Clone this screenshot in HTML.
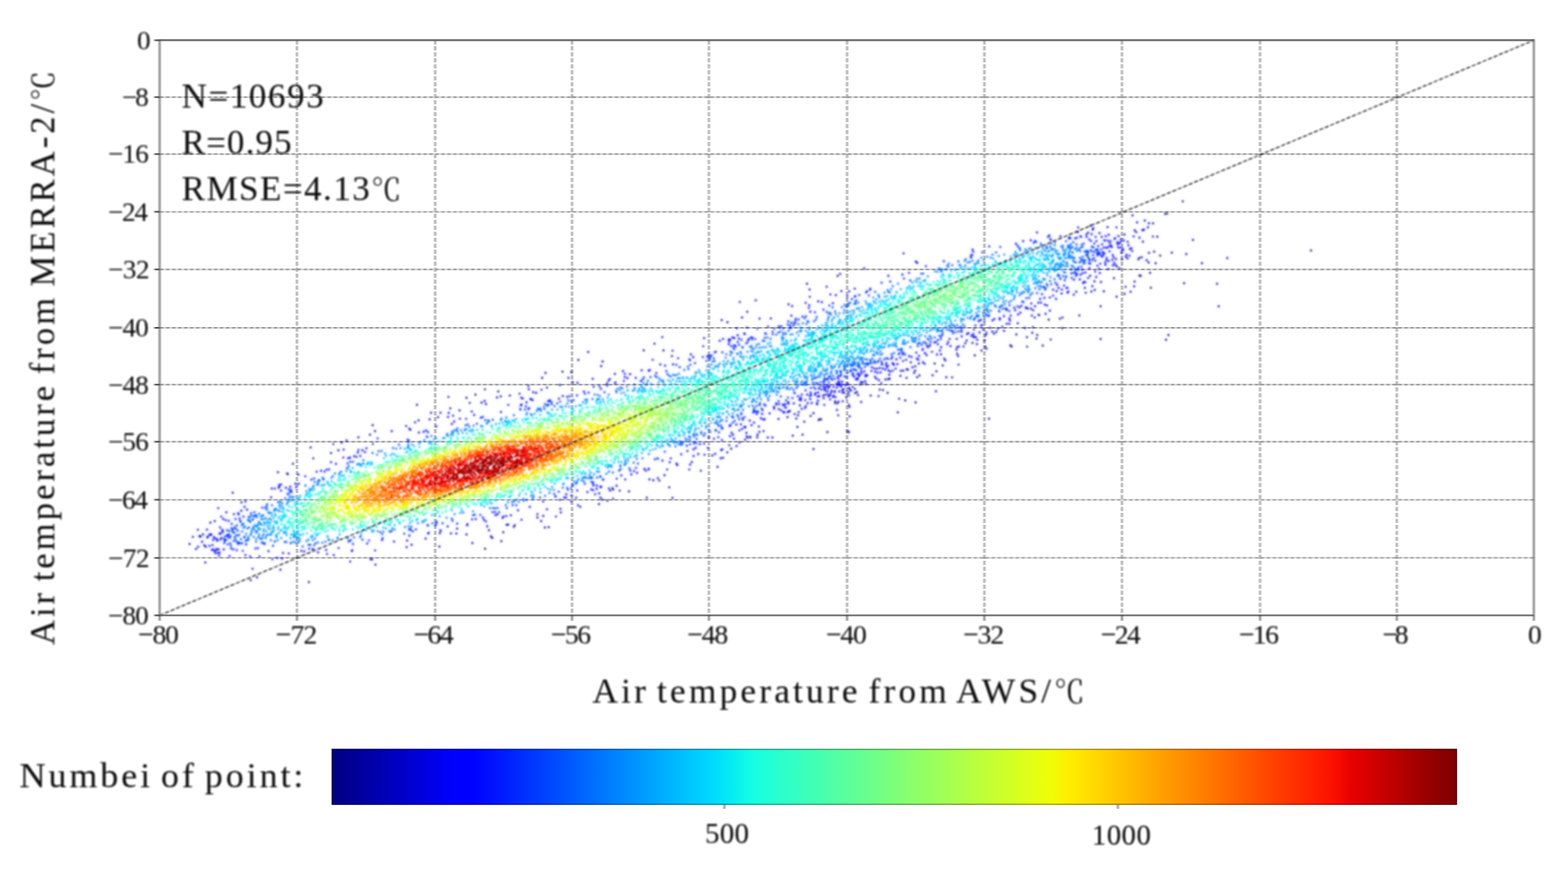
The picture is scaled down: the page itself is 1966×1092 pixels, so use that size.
<!DOCTYPE html>
<html lang="en"><head><meta charset="utf-8"><title>Air temperature from MERRA-2 vs AWS</title>
<style>
html,body{margin:0;padding:0;background:#fff;}
body{width:1966px;height:1092px;overflow:hidden;}
svg{display:block;}
text{font-family:"Liberation Serif","Noto Serif CJK SC",serif;fill:#111;stroke:#111;stroke-width:0.1px;}
</style></head><body>
<svg width="1966" height="1092" viewBox="0 0 1966 1092">
<defs><filter id="soft" x="0" y="0" width="100%" height="100%" filterUnits="userSpaceOnUse"><feGaussianBlur stdDeviation="0.8"/></filter><filter id="bleed" x="0" y="0" width="100%" height="100%" filterUnits="userSpaceOnUse"><feGaussianBlur stdDeviation="2.6"/></filter><filter id="lsoft" x="0" y="0" width="100%" height="100%" filterUnits="userSpaceOnUse"><feGaussianBlur stdDeviation="0.8 0"/></filter><filter id="tsoft" x="0" y="0" width="100%" height="100%" filterUnits="userSpaceOnUse"><feGaussianBlur stdDeviation="0.8"/></filter><linearGradient id="jet" x1="0" y1="0" x2="1" y2="0"><stop offset="0.0000" stop-color="#000080"/><stop offset="0.0156" stop-color="#000092"/><stop offset="0.0312" stop-color="#0000a4"/><stop offset="0.0469" stop-color="#0000b6"/><stop offset="0.0625" stop-color="#0000c8"/><stop offset="0.0781" stop-color="#0000da"/><stop offset="0.0938" stop-color="#0000ed"/><stop offset="0.1094" stop-color="#0000ff"/><stop offset="0.1250" stop-color="#0000ff"/><stop offset="0.1406" stop-color="#0010ff"/><stop offset="0.1562" stop-color="#0020ff"/><stop offset="0.1719" stop-color="#0030ff"/><stop offset="0.1875" stop-color="#0040ff"/><stop offset="0.2031" stop-color="#0050ff"/><stop offset="0.2188" stop-color="#0060ff"/><stop offset="0.2344" stop-color="#0070ff"/><stop offset="0.2500" stop-color="#0080ff"/><stop offset="0.2656" stop-color="#0090ff"/><stop offset="0.2812" stop-color="#00a0ff"/><stop offset="0.2969" stop-color="#00b0ff"/><stop offset="0.3125" stop-color="#00c0ff"/><stop offset="0.3281" stop-color="#00d0ff"/><stop offset="0.3438" stop-color="#00e0fb"/><stop offset="0.3594" stop-color="#09f0ee"/><stop offset="0.3750" stop-color="#16ffe1"/><stop offset="0.3906" stop-color="#23ffd4"/><stop offset="0.4062" stop-color="#30ffc7"/><stop offset="0.4219" stop-color="#3cffba"/><stop offset="0.4375" stop-color="#49ffad"/><stop offset="0.4531" stop-color="#56ffa0"/><stop offset="0.4688" stop-color="#63ff94"/><stop offset="0.4844" stop-color="#70ff87"/><stop offset="0.5000" stop-color="#7dff7a"/><stop offset="0.5156" stop-color="#8aff6d"/><stop offset="0.5312" stop-color="#97ff60"/><stop offset="0.5469" stop-color="#a4ff53"/><stop offset="0.5625" stop-color="#b1ff46"/><stop offset="0.5781" stop-color="#beff39"/><stop offset="0.5938" stop-color="#caff2c"/><stop offset="0.6094" stop-color="#d7ff1f"/><stop offset="0.6250" stop-color="#e4ff13"/><stop offset="0.6406" stop-color="#f1fc06"/><stop offset="0.6562" stop-color="#feed00"/><stop offset="0.6719" stop-color="#ffde00"/><stop offset="0.6875" stop-color="#ffd000"/><stop offset="0.7031" stop-color="#ffc100"/><stop offset="0.7188" stop-color="#ffb200"/><stop offset="0.7344" stop-color="#ffa300"/><stop offset="0.7500" stop-color="#ff9400"/><stop offset="0.7656" stop-color="#ff8600"/><stop offset="0.7812" stop-color="#ff7700"/><stop offset="0.7969" stop-color="#ff6800"/><stop offset="0.8125" stop-color="#ff5900"/><stop offset="0.8281" stop-color="#ff4a00"/><stop offset="0.8438" stop-color="#ff3b00"/><stop offset="0.8594" stop-color="#ff2d00"/><stop offset="0.8750" stop-color="#ff1e00"/><stop offset="0.8906" stop-color="#fa0f00"/><stop offset="0.9062" stop-color="#e80000"/><stop offset="0.9219" stop-color="#d60000"/><stop offset="0.9375" stop-color="#c40000"/><stop offset="0.9531" stop-color="#b20000"/><stop offset="0.9688" stop-color="#9f0000"/><stop offset="0.9844" stop-color="#8d0000"/><stop offset="1.0000" stop-color="#800000"/></linearGradient></defs>
<rect x="0" y="0" width="1966" height="1092" fill="#fff"/>
<g fill="none" filter="url(#lsoft)" stroke-dasharray="5.4 2.1"><path d="M372.4 50.4V771.5M545.6 50.4V771.5M717.3 50.4V771.5M888.8 50.4V771.5M1062.1 50.4V771.5M1234.3 50.4V771.5M1406.7 50.4V771.5M1579.9 50.4V771.5M1751.4 50.4V771.5" stroke="#3c3c3c" stroke-width="1.15"/><path d="M200.2 121.8H1923.2M200.2 193.2H1923.2M200.2 265.6H1923.2M200.2 337.7H1923.2M200.2 411.0H1923.2M200.2 482.3H1923.2M200.2 553.8H1923.2M200.2 626.6H1923.2M200.2 699.4H1923.2" stroke="#949494" stroke-width="1.9"/></g>
<g opacity="0.32" filter="url(#bleed)"><use href="#pts"/></g>
<g id="pts" fill="none" stroke-width="2.4" stroke-linecap="round" filter="url(#soft)">
<path stroke="#000089" d="M314.2 727.3h0m8.1-3.6h0m45-142.3h0m20 148.4h0m2.2-168.9h0m28.4-4.3h0m49.4-23.6h0m3.4 174.9h0m52.1-200.4h0m39.5-9.9h0m22.6 1.2h0m7.4 181.9h0m3.8-186h0m11.9-6.6h0m0.2 199.9h0m7.5-15.5h0m1.5 1.7h0m7.5-183.4h0m3.9 187.7h0m51.2-204.8h0m3.4 187.6h0m0.8-193.8h0m4 193.4h0m17.3-195h0m11 0.5h0m8.8-15.1h0m12.3-10h0m18.1 12h0m55.5 170.6h0m9.6-193h0m9.8-8.3h0m8.7 188.3h0m4.1 13.3h0m35.5-34.1h0m21-4.9h0m27.9-206.6h0m20-2.2h0m20.8 172.1h0m25.6-2.2h0m5.8-11h0m6.5 9.6h0m5.5-189.2h0m8.2 207.3h0m6.5-36.4h0m0.9-0.8h0m2.2-0.2h0m7.7 16.1h0m13.7-21.1h0m11.6 20h0m1.8 1.1h0m0.6-31.4h0m0.4 11.7h0m36.2-25.4h0m11.4-4.1h0m12.7 24.4h0m1.6-17h0m7.7 2.1h0m13 2.5h0m21.3-34.1h0m4.2 20.1h0m0.6-25.1h0m12.4 7.6h0m7.3 0.1h0m8-16h0m20.4-11.6h0m8.4-6.1h0m6.3-2.3h0m3.1 87.9h0m26.9-92h0m1.5 1.4h0m5.9-15.2h0m13.3 3.6h0m0.2 11.8h0m6.5-17.3h0m0.9-7h0m4.4 14.1h0m0.9-4.4h0m6.9 13.2h0m7.5-32.4h0m2.5 24.8h0m11.6-26.1h0m3 12h0m0.2-13.4h0m21.1-2.7h0m26.7 29.6h0m0-41.1h0m4-18.6h0m16 6.7h0m10-3.5h0m1.3-8.9h0m6.3 6.2h0m4.4-6.8h0m0.6-6.1h0m6.1-7.4h0m1.5 0.3h0m9.9-16.8h0m1.9 13h0m1 18.8h0m4.1-45.3h0m1.9 14.5h0m5.7-9.6h0m6-52.3h0m1.3 157.9h0m1.2-158.3h0m1.8 152.3h0m4.2-103.2h0m13.8-64.4h0m1.6 102.6h0m2.8-36.5h0m8.4-17.7h0m11.2 29.2h0m19 25.7h0m2 28.3h0m10.8-60.5h0m105-9.5h0"/>
<path stroke="#0000a4" d="M237.7 682h0m4.2-8.9h0m3.9 15.1h0m2.3-24.1h0m43.7-46.3h0m56.7-25.8h0m3.1 122.2h0m8.3-120.6h0m32.9-19h0m22.3-6.7h0m13.2-12.9h0m6.3-2.7h0m4.5 151.8h0m10.3-155.9h0m14.5-3.2h0m0.7 156h0m1.9 0.3h0m3.7-160.9h0m70.3-22.9h0m10.4 167.7h0m1.4-167.8h0m12.3-5.5h0m24.4-6.8h0m18.6-2.3h0m5.5 162h0m10.1-166.6h0m4.7-1.3h0m3.1 170.4h0m4.3-9.4h0m1.7-0.1h0m7.3 2.8h0m1-2.2h0m17.3-174.5h0m0.4 4h0m10.9 160.8h0m4.7 4.6h0m2.5-6.5h0m16 0.8h0m6.1-5.2h0m9.5-168.7h0m12 159.7h0m2.8 2h0m23.5-3.4h0m2.8-173h0m1.1 167.2h0m6.7 1.5h0m7.1-2.6h0m19.9-9.1h0m18.5-176.7h0m12.1 162.7h0m7.5 0.4h0m5.2-163.1h0m32.4 149.3h0m39.4-14.1h0m1.2-173.3h0m1.6 172.7h0m5.4-6.8h0m0.2-163.1h0m4.7 158.5h0m6.7-3.3h0m6.9-161.2h0m6.5-7.1h0m3.9 157.3h0m8.6 0h0m0.4-3.2h0m12.9 3.5h0m45.7-19.8h0m6.7-165.8h0m1.3 158.5h0m3.6-3.4h0m29.4-4.1h0m0.5-8.3h0m0.3-159.7h0m3.1-2.5h0m3.3 159.7h0m7.8 4.6h0m11.5-12.5h0m3.8 8.8h0m3.8-167.5h0m8.2 159.4h0m11.4-7.4h0m4 0.5h0m25.8-171.4h0m3.8 156.1h0m9.4-6.3h0m3.8 5.5h0m2.9-2.1h0m19.1-15h0m10.2 2.5h0m1.8-8.7h0m1.4 2.2h0m14.8-8.3h0m1.2 2.8h0m23.6-14.9h0m9.5-4.7h0m1 8h0m49.7-23.4h0m12.1-13.2h0m13.8-4.7h0m50.3-26.3h0m7.1-1.6h0m4.2-2h0m24.1-14.8h0m23.3-78.7h0m5.7 8.8h0m1.5 46.3h0m1.4-2h0m2.9-0.5h0m0.9-34.1h0m1.9-0.5h0m1.1-11.5h0m2.3 49.7h0m1.6-41.2h0m1.3 32h0m0-37h0m5 16.6h0m0.1-16.6h0m5.4 16.8h0"/>
<path stroke="#0000bb" d="M248.4 685.5h0m1.6-13.2h0m1.7 0.2h0m5.7 32.8h0m16.2-68.2h0m43.1 76h0m44.2-118.7h0m63.4-29.9h0m6.6-0.9h0m60.3-23.1h0m18.1-6.4h0m0.6 151.8h0m6.1-2.9h0m4.5-153.6h0m4.4-2.5h0m13.8-1.2h0m10.4-2.7h0m13.6-5.3h0m9.5 151.2h0m4-154.4h0m8.7 155.5h0m18.9-165.3h0m5.5 1.8h0m1.6 153.3h0m28.4-163.9h0m12.1-2.3h0m2.5 158h0m14.7-159.9h0m3.6 0.8h0m1.6 152.1h0m5.1-156h0m6.9-2.7h0m16.2-3.2h0m0.7 155.3h0m15.5-158.6h0m6 0.6h0m28.6 143.9h0m12.2-9h0m3.7-1.1h0m8.3 1.3h0m37.3-14.1h0m10.5-1.6h0m8.4-3.7h0m3.3-7.1h0m6.8-149h0m22 142.8h0m2.1-3.1h0m15.4-155.4h0m0.6 146.2h0m9.7 0.9h0m3.5-2h0m7.7-4.7h0m1.3-0.9h0m8.7-5.3h0m12.9-3.3h0m7.1-3.5h0m2-4.2h0m1.1 1.5h0m3.1-0.9h0m11.6-6.2h0m0.2-142.1h0m5 141h0m30.1-17.4h0m1.4-141.5h0m7.5 137.6h0m2.1 5.6h0m2.1-4.2h0m1-3.9h0m13.9-144.5h0m9.1 134.6h0m9 0.9h0m3-148.2h0m4.3 141.2h0m6.3 4.6h0m0.2-2.1h0m0.2-5.4h0m3.9 6.1h0m9.8-5.5h0m2.1-6.2h0m0.6-0.1h0m0.6 3.6h0m7.8-2.9h0m2.1-1.2h0m27.7-15h0m2.9 3.9h0m5.3-4.6h0m3.3-0.6h0m1.9-0.4h0m13.5-3.5h0m3.6-6.5h0m4.3-1.8h0m1.4 0.4h0m5.7-3h0m3.4 4.4h0m0.1-5.6h0m4.6-3.4h0m5.2-1.6h0m2.1 1.9h0m39.8-17.8h0m0.9-3h0m8-0.9h0m11.2-4.5h0m5.9-4h0m10.7-5.8h0m0.3-0.1h0m8.1-4.2h0m2.1 2.5h0m2.8-2.3h0m9.8-1.3h0m6.6-8.8h0m10.5-0.7h0m17.7-9.6h0m8.5-0.8h0m0.7 0.3h0m13.4-5.6h0m29.9-20.1h0m3.1-3.6h0m10.8-4.9h0m9.4-2.2h0m10.8-5.2h0m23-17.3h0m10.3-12.3h0m2.5-3.3h0m3.4-6h0m3.1-25.9h0m1.9 2.2h0m4.1 7.1h0m4.3 5h0"/>
<path stroke="#0000d1" d="M253.4 679.2h0m1.1-9.2h0m1.7 13.8h0m1.8 1.6h0m1.5-21.5h0m4.2-8.7h0m39-25.5h0m5.1-1h0m33-16.3h0m0.6 88.7h0m12.2-0.8h0m20.6-105.3h0m44.3 100.9h0m51.8-5.8h0m3.2-140.5h0m39.9-12.1h0m1.1 1.3h0m19.2 136.5h0m28.1-152.6h0m3.6 146.1h0m2.7-147.7h0m23.4-5.2h0m62-17.3h0m2.1 1h0m30.2 138.8h0m30.4-10h0m26.9-153.5h0m3.2 144.7h0m5-1.1h0m12.1-6.1h0m4.5-0.5h0m3.1-143.2h0m2.1 140.3h0m8-143.8h0m37.3-14.1h0m24.1-4.7h0m5.8 134.8h0m0.9 1.8h0m20.4-11.3h0m5.9-2.4h0m44.8-19.4h0m3.5-138.3h0m12.1 131.1h0m0.6-132.1h0m15 124.1h0m15-135.5h0m9.6 126.1h0m11.6-8.6h0m1-0.8h0m1.6-0.6h0m2.9-131.5h0m12.2 128.6h0m4.1-0.9h0m0.7-131.9h0m0.2 129.5h0m7.3-3.9h0m6.7 0.2h0m1.2-3.1h0m7.2-3.1h0m6.1-2.5h0m1.9-1.5h0m0.1 0.3h0m3.5 2.1h0m0.6-1.5h0m7.4-5.4h0m3.8-1.7h0m0.2 3h0m1.5-4.1h0m0.5 4.3h0m6.3-6.1h0m0.3 1.4h0m1.5 2h0m0.5 0.1h0m2.1-4.5h0m2.6 2.4h0m6.6-5.4h0m3.4-2.4h0m3-1.7h0m1.1 3.2h0m11.3-8.7h0m1.9 2.3h0m15.9-5.1h0m1.4-3.9h0m6.7-3.7h0m6.6 2.6h0m21.9-13.7h0m23.3-6.5h0m5-0.3h0m22.6-9.8h0m7.9-4.1h0m1.7-3.4h0m8.5-5.4h0m0.6 1.2h0m2.4 0h0m13.3-5.5h0m14.4-5.2h0m5.5-2.2h0m5.5-3.9h0m4.1-4.1h0m29.2-12.9h0m14.5-7h0m2.8 1h0m11.3-8.2h0m14.5-7.8h0m13.3-81.8h0m15.5-2.2h0m4.9 69.9h0m2.2-5.6h0m14.1-62.5h0m1 52.6h0m5.8-4.6h0m3.1-0.6h0m1.4-47h0m0.4 48.9h0m6.4-8.8h0m1.6-11.7h0m1.6-19.5h0m1.8 27.9h0m0.8-2.4h0m1.4-16.4h0m0.9 4.3h0m1.9 4.7h0m1.8-0.9h0m2.9-14.8h0"/>
<path stroke="#0000ed" d="M259.9 673.8h0m1.3-1.7h0m1.3 12.3h0m0.6-14.5h0m1.8 0.3h0m0.8 19.2h0m1.8-0.5h0m1.8-35.7h0m1 40.2h0m4.5 3.1h0m2.6-48.9h0m6.4-5.4h0m60.7-29.6h0m3.2 86.9h0m1.7-88.1h0m0.6-3.2h0m0.1 2.5h0m2.2-3.3h0m57.8 87.2h0m4.9-115.2h0m15.4-5.8h0m10.8 117.1h0m0.4-0.8h0m7.9-125.8h0m17.9-7.7h0m26.6 122.5h0m16.4-1.2h0m26.5-8.9h0m14.6-0.3h0m0.7-3.6h0m0.3 0.6h0m20.6-2.8h0m3.5-137.8h0m9.1 133.6h0m0.3-1.3h0m20.9-5.3h0m2.5 1.7h0m20.8-4.4h0m0.9-1.6h0m3.5-0.6h0m2.7-139.4h0m3.3 138.4h0m24.6-146.1h0m0.6 0.9h0m56.6 123.2h0m14.1-7.1h0m4.8-3.3h0m2.3 0.8h0m4.5-1.7h0m4.5-2.2h0m1.3-0.2h0m9.2-133h0m1.6-2.2h0m18.7-6.5h0m0.6 132.5h0m6-132.1h0m14.6-4.7h0m5.1 125.8h0m18.2-133.2h0m11.8 122.5h0m26.6-135.2h0m15.4-10.1h0m5.8 127.5h0m15-134.3h0m2.7 124.5h0m1.4-126.9h0m8.7 121.8h0m3.6-1.5h0m8.3-5.6h0m3.3-1.9h0m3-2.5h0m0.7 0.7h0m0.2-0.7h0m7.9-2.2h0m14.3-7.4h0m2.1 0.2h0m23.5-9.3h0m1.3 0.5h0m19.4-8.7h0m9.8-2.8h0m1.9-122.7h0m1.3 117.5h0m9.1-3.2h0m0.9-119.3h0m1.3 118.9h0m4.8-0.6h0m2.2-1.2h0m3.2-0.4h0m3.8-125.4h0m0.5 123.4h0m1.2-2.5h0m3.4 1.6h0m0.5-1.1h0m8.2-125.6h0m5.1 118.2h0m19.3-3.9h0m1.1 0.1h0m19.9-12h0m3.7-0.4h0m5.8-3.7h0m4.1 1.1h0m5.4 0.3h0m5.8-8.1h0m16.8-2.2h0m6.3-126.3h0m1.3 121.5h0m0.4-120h0m2.3 116.8h0m9.6-1.1h0m6.7-4.1h0m10-1.7h0m1.4-4.1h0m7.7-3.7h0m4.1 2.3h0m26.2-12.9h0m2.2-2.3h0m7.9-2h0m4.4-3.8h0m8.7-1.9h0m24.4-11.7h0m10.9-5.1h0m2.8-2.2h0m7.1-5.7h0m2.4 0.5h0m3.9 0.2h0m5.1-3.1h0m2.4-92.5h0m4.9 88.1h0m15.3-8.9h0m10.7-2.7h0m8.3-2.5h0m18.7-10.7h0m0.9-1.1h0m1.6 0h0m3.8-5.2h0m2.5-2.6h0m3.2-57.9h0m0.6-1.9h0m8.3 56.2h0m7-10.3h0m8.6-6h0m1.6-3.1h0m0.8 6.9h0m2.2-5h0m3.1-28.8h0m0.9 9.2h0m1.3 5.3h0m0.4-6.9h0m0.5-3.4h0m0.6 16.6h0m1.3-4.8h0m1.7-10.4h0"/>
<path stroke="#0000ff" d="M264.3 670.6h0m2 12.8h0m1-6.5h0m0.9-3.4h0m0.8 17.8h0m2.1-1.6h0m0.4-1.3h0m1.7 4.7h0m0.9-4.4h0m1.2 4.3h0m4.6-42.3h0m7.9 46.6h0m14.7-57.1h0m4.2-4.7h0m0.9 60.4h0m6 1.8h0m11.8 0h0m29.4-4.5h0m3.6-81.8h0m3.7 82.5h0m8.2-87.5h0m12.4-9.3h0m14.3-5.7h0m1.8 101.1h0m10.1-3h0m39.7-122.3h0m5.8-2.7h0m5.1-2.6h0m53.8 109.6h0m20.9-131.7h0m3.3 128.1h0m9.7-133.3h0m14.1 125.4h0m8.2-131.5h0m25-8.3h0m11.1 128.8h0m15.8-3.2h0m2.4-1h0m25.7-5.1h0m3.5-131.5h0m0.8-1h0m6.4-2.7h0m4.1 131h0m3.6-133.9h0m34.3 125h0m5.2-2.8h0m2.4 0.1h0m6.7-2.8h0m27.8-136.3h0m16.8-4.1h0m22.4-8h0m3.2 1.3h0m4.8 120.7h0m7.3-1.9h0m9.2-4.8h0m5.1 0.5h0m0.3-0.9h0m0-122.8h0m1.2-0.8h0m19.3-5.6h0m7.2 116.2h0m9.1-125.5h0m3.9 120.4h0m7.8-4.1h0m7.6-2.1h0m2.7-1.8h0m10.6-5.5h0m12.4-5.9h0m5.4-2h0m13.1-122.1h0m0.7 2.3h0m1.1-2.8h0m1.9 117h0m1.2-119.5h0m2.1 0.9h0m4.2-3.6h0m8.3-2h0m0.6 0.5h0m11.6 110.9h0m4.1-117.6h0m4.5 112.3h0m9-114.9h0m1.9 108.7h0m11.7-5.2h0m2.8 1.4h0m5.4-3.6h0m0.4 0.2h0m7-115.3h0m3.1 110h0m7.2-4.7h0m1.6 0.7h0m5.6-0.1h0m4.4-115.5h0m1.4 110.4h0m6.4-1.7h0m0.7-1.9h0m3.1-0.6h0m4.7-113.5h0m4.4 110.7h0m2.6 1.2h0m7.7-6h0m2.9-114.7h0m1.1 115.7h0m2.1-2.8h0m1.6-0.4h0m1.9 2.3h0m0.7-2.8h0m6.5-0.5h0m1.4-0.1h0m1.4-116.2h0m7-3.3h0m1.5 113.6h0m1.7-1.2h0m0.6 1.2h0m1.4-3.7h0m8.3-1.6h0m0.2 1.9h0m2-1.6h0m5.3-5.4h0m4.7 0.9h0m5.6-4.5h0m3.8 0.5h0m4.1-4.1h0m1.2 2.7h0m1.4-2h0m0.3-112.8h0m6.4 110.5h0m0.5 1.1h0m11.7-4.8h0m3.7-1.5h0m6.8-3.7h0m16.8-4.6h0m0.1-0.1h0m28.9-13.8h0m10.9-4h0m6.2-3.2h0m6.7-2.9h0m1.7-1h0m5.2-104.9h0m1.8 100.2h0m19.1-104.2h0m13.4 91.7h0m5.1-4.4h0m8.5-0.6h0m19.1-10.1h0m6.7-5.1h0m8.8-1h0m7.5-5.9h0m6.3-78.3h0m0.6 77.7h0m15.1-10h0m6-1.9h0m0.9-0.1h0m13-69.9h0m2.6 59.2h0m10.3-58.5h0m8.9 48.5h0m4.9-3.2h0m0.6-44.8h0m2.8 4.8h0m4.4 32.2h0m0.7-33.2h0m0.7 30.3h0m2.8 1h0m0.2-33.1h0m3.9 15.5h0m1.1 10.1h0m2.3-20.4h0m0.6-0.6h0m2.8 4.9h0m0.5 2.7h0m0.5 3.7h0"/>
<path stroke="#0008ff" d="M269.9 675.1h0m2.4 0.8h0m0.2 2h0m2.7-8.9h0m0.7-7.9h0m1.2 7.5h0m3.5 20.1h0m2.4-36.6h0m3.7 0.8h0m3.2 34.6h0m3.3-42.9h0m5.5-1.2h0m11.1-4.4h0m26.8 52h0m3.3-67.5h0m12.5-8.4h0m9.6-1.5h0m1.9-3.3h0m10.7-3.8h0m3.2 84.3h0m3.6 0.4h0m10.4-2.5h0m1.3-0.1h0m9.5-98.3h0m7-1.4h0m11.6-7.4h0m3.3 105.6h0m12.1-112.7h0m2.2-0.7h0m5.3-1.7h0m13.5-5.2h0m2.8 114.6h0m18.6-4.3h0m46.2-134.8h0m6-1h0m35.4-9.8h0m6.6 124.9h0m11.3-131.3h0m7.5 126h0m4.5-0.4h0m31.6-134.2h0m52.9 112.3h0m15.8-6.4h0m8.8-125.9h0m4.4 123.2h0m13.8-4.8h0m8.3-123.9h0m12.1 117.5h0m4.1 0.2h0m3.3-124.5h0m9.7-0.9h0m9.7-3.1h0m0.8-0.4h0m1.4 120.3h0m5.8-4.1h0m3.2-118.4h0m12.8 113h0m2.1-116.9h0m33.5 103.8h0m13.3-120.8h0m20.5-6.1h0m4.8-2.8h0m8.3 109h0m11.2-8.4h0m25.2-116.9h0m9.3 100.8h0m3.3-107.9h0m2.4 107.7h0m11.1-4.9h0m8.8-8.3h0m6.7 0h0m14.9-8.7h0m0.2 2h0m6-5.7h0m4.8 0.6h0m1.5 1.3h0m1.7-1.6h0m3.4-1.7h0m0.2-0.8h0m0.5 1.8h0m14.9-7.7h0m0.7 0.8h0m7.9-4.4h0m3.7-104.1h0m0.4 101.5h0m0.7 2.7h0m9.8-8.2h0m0.3 0.5h0m3.1 1.2h0m2.1-3.8h0m1.3 3.4h0m0.6-1.2h0m0.9-1.7h0m2.1-1.7h0m1.2 0.4h0m0 3h0m2-2.4h0m3.9-104.2h0m4.5 101h0m2.5-2.4h0m0.2 1.9h0m0.7-1.5h0m0.2-0.5h0m3.5-0.2h0m6.3-106.7h0m8.5 100.2h0m0.4-0.3h0m3.9-2.6h0m3 1.1h0m1.9-5.1h0m0.5 2.7h0m3.2-2.1h0m9.7-5.2h0m2.9 1.6h0m3.2 0.3h0m0.1-0.2h0m6.4-5.2h0m5.3-1.7h0m7.9 0.1h0m4.8-4.9h0m7.5-106.2h0m8.5 102.2h0m9-4.4h0m7.8-3.6h0m0.5-0.9h0m6.3-2.4h0m2.1-1.8h0m10.3-1.8h0m14.7-6.6h0m29.7-109.4h0m9.8 92.6h0m1.3-0.6h0m13.1-5.9h0m2.2-1.8h0m6.7-1h0m19.5-10.2h0m0.9-83.2h0m4.4 79.8h0m2.4-1.9h0m2.3-81.1h0m9.5-1.1h0m11.7 73.5h0m10-77.8h0m6.3 66.3h0m4.4 1.7h0m2.4-3.9h0m2.4-64.8h0m4.6 61.9h0m12.4-7.6h0m8.3-6.2h0m0.5-47.6h0m2.3 45.7h0m3.2-0.9h0m1.3-47.6h0m0.3 3h0m3.5 39.4h0m2.6-42.8h0m7.4 39.6h0m3.4-2.5h0m2.6-9.1h0m0.7-4.7h0m1.2-6.4h0m0.7 7.3h0m0.1-16.2h0m0.6-0.3h0m1.7 9.3h0m0.6 13h0m0.8-13.1h0m0.5-8.6h0m2.1 7.1h0m0.1 6.2h0m0.4-10.3h0m0.7-2.7h0m0.7 5.7h0"/>
<path stroke="#0020ff" d="M276.3 676.2h0m1.5-1.7h0m0.7-10.2h0m0.2 0.2h0m0.6 2.5h0m0.2-1h0m1.4 9.5h0m1.8 1.7h0m9.9 11.5h0m4.2 1.1h0m2.4-44.9h0m5.2 45.7h0m15.8-3h0m3-0.4h0m41.5-72.9h0m6.7-3.3h0m16.2 76.9h0m2.9-86.7h0m16.3-9.9h0m5.7-2.8h0m30.1 93.5h0m4.3-109.3h0m4.8-0.9h0m10.9 105.8h0m17.1-2.9h0m27.1-5.6h0m4.2-118h0m6.7 115h0m18.9-124.4h0m65.7 103.9h0m0.6-121.8h0m2.4-1.1h0m12.2 119.4h0m3.1-0.1h0m5.2 0.1h0m33.6-132.6h0m27.9-6.5h0m2.1-1.3h0m0.2 1.2h0m1.9 1.5h0m4.6 117.7h0m4.7-122.4h0m10.4-2.2h0m3-0.9h0m9.2-0.9h0m10.1-2.1h0m4.6-1.4h0m5.2 112.5h0m0.4 1.7h0m9.7-118.9h0m2.5 113.7h0m0.6 0h0m33.9-11.2h0m7-3.4h0m25.5-118.8h0m25.1-10.4h0m13.2 101.4h0m3.9-107.3h0m5 104.3h0m3.1-0.4h0m8-107.8h0m5.5-0.4h0m1.3-1.1h0m1.4-0.1h0m6.8-4.4h0m1.4-0.5h0m3.9 100.8h0m13.2-7.9h0m0.4 0h0m0.9-1.3h0m0.9-98.8h0m8.2-5.2h0m1.5 3.6h0m3-6.3h0m2 100.3h0m1.9-3.2h0m4.4-97h0m1.4-0.8h0m2-2.2h0m1.9 2.1h0m0.3-2.1h0m1.6 92.8h0m2.4-0.1h0m1.5 0.7h0m1.7-0.4h0m5.4-1.9h0m14.7-102.1h0m2.5 95.1h0m0-1.4h0m0.1 0.7h0m3.1-97.2h0m3.1-0.2h0m6.1 92.8h0m2.7-98.9h0m3.7 1.7h0m1.4 94.4h0m4.1-97.1h0m0.2-2.2h0m2.7 96.9h0m0.9-96.3h0m3.8 94.3h0m1-97.7h0m3.8 92.3h0m0.5-92.7h0m11.2-5.2h0m0.6 96h0m6.4-3.3h0m3.7-95.8h0m0.5 93.4h0m6.4-2.1h0m0.6-96.5h0m3.5 93h0m7.8-1.3h0m7.7-2.8h0m2.6 1h0m7.5-3h0m0.4-2.3h0m3.1-96.5h0m4.2 97h0m10.5-103h0m3.7-1.9h0m0.3-1.4h0m14.2-7.5h0m0.4 101.1h0m7.6-5.6h0m2.8-96.9h0m1.2 96.8h0m11.3-1.4h0m3-4.2h0m0.7-1.9h0m2.1 2h0m5.2-102.3h0m21.3-8.2h0m1.5 100.1h0m3.6-1.5h0m0.6-3.6h0m4.8 0.5h0m2.2-0.6h0m5.8-3.6h0m3.9-97.6h0m18.4 87.9h0m3.6 0.7h0m0.1-1.8h0m12.3-94.5h0m1.3-0.2h0m3.8 88.6h0m11.3-6.3h0m19.9-92.3h0m8 79.1h0m0.4-0.9h0m3 2.3h0m6.1-4.3h0m3.9-1.7h0m7.7-5.5h0m14.5-76.4h0m8.8 66.6h0m10.4-69.2h0m8.7 57.6h0m9.3-6h0m5.7-53.8h0m1.6 1.2h0m1.6 49.8h0m4.3-49.5h0m0.7 44h0m0.3 2.8h0m1.3-47.6h0m0.4 45.8h0m3.9-47.4h0m2.1 41.8h0m8.9-38h0m0.6 26.4h0m0.7 3.8h0m1-28.4h0m1.7 23.7h0m1.8-2.1h0m1.8 3.2h0m0.4-30h0m1 5.3h0m1.1 17.8h0m1-2.3h0m0.2-9.2h0m0.3 6.8h0m0.7 3.4h0m1.5-1.1h0m1.2 2.8h0m0.2-7.8h0m1-6.4h0m0.9 10h0m0.6 3.7h0"/>
<path stroke="#0034ff" d="M281.3 680.7h0m0.4-2.5h0m0.5-5.6h0m1.3 4h0m0.9-5.4h0m0.4-6.5h0m0.4 7.3h0m0.4 10.4h0m0.6-9.1h0m0-3.2h0m1-0.1h0m0.4-4.3h0m0.7 8.5h0m0.3 7.1h0m0.9 2.8h0m1-27.4h0m0.9 7.2h0m3.9-13.1h0m3.2 31.1h0m0.9-1.6h0m0.7 0.3h0m0.3-30.7h0m0.5 2.9h0m0.3 0.1h0m4-5.1h0m9.6-4.3h0m13.9-7.1h0m3.1 45.4h0m2.4-47h0m8 49.4h0m18.5-64.9h0m3-2.2h0m1.9-0.6h0m13.9 68.6h0m14.2-85.1h0m42.1-19.1h0m1.2 97.8h0m2.2-99.7h0m15.3 97.5h0m58-124.3h0m2.8 112.5h0m6.2-0.9h0m15.1-4.8h0m9.5-0.7h0m0.4-1.3h0m8.5-1h0m12.4-3.3h0m68-15.8h0m7.5-3.6h0m4.5 0h0m4.9-120.5h0m0.3 0.8h0m9.7-0.8h0m1.3-1.1h0m13.5 112.1h0m6.2-117h0m2.7 0.9h0m8.8 111.4h0m3.9-113.4h0m1.9 110.8h0m11.5-2.6h0m3.8-1.6h0m17.4-5.8h0m8.2-2.4h0m34.8-14.1h0m12.9-2.7h0m16.7-111.5h0m1.4-2.5h0m13.8 102.5h0m0.4-104.6h0m2.7 103.7h0m0.7 0.1h0m10.6-109.8h0m16.7-5h0m13 96.8h0m5.4-2.3h0m0.8-99.5h0m11.1 91h0m7.7-97.5h0m0.1-2h0m2-1.1h0m4.7 93.6h0m0.9 0.6h0m6.9-3.3h0m0.5 0.8h0m0.4-95.6h0m0.3 95.2h0m12.7-7h0m1.2-93.7h0m0.1-2.9h0m1.1 94.4h0m0.8-94.6h0m0.6 1.5h0m4.3 90.9h0m3.9-1.3h0m6.8-95.3h0m6.9 88.3h0m1.4-1.7h0m1.1-90.4h0m8.1 87.2h0m3.1-5.3h0m1.1-88.9h0m0.6 90.4h0m0.7-90h0m8.2-2.7h0m0.2 3.1h0m7.3 84.1h0m1.7-92.3h0m9.9-3.8h0m0.1 91.5h0m2.6-90.5h0m4.8-3.3h0m1.1 88.2h0m1-87.7h0m11.5-6.4h0m7.6 87.5h0m3.8-0.7h0m5-4.3h0m3.4-1.8h0m3.3-1h0m0.7 0.1h0m0.9-0.1h0m3.4-2.4h0m1.3-0.9h0m4-0.6h0m4 0.4h0m3.7-1.8h0m1.8-1.9h0m2 0h0m8.3-3.7h0m3.4-1.9h0m2.7-90.6h0m3.5-3.1h0m1.9 92.6h0m3.7-3.6h0m0.1-91h0m2.8 92.1h0m4.4-2h0m1.3-93.5h0m2 91h0m3.9-2.1h0m6.3-0.9h0m2.7-1.1h0m4.3-0.3h0m3.8-2.7h0m2.6-1.5h0m7.3-1.5h0m0 0.5h0m8-3.9h0m0.9-0.9h0m5.7-93.8h0m17.4 84.6h0m4.7-1.7h0m4.4-3.1h0m1.6 2.2h0m14.4-5.1h0m4-4h0m15-4.4h0m3.2-1.4h0m7.4-4.8h0m11.6-89.3h0m9.9 80.2h0m0.7-0.5h0m0.2 0h0m2-1h0m1.8-84.7h0m5.5 79.1h0m3 0h0m12.9-4.8h0m7.2-3.8h0m2 0.9h0m13.5-79.8h0m6 70.3h0m8.4-4.7h0m5.9-69.3h0m3-0.9h0m11.4 59.7h0m7.1-61.9h0m5.8 53.4h0m1.7 2.1h0m4.2-7.6h0m10.9-50h0m3 43.7h0m2.8-0.6h0m2.3-1.3h0m2.9-3.6h0m0.5 0.6h0m0.4 0.5h0m0.3-3.2h0m3.6-0.7h0m2.7-29h0m5 15.4h0m1.6 9.2h0m0.3-5.3h0m2.1-11.1h0m1.4-4.3h0m1.3 10.5h0m0.6-9.7h0m0.8 5.7h0m0.3-10.5h0m1.8 7.7h0m1 3.6h0m0.3-3.5h0m1.1-0.5h0"/>
<path stroke="#0048ff" d="M289 672.1h0m1.4-10.1h0m0.7 3.1h0m0.9 2h0m0.8 11h0m0.8-15.3h0m0.3 5.1h0m0.4 5.6h0m0.3-12.9h0m0.5 15h0m0.6 2.5h0m0.6-14.8h0m0.7-4.6h0m0.6 21.1h0m0.7-14.4h0m3 15.8h0m0.7-26.6h0m0.1 21.3h0m1.6 5.1h0m4.3-2.7h0m0.4 4.2h0m0.5-0.3h0m3-34.1h0m0.9 1h0m1.9-2.4h0m3.1 0.3h0m1.1-4.8h0m2.2 36.9h0m0.7-33.5h0m6.5 34.6h0m0.8-0.2h0m1.7 1.9h0m1.2-0.8h0m0.2-44.5h0m2.7-4.3h0m26.6-13.1h0m2.5-3h0m19-7.4h0m3.9 74.1h0m2.1 0.4h0m4.7 0.3h0m1.9-2.4h0m42.7-2.9h0m1.7-1h0m2.5-98.3h0m24.6-11.1h0m7.7-2.1h0m4.4 103.6h0m10.8-2.8h0m10.2-109.1h0m11.8-3.2h0m0.9 109.4h0m1.2-0.9h0m20.9-115.3h0m1.2 110.8h0m6-2.2h0m5.3-2.5h0m0.2 2h0m18.8-5.4h0m7.1-113.1h0m10.3-3.9h0m2.8-0.9h0m6.4 113.6h0m2.2-0.7h0m2.7-113.9h0m10.4-4.6h0m9.5-0.5h0m6 110.7h0m32.6-9.2h0m1.8-114.2h0m9.5 111.7h0m15.7-3.6h0m2.7-112.9h0m1.6-1.3h0m4-0.6h0m10.6-3.2h0m8.7 108.1h0m1.4-110.1h0m3.2 1.5h0m2.5 106.2h0m1.1-107.4h0m29.3 96.8h0m3.6-0.9h0m1-0.3h0m4.7-105.8h0m10.5 100.8h0m9.7-4.3h0m0.1-102.6h0m21.7 95.7h0m3.5-103.9h0m0.6 0.7h0m11.6-5.3h0m8 0h0m9.9 93.4h0m3.3-97.3h0m10.2 90.7h0m7.5-1.9h0m1.7-2.2h0m3.7-2.7h0m2.6-93.2h0m2.8 92.5h0m0.2-94.7h0m8 92.9h0m10.2-6.8h0m2.1-91.1h0m3.9-2h0m0.7 91h0m4.5-92.2h0m6.4 84.4h0m2.8 0.1h0m11.9-92.7h0m3.2 82.6h0m1.3-85.8h0m5.1 84.5h0m3.7-2.8h0m0.3-1.9h0m1-82.5h0m0.7 0.6h0m4.4-5.2h0m9.2 83.1h0m1.1-2.2h0m6.9-4h0m6-83.9h0m14.3-4h0m2.9-2.5h0m2.5-1.4h0m0.4 81.4h0m3.1-85h0m8.1-0.8h0m1.1 0.1h0m0.3-1.1h0m3-2.2h0m0.9-0.3h0m0.3 84.5h0m5.3-85.6h0m9.8 75.9h0m1.6-79.8h0m8.9 77.6h0m2.6-82.8h0m0.6 83.9h0m0-1.2h0m8.8-5.6h0m0.5 1.5h0m1.1-1.4h0m1.5-83.7h0m2 83.4h0m0.9-2.5h0m1.5 0.1h0m3.1-86.7h0m0.6 86.1h0m4.5-3.2h0m5.2-1.2h0m0.3 2.8h0m0-3.4h0m1.1-81.3h0m3.3-2.7h0m0.5 81.2h0m4-83.5h0m2.4-0.5h0m0.9 85.7h0m0.4-1.7h0m2.8-0.3h0m0.4-0.4h0m1.5 0.4h0m1.6-86.6h0m3.7 82.3h0m5.1-3.5h0m2.7 0.7h0m1.3-0.2h0m1.7-0.3h0m1.4-85.2h0m0.3 85.1h0m2.2-2.7h0m3.4 1.9h0m1-2.3h0m1-86.6h0m4.2 86.5h0m1.9-2.8h0m14.5-5.3h0m3-1.6h0m9.4-1.7h0m0.4-2.6h0m10.8-3.1h0m9.1-4.5h0m2.1-0.5h0m2.4-87.2h0m2.3 86.4h0m0.1-86.4h0m6.8 82.6h0m7.5-2.8h0m5.5-86.4h0m0.6 84.4h0m3.4-0.9h0m0.6-0.9h0m7.8-88.5h0m0.5 82.8h0m2.2 1.3h0m0.9-0.3h0m1.5 0.6h0m3.3-3.4h0m3.5-83.8h0m1 82.8h0m2.3-0.7h0m4.7-0.6h0m1.2-84.2h0m7.1-2.1h0m3.2 77.9h0m12.1-5.5h0m6.2 0.8h0m9.5-79.8h0m3.6 73.4h0m4.6-2.7h0m8.7-4.3h0m11.5-72.5h0m9.6 63.4h0m5.1-4h0m2.2-2.2h0m6.1 0h0m3-5h0m1.8-57.1h0m2.7 54.7h0m1.2-0.6h0m1.5 1.7h0m0.5 0h0m2.3-2.9h0m4.7-2.1h0m4.8-52.6h0m6.6 45.9h0m3.7-3.2h0m3.2 1.4h0m0.4-45.3h0m0.1 44.1h0m8.8-42.8h0m3 34.4h0m1.1-31.6h0m3.9 22.5h0m1.9-1.7h0m0.7-2.3h0m0.2-18.4h0m0.9 2.6h0m1 20.3h0m0.2-3.5h0m0.8 1.3h0m0.4 2.9h0m0.9-3.5h0m1.2-7h0m0.9-3.7h0m0.3-1.6h0m0.7 3.9h0m0.9 4.9h0m0.4-7.4h0m3.9-0.7h0"/>
<path stroke="#0060ff" d="M296 671.1h0m1.8 0.3h0m2-0.9h0m3.3-11.9h0m0.4 7.8h0m0.7-9.2h0m0.6-0.1h0m0.5-0.1h0m0.7 16.1h0m0.3 0.7h0m0.5-13.6h0m0.3 12.9h0m1.6-3.7h0m0.8 7.2h0m1 0.7h0m0.3-25.3h0m0.4 21.2h0m0.1 3.1h0m0.3-0.3h0m0.9-23.1h0m0.8-0.2h0m3.1-1h0m1.1-1.1h0m2.1-4.4h0m0.4 1h0m1.1 28.4h0m4-31.4h0m1.5 31.3h0m7.8-36.4h0m0.3-1.3h0m4.9 39.4h0m1.5-43.8h0m3.2 45.4h0m0.6 0.3h0m3.7-49.6h0m2.2 0.1h0m6.1 49.9h0m0.8-54.8h0m1.5 54.8h0m4.2-57h0m0.9 58.4h0m1.1-0.5h0m5.3 0h0m3.1-1.1h0m0.7 0.4h0m20.1-75.5h0m3.9 76h0m0.9-77.9h0m1.3-0.2h0m3.6 78.3h0m0.2-81.5h0m3.6 80.2h0m4.6-1.9h0m4.4 0.5h0m19-3h0m1-90.4h0m6.7 89.5h0m7.8-0.5h0m4-96.4h0m21.3 90.3h0m1.5-101.7h0m9.9 100.5h0m3.3-0.9h0m1.2-103.4h0m22.9 98.6h0m20.2-112.6h0m5-1.1h0m28.7-7h0m2.5-0.3h0m21.8-5.7h0m17.9-6.6h0m1.6 1h0m1.1 109h0m3.9 0h0m2.4 0.3h0m13.5-4.1h0m0.6-109.8h0m9.4-2.9h0m6.3 108.6h0m9.5-2.3h0m8.8-3.7h0m6.6-109.6h0m0.7-0.8h0m1.4-0.3h0m4.5-2h0m6.8 107.5h0m6.3-108.7h0m10.4 102.2h0m12.4-3.9h0m3.9-1.1h0m1.3-1.1h0m8.8-1.8h0m8.5-4.1h0m1.5 0.1h0m0.4-1h0m3.1-103.9h0m3.6 0.5h0m11.3 98.8h0m3.1-2.7h0m9.1-101.5h0m2.1-2.5h0m5.5-0.3h0m5.9-2.4h0m8.5 95.5h0m0.7-98.1h0m10.3 92.7h0m1.1-94.5h0m5.6-2.7h0m14.4-2.6h0m12.1-3.9h0m12.8 86.1h0m2-0.9h0m0.7-1.8h0m3.7-90.5h0m4.9 87.3h0m0.3-88.3h0m2.2 85.4h0m3.9-2.9h0m1.4 1.9h0m3.3-1.8h0m5.1-3.9h0m0.4 2.2h0m9.5-5.1h0m4.5-85.5h0m2.4-0.3h0m3.6 78.1h0m1 2.3h0m4.9-6.6h0m5.2-82.5h0m0.3 83.6h0m4.8-82.5h0m1.9 77.1h0m0.2-80.1h0m1.4 80.5h0m5.3-2.5h0m7.2-6.4h0m8.6-79h0m3.3 73.9h0m4.7 0.2h0m3.1-1.3h0m1.5-2.5h0m3.4-77.8h0m2.1 0.1h0m3.8-4.2h0m1.2 78.7h0m2.8-77.1h0m15.7-7.3h0m3.2 0.3h0m1.7 69.8h0m2-73.1h0m1.1 73.2h0m5.1 1h0m3.5-2.4h0m1-1.4h0m6.9-79.5h0m0.4 77h0m4.2-76.2h0m2.6-2.4h0m4.6 72h0m0.6 4.2h0m1.9-77.3h0m0.3 71.1h0m1.5 0.3h0m0.5-73.4h0m15.9-7.4h0m1.5-1.4h0m1.6 2.3h0m0.1 74.3h0m0.3-2.6h0m4.7-75.4h0m1.5 74.5h0m1 0.8h0m4 0h0m0.3-0.9h0m4.4-1h0m0.3-2.8h0m0.4 0.7h0m0.3-0.6h0m2-76.4h0m0.7-1.8h0m1.8-0.2h0m2.3 74.1h0m1.9 2.1h0m2.1-1.3h0m1.1-76.8h0m0.1 75.4h0m1.1-0.5h0m0.3-77.5h0m2.1 80.4h0m1.7-1.9h0m0.1-1.9h0m0.9 2.7h0m3.8-3.1h0m0.2-2.6h0m0.5 3.8h0m8.8-4.4h0m2.9-1.5h0m10.5-5.2h0m15.2-85.8h0m6.5 79.7h0m0.1-82.9h0m2.4 82.6h0m1.9-0.9h0m10.9-85.8h0m12.1 78.4h0m9.8-5.3h0m3.5-2.5h0m1.2 2.6h0m14-8.3h0m5.6-3.2h0m0.4-80.2h0m6.2-0.6h0m6 75.3h0m7.3-0.7h0m2.4-79.9h0m6.4 1.4h0m4.9 71.2h0m1.4-0.8h0m4.2-2.2h0m9.4-3.1h0m0.8 0.8h0m2.9-2.8h0m2.7-2.2h0m2.1-70.2h0m9 65.4h0m0.1 1.3h0m1.9-2.6h0m1.1-0.1h0m8.6-4.3h0m13.7-67.2h0m25.6 47.1h0m1.1-50.9h0m6.5 0.6h0m0.3 47.4h0m4.1-3.7h0m0.2-43h0m1.4-3.8h0m4 44.8h0m0.2-42.9h0m3.9 38.6h0m0.4-1.6h0m1.7 1.5h0m4.4-37.5h0m1.4 32.7h0m1.4 0.6h0m3.8-33.7h0m1.7 0.5h0m1.6-2.2h0m0.2 30.9h0m0.1 1h0m2.2-4.2h0m1.7-5.7h0m0.4 7.9h0m1.8-7.2h0m0.9-18.2h0m3.1 1.6h0m1.1 10.9h0m1.1-12.9h0m2.3 11.6h0m2.4-6.7h0m1.6 0h0"/>
<path stroke="#0074ff" d="M305.5 661.8h0m4.7 0.7h0m2-1.3h0m1.5-6.7h0m0.4 16.3h0m1.7-6.2h0m0.4-0.5h0m1.1-3.1h0m0.8 11.9h0m2.4-6.9h0m0.3-6.3h0m0.8 8.1h0m0.6-19.6h0m1.9 25.2h0m0.4-0.6h0m2.3 2.5h0m0.5-28h0m0.4 3.4h0m1.1 24.3h0m0.6-3.1h0m0.1-25.2h0m0.4-0.7h0m2.9 28.6h0m0.3-0.4h0m0.8-2.7h0m14.2 5.7h0m2.3-43.4h0m1.5-4.9h0m2 2.2h0m8.8-5.4h0m3.3-2.8h0m2.3 56.3h0m16.2-0.9h0m7.9-1.4h0m6-71.7h0m1.1-1.1h0m5.8-2.8h0m0.8-0.5h0m5.9 75.3h0m5.3-79.2h0m2.7-3.4h0m3.6 82h0m4.2-84h0m7-4.5h0m17.7 84.4h0m20.2-101.3h0m0.9 95.8h0m7.1 0.5h0m14.1-2.7h0m1.9-101.2h0m11.2 98.3h0m4-102.9h0m0.3 101.7h0m14.9-105.5h0m2.6 100.6h0m2.3-102.8h0m27.9 97.2h0m0.6-105.1h0m6.6-3.1h0m6.5-0.2h0m4.6-1.1h0m4.5-1h0m1.7-0.4h0m3.8-3.2h0m4.9 106.1h0m35.6-116.3h0m8.2 104.7h0m5.1 0h0m2-0.9h0m1.4-0.5h0m10.8-2.6h0m4.6-107.8h0m5.2 103.8h0m7-106.1h0m1.1-3h0m4.2 2.6h0m4.3-2.3h0m11.8 101.4h0m8.1-104h0m9-4.4h0m8.4 98.1h0m3.7-0.7h0m5.7-0.7h0m1.3-2.7h0m3-98.4h0m0.1 97.4h0m1.1 0.1h0m1.2-97.8h0m1.5 98.6h0m2.3-1.6h0m3.1-97.7h0m9.1-3.8h0m11.3-1.9h0m9.6-2.9h0m4.3-2.6h0m0.8 95.6h0m4.8-2.5h0m0.5 0.2h0m0.4 0.1h0m12-96h0m2.8 88.8h0m12.6-94.5h0m2.4 88.5h0m26.5-10.2h0m0.9-87h0m2.8-2.1h0m4.7 0.1h0m0.2 85.3h0m2.6-86.8h0m0.9 84.6h0m7.5-3.5h0m4.4-2.5h0m6.2-3.3h0m3 0.3h0m12.8-10.3h0m10.3-3.8h0m1 0h0m1.4-2.4h0m3.8 1.1h0m1.9-2.1h0m5.4-78.3h0m1.4 75h0m12.9-80h0m4.3-2.3h0m10.5 68.2h0m3.6-75.4h0m0.4 2.9h0m4.9-1.6h0m0.3 68.5h0m0.8-71.6h0m2.8-0.9h0m2.4 69.3h0m6.3-4.3h0m2.5 3h0m2-2.8h0m9-1.7h0m2-3.2h0m6.2-72.1h0m3-0.7h0m1.2 67.6h0m6.3 0h0m1.1-67.2h0m7.2 63.7h0m2.9-72.1h0m0.6 69.6h0m1.4-2.2h0m2.1 3.1h0m1.3-2.3h0m0.3 2.3h0m1-1.2h0m1.2-1h0m0.1-3.2h0m6.3-3.7h0m1 3.3h0m3.3-2h0m2.3-0.8h0m0.5 0.1h0m2.9-0.5h0m5.3-1.1h0m1.1-6.3h0m0.2 4.3h0m2.5-0.9h0m1.8-70.7h0m0.1-0.4h0m8.8-3.6h0m4.1 66.8h0m0.6-67.7h0m5.2-0.1h0m0.4 66.3h0m0.6-69.9h0m1.7 69.8h0m2.4-0.7h0m3.9 0.4h0m1.8-1.7h0m0.4 0.5h0m2.6-2.8h0m1.3-73.6h0m0.4-0.2h0m2.2 74h0m0.9-75.2h0m8.4 70.7h0m0.7-72.1h0m1.5 72.7h0m7.6-5.4h0m1.8-0.3h0m4.7-1.5h0m5.1 0.1h0m6.8-79.8h0m4.2-1.2h0m6.9 71.9h0m17.3-82.5h0m3.2 76h0m2.3 0.4h0m0.3-1.8h0m2.6-77.2h0m2.6 76h0m0.5-76.1h0m7.2 72.2h0m5.6-0.3h0m6.5-81.1h0m3 0.3h0m2 74.1h0m2.2-76.5h0m0.3 77.1h0m1.5-1.4h0m0.2-75.7h0m7.7-3.6h0m2.2 75.4h0m4.5-1.1h0m1.3 0.2h0m5.6-76.8h0m2.4 71h0m8.3-74.1h0m3.1 70.6h0m2.8-72.7h0m5.1 70h0m0-0.9h0m0.2-0.2h0m0.7-0.6h0m1.6 0.6h0m3.5-72.7h0m2.2 68.9h0m0.7-65.8h0m3.7 63h0m0.9-67.2h0m0.9 67.1h0m8.8-6.5h0m1 1.6h0m9.5-5.7h0m1.4 2.9h0m8.2-4.3h0m3.3-1.9h0m1.1-2.7h0m1-56.5h0m5.4 54h0m0.6-56.3h0m2.4 54.4h0m3-2h0m1.2-53.3h0m3.4 53.2h0m0.2 0.4h0m1.1-54.5h0m0.4 51.7h0m1.8-52.2h0m5.5 49.8h0m0.7-50.2h0m6.5 48.4h0m2.2-48.1h0m4.2 0h0m19-2.4h0m1.7 2.4h0m4.2 1.7h0m0.9 17.7h0m1.3 2.7h0m0.2-23.5h0m1.7 1.3h0m1.4 1.1h0m1.2-2.5h0m0.4 23.3h0m0.5-11.5h0m0.1-5.5h0m0.5-5.8h0m0.8 16.3h0m0.8-2.6h0m0.7-0.7h0m0.8-11.3h0m2.3 2.4h0m0.5-0.2h0m2.5-1.1h0m1.3 1.8h0"/>
<path stroke="#0088ff" d="M315.1 668.5h0m0.3-1.3h0m2.8-3.9h0m0.3-0.5h0m0.8-4h0m3.3 6.6h0m0.2-6h0m0.5-1.5h0m0.5 4.3h0m0.9-8.1h0m0.2 15.9h0m0.9-6.5h0m0.2-7.3h0m1.1 1h0m2.8-6.3h0m0.7 18.8h0m0.6-14.7h0m1.3-5.1h0m1 0h0m0.2 16.1h0m2.1 4.2h0m0.6-27.7h0m1.4 0.9h0m0.2-1h0m2.3 27.7h0m0.2-26.7h0m3.2-3h0m0.4-1.4h0m0.6-0.7h0m1.1-0.5h0m1.1 35.8h0m4.5-40.3h0m1.2 41.2h0m7.9-44.7h0m0.7-0.3h0m0.5-1.2h0m7-5.4h0m0.2 50.2h0m6.3 1.4h0m0.9 2.7h0m10.7-0.7h0m1.5-63.6h0m4-2.2h0m0.9-1.8h0m1.9 66.1h0m2.6-67.2h0m17.9-8.5h0m7.6 74.7h0m1.7-79.6h0m1.6-2.3h0m7.7-1.5h0m2.1-3.3h0m11.6-5.1h0m2-0.7h0m17 85.1h0m1.5-1.5h0m14.4-96.3h0m9.1 93.4h0m10.3-100.4h0m9.8-1.7h0m4.6-3h0m7.5 98.9h0m1.4-99.9h0m21.2-6.6h0m19.4-5.9h0m2.1-1.1h0m1.9 102h0m6.9-1.4h0m3.8-0.3h0m2.1-103.6h0m20.3-5.2h0m3.9 100.6h0m3.2-103.6h0m1.1-1h0m16.7-3.2h0m19.7 99.4h0m17.7-107h0m3.2 101.3h0m8.8-3.2h0m12.8-3.2h0m1.8-100.5h0m12.9-3.6h0m1.5 96.1h0m2.7-96.9h0m16 91.6h0m5.9-96.3h0m1.3 93.8h0m6.8-3.1h0m5.6-0.7h0m4.4-94.4h0m0.2 91h0m17.3-5.8h0m10.9-1.9h0m6.3-4.6h0m3.1-89.3h0m0.6 88.1h0m16.4-94h0m0.9 1.9h0m5.2-3.1h0m6.4-1.2h0m9.2-1.7h0m1.6 81.1h0m1.5-83.7h0m1.5 0.6h0m0.8 81.8h0m7.3-1.6h0m6.1-4.7h0m0.7 2.1h0m0.1-1.5h0m0.4-0.1h0m0.5-83h0m30.2-6.4h0m8.7 72.1h0m1.6-77.1h0m5.4-2.1h0m8.9 0.4h0m11.7-4.6h0m1.1 66.8h0m5-1.1h0m2.8-3.7h0m3.3-1.1h0m0.4-70h0m0.9 69.9h0m2.9-70.3h0m0.5 66.4h0m7.6-68.7h0m4.7-1h0m0.7 64.1h0m1.1-1.3h0m1.1-2.5h0m0.3-62.5h0m0.4 64.3h0m4.1-2.9h0m2.6-63.2h0m0.4 61h0m7.7-61.8h0m0.4 58.5h0m1.7-2.2h0m3.1-61.7h0m0.3 61.3h0m2.8-1h0m0.8-0.4h0m0.8 1.1h0m3.4 0h0m2.7-3.9h0m4.2-62.2h0m0.3-2.4h0m1.8 2h0m0.3 61.2h0m4.6-1.2h0m3.5-64.9h0m5.8 61.7h0m0.4-3.1h0m1.6 1.9h0m0.6-63h0m0.4 61.4h0m2.7-63.2h0m1.4 0.4h0m1.1-1.6h0m4 59.5h0m3.1-0.7h0m2.4-59.7h0m0.6-2.3h0m5.6 59.2h0m6.5-0.1h0m1.6-2.8h0m1.5 1.9h0m1.4-4.3h0m3.6 0.1h0m0.3-0.1h0m2.4-64.7h0m4.4 58.5h0m0.4 1.4h0m0.4 2.8h0m2.4-1.9h0m0.4-62.8h0m0.6 61.1h0m6.2-0.6h0m5.9-1.7h0m1.1-2.5h0m4.2 0.4h0m1.1-63.6h0m3.7 63.2h0m2-1.7h0m0-62.9h0m2.1 60.2h0m3-1.1h0m2.7 2.6h0m0.4-2.5h0m0.8 0.7h0m0.4 0h0m1.7-0.9h0m12.9-75.5h0m3.8 2.4h0m0.2 67h0m2.5-72.7h0m0.6 1.6h0m2 69.3h0m5.1-73.8h0m0.1 68.2h0m4.6-69.4h0m0.8 67.4h0m1.2-66.7h0m0.2 0.1h0m2.6 66.7h0m3.1 0.3h0m10.1-2.6h0m0.8-2.1h0m1.5 2.4h0m1.9-1.1h0m2.6-1.5h0m5.2-3h0m0.4-71.5h0m0.4 73.5h0m1.8-3.5h0m1.5 3h0m0.3-3.2h0m0.7-0.5h0m4.2-1.9h0m10.4-75h0m11.3 66.6h0m0.3 2.5h0m1-2.8h0m0.6 1.1h0m3.2-73.4h0m0.7-0.7h0m2.5 71.8h0m2.9-2.3h0m0.1-71.1h0m0.7-0.8h0m2.9 71.3h0m1.3 0.3h0m0.7-0.7h0m3.2-1h0m9.4-74.8h0m3.1 67.9h0m1.2 0h0m2-67.8h0m2.7 65.8h0m3.5-0.5h0m1.8-1.9h0m3.6-65.4h0m3.9-2.4h0m0.6-1.8h0m0.6 63.8h0m7.1-2.4h0m7.7-64.8h0m5.7 60.9h0m4.6-62.9h0m6.9-1.9h0m2.1 58.3h0m13.9-10.9h0m4.4 1.1h0m2.8-1.7h0m2.2-49.9h0m0.9 45.7h0m1.9 2.2h0m2-2h0m0.7-0.1h0m10.7-6.8h0m0.8 3.7h0m1-6.8h0m1.7 2.3h0m1.8-0.7h0m2.2-3.5h0m1.8 0.3h0m1.5-39.7h0m1.5 34.5h0m0.6-34h0m1.8 3.8h0m1.6 32.6h0m1.4-36.1h0m0.8 0.7h0m0.5 0.6h0m0.1 6.5h0m1.8 19.8h0m0.7-26.8h0m1.4 26h0m0.8 0.6h0m0.1-0.5h0m0.6-23.5h0m1.6 22h0m0.9-2.2h0m1-2h0m1.4 2.6h0m0.3-11.7h0m0.4 8.8h0m0.7 6.3h0m0.2-6h0m1.5-13.4h0m0.2-4.7h0m0.2-0.8h0m0 18.8h0m1.6-8.7h0m0.6-7.7h0m0.2 18.3h0m1.7-3.3h0m0.1-1.8h0m0.5-5.8h0m1.2-4.2h0m0.4-2.6h0m0.1 5.2h0m1.2-2h0m0.1-4.7h0m0.3 6.1h0m0.1 2.3h0m2.7-0.3h0m0.6-6.3h0"/>
<path stroke="#00a0ff" d="M323.7 656.6h0m2.6 6.6h0m1.3-5.7h0m0.4 0.4h0m2.2 7.8h0m0.9-2.2h0m0.3-5.4h0m1.9-2.3h0m2.2 4h0m0.5-3.8h0m1.4-5.6h0m0.9 20.2h0m0.1-8h0m0.4-12.2h0m0.2 19h0m0.7-17.7h0m0.6 14.9h0m0.9-19.9h0m0.6 15.9h0m0.2 4.4h0m0.6-4.8h0m0.9 2.9h0m1.9-18.2h0m0.5 24.9h0m0.9-32.2h0m0.3 30.6h0m2-30.2h0m1.9-3.2h0m0.1 4.3h0m3-6.1h0m1.8 32.9h0m3.5 3h0m0.2-38.7h0m4.6 42.6h0m1.1-47.3h0m1.9-1.5h0m1.2 47.6h0m2-1.6h0m1.4 0.8h0m1.1 2h0m3.4-53h0m7.8-6.3h0m4.3-1h0m2.3-1h0m0 60.3h0m8.2-66.3h0m11.5 64.9h0m0.3-68.3h0m15.4-9h0m13.2-4.6h0m2.9-3.9h0m9.2-3.6h0m1-0.7h0m2.6-1.1h0m1.1 0h0m5.8-1.4h0m6.1 85.2h0m15.9-2.8h0m0.2-90.6h0m23.3-9.1h0m3.4-1.1h0m3.5 93.9h0m15.7-1.9h0m2.5-0.2h0m1.3-1.8h0m4.4-97.8h0m5.6-2.2h0m7.4 95.9h0m4.4-98.1h0m1.8-0.1h0m2.9-3.4h0m1.7 0.6h0m3.7-0.9h0m8.9-1.4h0m4.6 96.4h0m12.4-102h0m13.2-3.7h0m17-3h0m11.5-4h0m0.9 0.3h0m25.8-7.9h0m6.6-0.1h0m3.6-1.3h0m16.8 94h0m5.2-1.9h0m6.6-97.2h0m7.4 93.6h0m7.3-97.2h0m8.2-0.6h0m8.7 89.8h0m5.3-95.4h0m4.9 88.7h0m7.8-1.4h0m0.9-90h0m1-0.3h0m0.9 90.7h0m0.2-91.4h0m4.4 0.7h0m6.1 85.3h0m1.1-1.1h0m2.2-1.3h0m13.8-90.6h0m3.3-1.1h0m2.2 84.5h0m0.9 4.2h0m7.8-90.9h0m2.3-0.5h0m0 82.9h0m2.6-1.4h0m0.3 0.6h0m3-84.2h0m20.7 75.3h0m9.4-85.2h0m0.1 2h0m5.3 76.7h0m0.8 0.1h0m0.4-79.2h0m4.1 76.4h0m1.3-77.3h0m3.7 73.7h0m2.4-75.4h0m2.3-0.4h0m4-0.8h0m1.4 72.6h0m4.4-72.1h0m3.1 67.8h0m6.4-1.1h0m0.9-73.3h0m0.5 70.6h0m1.3-70.5h0m2.1 70h0m1.3-70.2h0m2.5 67.2h0m10.5-73h0m1.2 68.5h0m1.9-4.2h0m1.1-0.1h0m2.3-66.1h0m1.4-0.2h0m1.8 64.4h0m0.4-63.3h0m1.2 61.5h0m1.2 1.7h0m0.1-67.7h0m3.3 62.7h0m0.6 0.3h0m0.3-61.6h0m0.2-4.1h0m3.7 63.3h0m0.6-60.2h0m0.4 60.1h0m4.3-60.1h0m2.1 57h0m1.1-61.5h0m0.1 61.4h0m0.2-64.2h0m7.7 61h0m0.7-63h0m0.3 61h0m1.5-60h0m0.1 60.3h0m1.9-57.3h0m0.3 55.7h0m0.3-59.2h0m11.2-1.6h0m0.5-4.5h0m3.7 1.7h0m2.4-1.4h0m1.6 0.1h0m0.7 52.3h0m2.4-58.2h0m2.4-0.5h0m1.2 56.9h0m2.6 1.2h0m0.7-0.5h0m0.5-61.6h0m2.8 2.8h0m1.5 52.4h0m0.3-52.3h0m0.5 52.8h0m4.3 0.7h0m0.9-3.1h0m4.2 0.9h0m1.2 1.9h0m0.9-5.5h0m1.9-53.9h0m0.6 57.9h0m4.2-5.2h0m3.3-2.1h0m5.6-1.4h0m4.5-59.9h0m0.1 58.1h0m2-54.6h0m7.2 49.9h0m0.8 0.9h0m0.5 1.2h0m0.5-57.9h0m1.2 53h0m1.7-50.7h0m3.6 53.3h0m2.9-3.9h0m2.3-4h0m0.8 2.6h0m0.7 0.4h0m2.5-55.8h0m4.6-1.7h0m1.9 53.9h0m3.2-57.1h0m1.2 59.4h0m0-1.9h0m1.1-59.6h0m3.8 57.8h0m1.1-57.6h0m1-2.8h0m2.8 58.7h0m4-62.2h0m2.5 59.3h0m2.9-1.6h0m0.3-1.6h0m3.2-3h0m1.9-58h0m1.3 61.3h0m1.1-1.5h0m0.3-2.6h0m1.5 2.4h0m2.2-4.4h0m0.5-57.2h0m0.9 59.2h0m0.9 0.7h0m4-62.5h0m1.2 59.8h0m0.9-60.1h0m0.7-0.4h0m1.8 61.6h0m1.9-63h0m2.5 58.8h0m3-62.6h0m0.4 60.4h0m2.3-60.3h0m3.9 57.1h0m2.7-60.5h0m0.3 63h0m3.9 0.4h0m2.1-3.4h0m0.9-64.7h0m2.7 62.2h0m1.5 0.5h0m2.4-64.1h0m4.9 62.9h0m1.6-2.5h0m4.2-1.3h0m3 1h0m6.4-69.3h0m3.5 64h0m1.1 0.6h0m8.5-4.5h0m0.5 0.1h0m1.2 1.5h0m3.4-71.9h0m2.7 1.1h0m5.1 66.2h0m6.8-2.8h0m7.6-4.4h0m1.1 0h0m3.5-0.4h0m18.4-6.5h0m4.9-3.6h0m7-2.1h0m0.9-64.2h0m0.3 64.8h0m18.2-8.1h0m0.1-61.5h0m2.2-1h0m10.3 57.3h0m1.1-1.5h0m7.2-6.2h0m0.2-55.4h0m6.2 52.8h0m6.3-2.1h0m0.9-3h0m13.8-1.1h0m1-50.2h0m1.4-2.1h0m12.6-0.3h0m0.5-4h0m0.4 44.9h0m1.5-0.3h0m5.1-41.9h0m1.6 38.6h0m1.9-2h0m1 1.9h0m2.3-2h0m0.4-37.6h0m5.9 34.4h0m0.1-0.5h0m1.1-35.4h0m0.5 6.3h0m1-5.9h0m2.3 27.8h0m0.9-26.7h0m0.6-0.7h0m3.8 6.9h0m0.3-8.5h0m2.4 22.7h0m0.3 0.8h0m0.3-0.1h0m0.2 2.7h0m0.9-4.8h0m0.3-1.1h0m0.1-18.2h0m0.4 16h0m0.5 1h0m0.3-14.7h0m1.7 1.4h0m0.3 12.3h0m0.5-8.4h0m0.5 8.8h0m0.7-12.9h0m0-0.9h0m0.5 7.2h0m0.6-1.1h0m0.7-0.1h0m0.2 5.8h0m1.1 1.6h0m1.7-4h0m1.6-6.5h0m0.2 7.5h0m0.4-10.9h0m0.6 1.2h0"/>
<path stroke="#00b4ff" d="M335.2 652.8h0m1.5 9.9h0m0.3-7.4h0m0.3 7.6h0m1.3-4.2h0m0.6-3.6h0m3.7 4h0m0.1-9.5h0m0.2 12h0m0.6-8h0m1.2-9.1h0m3.8 18.6h0m0.8 5.2h0m0.1-19h0m1.9 15.6h0m2.9-27.2h0m0.1 3.8h0m1.1-3.7h0m0.4 24.1h0m0.5 4.6h0m1.4 1h0m0.3 0.8h0m6.7 1.9h0m3 0.8h0m2-0.3h0m3.2-45.2h0m1.8 44.8h0m0.4-46.1h0m9.3-5.4h0m0.8 0.1h0m2.5-2.7h0m2.2 56h0m1.2-57.7h0m0.8 57.8h0m1.9-58.8h0m3 57.8h0m5.7-62.7h0m2.2-0.4h0m6.1-1.8h0m0 66.2h0m4.8-69h0m10.1 66.3h0m2.7-73.2h0m24.1-12.5h0m0.2 83.8h0m6.1-3.3h0m2-84h0m4.8-1h0m14.6 81.7h0m8.3-3.6h0m1-87.1h0m4.8-0.8h0m0.2 88.6h0m6.4-2.3h0m11.7-93.8h0m6.1-3.2h0m3.3 93h0m0.1-0.2h0m15.8-96.5h0m0.8-0.3h0m41.1-12.5h0m8.2-2.9h0m2.4 1.1h0m2.9-1.1h0m17.2 91.9h0m5.7-98h0m0.5 97.4h0m13-100.9h0m3.5-1.6h0m1.9 0.3h0m2.3-1.2h0m4.9-0.5h0m2.3-0.1h0m2.3-1.7h0m3.7 95.9h0m8.5-2h0m7.4-2.1h0m0.2-96.1h0m19.1-4.2h0m1.8 1.5h0m38.3-10.1h0m2.4 0h0m5.9-2.5h0m13.3-3.1h0m2.8 84.3h0m2.6-83.3h0m3.8 0.2h0m4.9-5.7h0m4.7 84.9h0m3.4-3h0m5.5-1.1h0m3.4 0.2h0m5.2-83.7h0m3 79h0m3.3-1.2h0m11.5-84.5h0m2.9 79.2h0m2.5-81.3h0m0.3 1.5h0m7.4 76.5h0m3.7-1.1h0m5.7-4.9h0m5.4-0.3h0m2.4-4h0m0.5-72.9h0m7.9-2.9h0m1.7 72.3h0m9.1-72.8h0m0.4 68.5h0m0.7-0.7h0m0.3-71.3h0m4.1-0.3h0m3.9-0.5h0m2.2 67.5h0m1.1 1.3h0m7.9-5.3h0m11.1-7.2h0m1.6-0.3h0m1-65.6h0m8.4-1.9h0m1.3-0.4h0m3.1 60.5h0m1.8-62.3h0m10-4.2h0m6-0.4h0m1.9-0.1h0m1.3 0h0m0.4 56.5h0m3.8-4.3h0m0.2-0.4h0m1.8-54.3h0m1.6 1.8h0m3.6 48.5h0m2.1-3h0m1.6 1.1h0m5.5-2.9h0m0.7-50.9h0m1-0.7h0m2.3 53.5h0m1.1-52.5h0m0.1-2.7h0m2.2 49h0m2.8-53.1h0m1.5 54.8h0m1.3-3.9h0m0.4-3.1h0m1.1-48.6h0m2.4 52.4h0m2.3-0.4h0m0.1-1.2h0m2-1.2h0m2.8-2.5h0m0.5-3.1h0m2.1 3.3h0m0.3-0.9h0m0.7 1.6h0m0.4-4.3h0m0.2-45.6h0m5.4 41.1h0m1.3 6.7h0m0.4-7.1h0m4.7-47.4h0m0.2 49.8h0m2-49.7h0m0.1 46.1h0m1.6-48.1h0m0.6 47.1h0m1.3-50h0m1 1.8h0m4.1 44.7h0m0.3-1.4h0m0.3-45h0m2.8 47h0m3.7-49.2h0m3.6 45.5h0m0.1-1.2h0m1.7 3.2h0m3.7-5.1h0m2.9-45.5h0m3.5 42.6h0m3 1.6h0m0.6-2.7h0m0.7-45.6h0m1-1.5h0m0.8 2.6h0m0.7 46.8h0m0.8-1.2h0m0.4-2.6h0m0.4 2.6h0m1.6-1.3h0m0.2-50h0m1.5 46.6h0m0.9-1.9h0m0.3-45.8h0m0.5 47.4h0m2.5-1.8h0m0.5 1.4h0m0.6-46.3h0m3.8-4h0m2.2-1.2h0m0.5 49.9h0m0.3-49.4h0m1.8 45.2h0m0.2 2.8h0m9.5 0.5h0m1.5-3.8h0m0.2-47.5h0m0.6 47.4h0m0.9-49.9h0m0.8-1.8h0m1.8 55h0m2-4h0m0.3 1.3h0m3.6-5.9h0m0.2-0.1h0m0.7 0.5h0m0.3-49.9h0m3.4-2.2h0m1.1 51.6h0m2.3-53.1h0m2.3-1.3h0m1.1 48.3h0m1.2-43.5h0m3.5 45.2h0m1.4-52.9h0m1 51.2h0m1 1.7h0m2.5-54h0m0.1 47.6h0m0.3 6.3h0m3-2.8h0m1.3-51.7h0m0 50.2h0m3.1-55.2h0m0.2-1.4h0m0.4-0.3h0m0 59.6h0m2-2h0m0.7-55.9h0m1.6 50h0m0.3 2.5h0m0.8-56h0m2.9 55.3h0m1.3 3h0m1.8-3.1h0m0.3-56.7h0m0.5 55.3h0m1.3 2.2h0m4.1-5.4h0m1 0.9h0m0.6-0.2h0m1.7-59.3h0m5.1 0.2h0m6.1 58h0m0.7-63.2h0m0.5-0.3h0m13.6-5.5h0m0.5 60.2h0m1-0.8h0m0.8-61.4h0m10.4 59.9h0m2-2.2h0m1.5-62.3h0m3.5-1.8h0m0.2 62.1h0m1.7-62.4h0m0.6-0.8h0m1.2 62.3h0m4.4 1h0m1.5-1.1h0m0.2-0.7h0m5-2.9h0m5.1-4.8h0m3.1 1.8h0m1.6-63.1h0m3.1 61.6h0m1.4-1.1h0m4.7-3.3h0m0.6 2.5h0m5.3-65.2h0m1.7-0.2h0m1.5 59.1h0m3.7-61.6h0m4.8-0.7h0m1.1 60h0m2.1-2.5h0m2.4-0.7h0m2.1 0.2h0m7.9-5h0m2.2-2.2h0m0.2 1.5h0m1.2 0.3h0m8.1-3.4h0m3 0.2h0m0.3-2.5h0m1.7-0.8h0m1.8 0.8h0m5-3.7h0m16.6-9.8h0m2.4-45.5h0m2 44.1h0m0.1 3.6h0m0.6-4.5h0m0.1-1.3h0m1.2-44.1h0m0.6 0.3h0m2.8 43.4h0m2.8-43.4h0m7.9 34.2h0m5.7-35.6h0m6.5 31.6h0m1.1-3.7h0m1.2 3.4h0m0.2-31.7h0m0.6 0.1h0m1.9 28.2h0m3.3-30.9h0m0.1 24.8h0m0.5-22.4h0m0.8 0.8h0m1.7 23.4h0m1.3-8.8h0m1.2-8.5h0m0.8-5.5h0m1.3 2.6h0m1.5 14.8h0m0.4 2.8h0m0.4 0.8h0m0.2-20.3h0m0.3 16.6h0m0.9-3.6h0m0.6-3h0m1 6.7h0m0.6-7.3h0m0.2-8.3h0m0.5 5.5h0m0.5 0.6h0m0.2-1.5h0m4.9 4.4h0m1.9-7.6h0"/>
<path stroke="#00c8ff" d="M345.5 655.3h0m0.8 0.3h0m0.2-1.5h0m0.9-0.4h0m0.1 2.5h0m1.5 4.6h0m4.2 4h0m3.1-18.4h0m1.9 14.7h0m0.8 6.3h0m0.7-4h0m0.3-23.7h0m2.5-5.1h0m3.3 35.3h0m2.1-4.4h0m1.1 3.7h0m0.6-39.8h0m0.4 38.8h0m2.8-0.4h0m0.7-41h0m0.6 38.8h0m3.3 5.2h0m2.8-1h0m3.7-48.9h0m1 47.7h0m12.6 1.2h0m1.1-0.2h0m8.4-62.1h0m18.4-9h0m5 67.1h0m0.6-69.6h0m21.6-12h0m3.4 80.1h0m4.3-81.9h0m0.5-0.2h0m4.1 81.4h0m0.1-82.9h0m7.4 79.9h0m9-86h0m10.8-5.6h0m22.4-5.2h0m0.8-0.1h0m1.6 89.4h0m23.7-97.2h0m24.6-6.4h0m1.1 90.6h0m1.6-94.2h0m17.3-2.2h0m13-4.5h0m5.1 94.2h0m11-2.9h0m11.5-99.4h0m12.1 91.9h0m28.3-6.8h0m4.4-1.7h0m6.7-94h0m0.1 92.5h0m6.1-2.3h0m4.3-92.3h0m0.8 0h0m6.9 88.1h0m9.8-92.5h0m0.1 0.3h0m6.7 85.7h0m5.3-87.2h0m1.5 85.7h0m5-1.7h0m5.2-2.3h0m4.7 0.2h0m0.2-1.3h0m25.1-8.9h0m3.2-2.1h0m0.5 1.1h0m2.9-82.6h0m33.8-10.5h0m0.4 0.9h0m4.2-0.4h0m1.5-2h0m0.3 2.7h0m0.6 73h0m0.4-1.3h0m2.4-74.1h0m0.6 73.5h0m6.3-75.9h0m6.8 71.1h0m2.2-72.8h0m4.2 69.8h0m5.7-2.5h0m2.3-0.4h0m3.5-2.7h0m0.9-67.7h0m4.6-0.5h0m1.6-3h0m2.7 67.9h0m0.2-3.3h0m2.7-63.6h0m3.3 62.8h0m1.4 1.2h0m3-5.1h0m4.5 0.9h0m0.3-1.6h0m0.4-62.2h0m0.6 59.6h0m0.7-61.8h0m3.8-0.2h0m0.1 60.8h0m0.1-62.9h0m4.7 59.5h0m2 0.3h0m0.6-60.9h0m0.7 2.5h0m3.7-1.6h0m1 55.7h0m3.2-59.1h0m0.2 2.6h0m0.8-1.9h0m2.5 0.4h0m0.2 1h0m0.4-0.5h0m7.5 50.1h0m2.9-0.6h0m5.1-5.9h0m0.8-51.6h0m0.6-1.6h0m2.7 50h0m1.9 2h0m3.2-50.4h0m0.7 47.6h0m0.1-50.5h0m0.6 46.4h0m2.1 4h0m1.1-53.4h0m0.9 48.8h0m0.2-44.1h0m0.1 44.3h0m0.7-42.6h0m2 40h0m0.9-46.9h0m1.1 3.1h0m9.2-9.6h0m0.5 52.9h0m3.8-50.6h0m0.9 41.8h0m0.1 3h0m2.9 0.5h0m1.1-48.9h0m0.9 42.3h0m0.9-37.9h0m1.3-4h0m2.4 43.2h0m2-43.6h0m1.7 41.3h0m0.8-2.1h0m1-41.3h0m3.3 42h0m0.2-1h0m0.9-1.8h0m0.6-41.5h0m1.9-1h0m1.1 40.6h0m2.3 0.7h0m0.3-6.2h0m0.2 5.5h0m0.6-41.8h0m1.5 41h0m2.8-40.6h0m2.2-2.8h0m0.5 36.6h0m0.7-36.1h0m1.8 35.3h0m1.8 1h0m0.6-42h0m0.2 42.1h0m3.9-41.9h0m0.4 4.6h0m2.1-4.3h0m0.2 0h0m0.5-1.5h0m3.1 4.6h0m2.7 32.6h0m0.5-35.7h0m1.3 35.1h0m0.2-29.6h0m0.5 34h0m0.8-45.5h0m2 43.8h0m0.6-39.1h0m3.9 33.1h0m0.6-0.3h0m2.5 3h0m1.1 0.6h0m1.7-10.9h0m1.1-29.9h0m3.3-5.8h0m0.4-1.6h0m0.6 42.8h0m0.3-2.5h0m0.5 4.8h0m0.3-44.4h0m0.9 41.5h0m0.2-42.8h0m2.5 2.2h0m0.1 34h0m0.3 5.8h0m1-41.2h0m0.7-2.2h0m0.2 39.9h0m0.8-40.2h0m3.9 38.2h0m0.3 2.3h0m0.6 2h0m0.3-2.3h0m0.6-2.2h0m0.7-0.6h0m1.3-2.4h0m3.2-37.8h0m2.7 0.5h0m0.4 38.1h0m0.1-40h0m0.8 0.4h0m1.3-3.3h0m0.7 43.5h0m0.8-42.4h0m0.8 41.7h0m2.3-42.8h0m0.4-0.6h0m0.2-0.9h0m0.4-2h0m1.2 44.5h0m6.8-3.1h0m0.3-42.1h0m0.3-1.6h0m0.4 43.4h0m1.9-2.7h0m0.3-42.8h0m0.7 46.1h0m1.1-1h0m0.4 0.3h0m1.3-1.4h0m1-45.4h0m0.6 40.4h0m0.5 3h0m0.4-41.7h0m0.2 0.1h0m1.6-3.1h0m0.3-3.6h0m2.8 44.7h0m1.2-43.7h0m0.5 45.7h0m0.3-44.8h0m1.6 45.9h0m1.3-3.1h0m6.9-1.4h0m2.5 0.6h0m0.7-48.2h0m1.7 47h0m2.6-46.9h0m0.2 43.6h0m1.6-3.2h0m2-46.8h0m0.1-1.3h0m0.4 48.4h0m0.4-47.7h0m0.1 48.5h0m5.7 0.1h0m0.2-0.2h0m3.3-52.9h0m0.9 49.7h0m1.5-1.4h0m4.6 2.6h0m0.1-54.3h0m0.3 50.2h0m0.1-49.1h0m4.2-1.3h0m1.9 51.9h0m2-53.3h0m0.9 49.8h0m3.4-50.9h0m2-2.4h0m1.7 54.1h0m0.1-2.3h0m0-52.6h0m1.8 54.5h0m0.5-2.3h0m2.2-0.8h0m2.1-1.2h0m6.1-1.2h0m1.5-58.1h0m0.5 55.3h0m4.3-56.2h0m1.8 55.9h0m0.6-54.6h0m1.1-2.8h0m0.2 60h0m0.3-60.2h0m3.2 56.3h0m4.9-60.1h0m0.1 3.4h0m1.9 52.3h0m2 3.4h0m4.3-4.3h0m10.2-3.3h0m0.9 1.1h0m6.9-61.2h0m2.3 57.2h0m4.4-3.5h0m2.4-0.8h0m3.4-59.5h0m14.2 54.1h0m1.4-2.6h0m0.5 3.6h0m2.9-4.9h0m0.8-54.1h0m3.3 0.3h0m2.3 52.1h0m0.4 1.3h0m3.8-56.7h0m0.6 2.9h0m7.9-3.5h0m0.3-0.1h0m0.9 52.3h0m4.5-7.3h0m0.1 1.4h0m4.7-2.8h0m5.1-2.1h0m1.5-46.6h0m1.1 2h0m1.6 42.3h0m0.3-1h0m0.8-0.7h0m1.7 3.4h0m1.3-0.2h0m4.7-6.9h0m3.5-0.5h0m0.8 2.3h0m3.4-0.5h0m1-3.8h0m0.4 1.4h0m5.7-3.2h0m1.4-1.7h0m2.7-36.4h0m3.4 31h0m0.3-33h0m0.6 37.3h0m0.3-37.4h0m1.4-1.2h0m0.5 36.8h0m3.8-4.9h0m5.5-7.2h0m1.5-24.2h0m0.1 26.5h0m0.1 1.6h0m1.2-0.2h0m1.4-4.3h0m2.8-3.5h0m1.9-2.8h0m0.6-12.2h0m0.7 12.7h0m0.3-18h0m0.9 12.4h0m1.4-2.8h0m1.4 5.2h0m0.2-11.4h0m1.2 1.7h0m1.5 9.4h0m0.6-14.9h0m0.7 4h0m1-0.1h0m0.7 0.1h0m0.3 1.4h0m0.6 4.2h0m3.8-3.1h0"/>
<path stroke="#00e0fb" d="M350.6 647.6h0m1.4 4.4h0m0.8 5.2h0m0.2-6.3h0m0.4 1.8h0m0.4-5.9h0m0.6 2.8h0m0.7-1.7h0m0.1 0.1h0m0.2-5.8h0m0.5 6h0m0.7 10.1h0m0.5 0.3h0m0.1 3.4h0m0.5-17h0m1 2.4h0m2.8 14.4h0m1.3-21.6h0m5.8 24.9h0m0.7 2.3h0m0.1-34.5h0m3-1.1h0m5.3-0.8h0m4.3-6.3h0m1.6-3h0m3.8 1.1h0m0.4-3.7h0m6.6 49.3h0m10.3-56h0m3.3 53.9h0m11.3-60.7h0m20.2-13.5h0m1.2-0.4h0m1.6 72.1h0m21.9-81.1h0m1.4 77.6h0m21-2.7h0m10.8-85.7h0m4.2 83.1h0m4.5-2.1h0m3.1-85.7h0m1.6-0.9h0m12.5 83.7h0m2.5-89.7h0m15.2 85.3h0m0.3-88.8h0m1.7 88.7h0m8.3-92.6h0m27.2 84.7h0m7.9-2.5h0m0.8-0.5h0m15.5-3.6h0m1 1h0m1.5-93.1h0m11.4-3.9h0m3.8 91.8h0m1.4 0.8h0m14.4-96.3h0m0.1 0.2h0m1.9-1h0m1.3 92.1h0m0.1-93.5h0m0.2 93.4h0m5.7-92.7h0m6.5 88.1h0m3.1-91.4h0m0.2 88.7h0m2.9-90.3h0m1.5 1.8h0m1.6-1.4h0m1.1-0.6h0m5.9-0.3h0m23-4.4h0m4.9-0.9h0m13.6 80.7h0m1.5-1.7h0m6.4-84.4h0m1.8 0.9h0m10.5 79h0m1.2-2.3h0m0.3 0.5h0m7.5-2h0m9.1-84.1h0m0.6 81.6h0m2.1-82h0m3.6 76.4h0m5.1 0.9h0m3-80.2h0m9 73.5h0m11-4.1h0m0.2 2.3h0m4.7-77.8h0m2.8 74.1h0m1.9-73.2h0m0.9 70.9h0m7.4-76.1h0m8.1-0.9h0m0.3 0.1h0m2.6 69.4h0m2.5-70.6h0m3-0.5h0m0.4 68.5h0m5.4-67.4h0m1.2 65h0m5.4-3.5h0m2-63.9h0m2.4-4.2h0m6.3 61.3h0m0.6 0h0m0.6-63.4h0m2.8 64h0m10.5-5.5h0m2.3-62.4h0m0.7 3.7h0m2.4-3.6h0m3.9 59h0m0.2-58.9h0m0.6-3.2h0m0.2 60.4h0m1.5-56.7h0m1.2 54.6h0m0.8-1.5h0m0.1 0.6h0m1.9-58.7h0m0.1 56.5h0m0.5-53.9h0m3.9 0.8h0m1.5-1.1h0m1.6-0.5h0m0.2 51.5h0m2.4-0.8h0m1.8-55.4h0m0.9 48.3h0m6.1-47.9h0m1.9 46.3h0m0.6 3.4h0m2.9-4.4h0m1.4-2.6h0m1.9 0.9h0m0.3-0.6h0m0 1h0m2.5-50.3h0m1 46.2h0m0.8 2.1h0m2.1-3.6h0m1.1 3h0m0.9-47.5h0m0.2 2.1h0m0.8-2.6h0m0.9 42h0m4.3-0.2h0m0.7-40.8h0m3.3 36.8h0m0.2-5.3h0m6.2 0.4h0m0.7 1.3h0m1.5-37.3h0m3.8-4.6h0m4.4 31.4h0m1.1-2.6h0m2-31h0m1.1-0.6h0m0.9 1.4h0m0.3 38.3h0m0.5-5.9h0m0.2 0.5h0m0.3 5h0m0.9-37.4h0m1.1 32.2h0m1.1-8.3h0m0.2-25.3h0m0.8-1.2h0m2 35.6h0m0.1-34.2h0m0.3 28.8h0m0.7 7h0m1.2-39.9h0m0.1 30.1h0m0.5-31.9h0m0.7 28.1h0m0-25.5h0m0.2-2.4h0m0.7 4.1h0m2.9 30.1h0m0.2-3.3h0m1.4 4.3h0m0.5-30.4h0m0.1-4.2h0m0.4 2.2h0m0.3-2h0m0.8 39.7h0m0.6-9.7h0m0.1-2.2h0m0.2-28.7h0m0.3-2.9h0m1.5 31.8h0m0.2-26h0m3.7-9.2h0m1.1 17.1h0m0.4-14.1h0m0.9-1.1h0m1.5 34.7h0m0.2-0.2h0m1.7-3.3h0m0.7-36h0m0.3 1.8h0m0.2 35.4h0m0.7-3.7h0m0.1-28.9h0m0.5-1h0m0.5 27.5h0m0.1-1.9h0m0.5 1.5h0m0.3 6.1h0m1.1-32.2h0m0 24.4h0m0.6-28.5h0m0.6 1h0m1.8 17.4h0m0.4 5.9h0m0.8 0.3h0m0.6 7.7h0m1.3-3.2h0m0.5-0.7h0m0.4 2.4h0m1.5-30.7h0m0.7 27h0m0 3.4h0m1-32.6h0m1.4 32h0m0.3-3.6h0m0.1-1.3h0m0.4-0.4h0m1-27.8h0m1.1 0.6h0m0.2 0.5h0m0.1-0.9h0m0.1 2.4h0m1.6-5.6h0m0.7 3.5h0m1.9-4.1h0m0.3 1.5h0m0.7-1.8h0m0.9 31.6h0m0.3-31.2h0m0.1 29.3h0m0.6-36.2h0m0.2 4.1h0m2.2 5.4h0m0 29.2h0m1.2-5.8h0m1.3-25.9h0m1.3 27.7h0m0.3-2.1h0m0.5-0.4h0m0.9 6.3h0m0.2-5.1h0m0.7 3.2h0m0.1-4.1h0m0.8-25.2h0m1.2-7.3h0m0.1 5.7h0m3-4h0m1.6 2.9h0m1-4.9h0m0.6 0h0m1.5 35.1h0m1.2-36.4h0m0.3 32.7h0m0.1 1.1h0m0.5-36.4h0m0.1-2.3h0m0.7 1.6h0m0.1 2.4h0m0.2 3.3h0m0.9 20.3h0m4.4-26.4h0m1.2 32.6h0m0-4.8h0m0.9 7.2h0m0.9-33h0m0.7 34.5h0m1.5-41.7h0m1.8 30.4h0m0.4-27.6h0m0.2 31.6h0m1.1-25.9h0m1.2-1.7h0m0.1 22.1h0m0.2-29.4h0m0.1 1.3h0m0.2 30.2h0m2-23.3h0m1.2-9.9h0m0.2 32.3h0m0.9-35.2h0m0.3 39.5h0m1.1-1.7h0m0-28.9h0m1.4-5.5h0m0.4 26h0m1.6 9.2h0m1.2-7.1h0m0.7-31.2h0m0.6 30.8h0m0.3 3.8h0m0.9-35.4h0m0.5 32.5h0m0.1-34.9h0m0.3 2.7h0m1.4 4h0m0.3 27h0m3.7 3.9h0m0.5-36.3h0m0.1 34.5h0m0.3-2.1h0m0.1 2.4h0m0.2-38.4h0m0.6 34.8h0m1.2-34.9h0m0.8-1.3h0m1.4 4.1h0m2.5-7.9h0m1.2 41.9h0m1.7-3.2h0m1.5-36.2h0m0.5-4.1h0m0.5 2.6h0m1.1 32.3h0m2.6-33.7h0m2.9 33.6h0m0.4 4.3h0m0.7-42.1h0m0.3 41h0m3.1-0.6h0m0.2-41.9h0m1 43h0m0.2-1.4h0m0.5-40.6h0m2.6 35.1h0m1.8 4.9h0m3.6-6.8h0m1.1-40.4h0m3.3-3.5h0m0.2 0.5h0m0.3 1.9h0m1 0.5h0m1.4 43.3h0m1.9-44.3h0m0.2 42.9h0m0.5 2.5h0m2-5.6h0m1.9-40h0m5.9-7.8h0m2.4 0.7h0m1.8 47.2h0m0.7-3h0m0.1-41.2h0m0-5.6h0m2.1 47.7h0m5.2-1.3h0m0.7-3.2h0m0.5-46h0m0.6 46.5h0m2-0.9h0m3-1.8h0m1.8 1.7h0m0.1-48.6h0m4.1 48h0m0.7 1.2h0m0.2-3.1h0m0.3-48.8h0m3.1-2.9h0m1.2 50.1h0m3.2-52.2h0m5.4 51.2h0m4.8-56h0m2.2 53h0m0.7 1.2h0m1.9-2h0m1.5-51.9h0m4.1-3.1h0m5.4 52.8h0m9.7-6.5h0m1.2 1.6h0m0.1-0.5h0m0.1 0h0m5-57.4h0m2.6 52.4h0m4-0.2h0m0.1-53.6h0m0.4 54.2h0m1.3-52.4h0m0.8-0.7h0m5.4 50.2h0m2.5-53.3h0m0.4 50.1h0m2.2-0.8h0m5.9-50.8h0m3.3 45.6h0m3.9-2.4h0m1 4.4h0m1.8-52.6h0m2.8-1h0m9 43.2h0m4.2 0.2h0m0.3-45.5h0m0.4 46.3h0m4.1-5.5h0m0.3 2h0m2.4 0.4h0m3.3-44.6h0m1.3 42.3h0m1.9-6.4h0m4-36.5h0m1.6-0.6h0m4.1 35.9h0m1.2-1.3h0m0.1 0.9h0m1-38.6h0m5.6 0.8h0m0.3-1.3h0m1.1 34.9h0m0.3-0.7h0m1.5-0.7h0m2.3 0.2h0m0.3-35h0m6.5 1.1h0m0.6 25.3h0m1.1-3.3h0m1.9-24.9h0m3.6 4.2h0m0.4 22.3h0m0.8-1.8h0m0.9-0.3h0m1-26.6h0m0.5 23.5h0m1.1-12.4h0m0.6-8.3h0m0.4-1.4h0m0.1 3.3h0m0.1 9.8h0m0.4 1.6h0m0.8-14h0m0.4 15.1h0m0.1 6.7h0m0.2-22.7h0m0.2 2.7h0m0.8 25.5h0m0.6-6.4h0m0.8-2.5h0m0.2-13.3h0m0.3 8.1h0m0.3-2.2h0m0.3-10.8h0m0.3 16.6h0m1.7-15.2h0m0.4 7h0m1.4 0.6h0m0.1-6.6h0m1.3 5.2h0m0.4-5.5h0m2 12.9h0m1.9-1.3h0m0.9-3.1h0m1.4-1.8h0m2.1 3.9h0"/>
<path stroke="#0cf4eb" d="M358.9 647.5h0m1.4 7.4h0m0.2-0.8h0m1.9-1.4h0m0.8 7.4h0m0.1-10.7h0m1.1 6.7h0m1.8-20.1h0m0.7 25.5h0m0.6-2.2h0m5.6-0.3h0m0.3 3.5h0m2.5-31h0m0.6-0.3h0m2 33.4h0m0.5-33.7h0m7.6-8.4h0m2.3-1.2h0m2.3-0.6h0m5.4 44.2h0m4.5 3.4h0m10.1-3.4h0m1.8-55.8h0m0.2-1.3h0m1.6 1h0m5.3 55.1h0m3.7-62h0m1.4 63.7h0m1.7-64.1h0m5.5-2.2h0m1.6 63.9h0m10.2-71h0m4 0.5h0m0.8 69.5h0m3.2-2.5h0m2.5-0.5h0m3.6-73.6h0m8.4-3.4h0m24 72.5h0m7.7-83.1h0m0.3 81.6h0m14.5-2h0m1.9-2.6h0m0.1-83.3h0m6.1-0.6h0m10.3 80.4h0m16.4-2.4h0m6.7-0.3h0m4.5-1.4h0m6.3-88.7h0m7.8-3.8h0m19.6-4.1h0m0.1-0.5h0m0.9 88h0m3.2 0.6h0m10-2.4h0m1.2-1.7h0m2.2-0.4h0m15.2-91.6h0m1.3 87.5h0m1.8-2.2h0m2.3-87.6h0m0.6 87.9h0m1.6-89.4h0m2 0.6h0m3.2-1.7h0m3 0.3h0m0.3 88.8h0m20.4-7h0m7.8-2.5h0m2.6-86.8h0m7.4 83h0m1.9-0.3h0m9.8-2.3h0m0.3-82.7h0m5.2 80.3h0m1.3 0.6h0m7.4-85.1h0m20.7 74.5h0m0.4-1h0m0.4-77.1h0m3.1-2h0m4.9-1.1h0m1.7-0.9h0m6.1 75.6h0m0.3 0.2h0m9.3-79.4h0m0.3 0.6h0m2.5 74.5h0m6.8-76.2h0m4.1 71.9h0m3.9-0.8h0m2.4-74.4h0m1.7 70.8h0m1 2.1h0m2.8-73h0m6.1 67.2h0m0.4-0.4h0m2.7-69.7h0m0.3 70.1h0m0.2-70.5h0m10.4 68.2h0m6.1-71.3h0m0.8 66.8h0m6.9-4.1h0m0.8-65.3h0m5.2-2.7h0m0.3 0.7h0m1.4 62h0m2.8-1h0m1.1-61.4h0m2.8 0h0m5.8-2.4h0m0.1 60.7h0m5.9-63.1h0m0.2 60h0m4.4-60.6h0m2.4 57.3h0m1.3-2.8h0m0.8 2.4h0m2.5-57.3h0m0.3 52.1h0m5.1 1h0m2.8-2.2h0m2-54.8h0m3.2 49.1h0m0.1 5h0m6.2-7.2h0m0.2 1.2h0m1.3 0.9h0m1.5-51.8h0m1.6-0.2h0m1.2 0.8h0m0.1-2.2h0m3.2 2h0m1.5 44.9h0m0.4-45.5h0m1.5-5.8h0m0.2 7h0m2.3-5.1h0m0.6 42.8h0m1.2-41.3h0m0.9-1h0m0.8 41.7h0m0.1 2.7h0m1.7-0.3h0m2.5-47.8h0m0.5-1.6h0m0.4 46.2h0m0.2-1.5h0m0.8-1.1h0m0.2-40h0m0.5 4.8h0m2 33.7h0m0.2-1h0m0.1-33.8h0m0.4 35.5h0m0.4-39.6h0m0.4 1h0m0.4 40.3h0m0.3-2.7h0m2.1-1.2h0m6.2-34.3h0m0.5 31.4h0m2-10.8h0m0.2 1.4h0m0.8-30.7h0m1.8 40.9h0m0.1-8.6h0m0.2-35.3h0m1.1 2.5h0m3.4 26.9h0m3.5 1.5h0m0.2-31.7h0m0.1-0.5h0m1.1 30h0m1.6-30.4h0m1.3 1h0m0.8 29.7h0m0.2 3.3h0m1.6-36.7h0m1.3 1.1h0m2.1 7.6h0m0.3 24h0m0.1-29h0m1.2 24.2h0m0.8 4.3h0m0.5-34.1h0m1.1 24.5h0m0.4 6.3h0m0.1-32.3h0m1.7 36.1h0m0.3-31.9h0m0.4 1.4h0m0.1 0.4h0m0.5 4.2h0m2.1-10.4h0m0.6 1.1h0m1.3-3.4h0m0.1 2.4h0m0.8 27.5h0m0.7-21.1h0m0.3 24.6h0m1.9-22.9h0m0.9-10.4h0m0.6 9.7h0m0.9 17.8h0m0.1 3.3h0m0.8-6h0m0.1 7.3h0m0.8-4.5h0m0.2-1.4h0m0.1-1.5h0m0.5-2.3h0m0.4-24.3h0m1.2 3.3h0m1.1 23.5h0m0.9-0.8h0m0.7 0.3h0m0.7-1.4h0m0.1 0.7h0m0.2-6.5h0m0.3-0.3h0m0.2 4.9h0m3.2-8.2h0m0.4 11.4h0m0.4-3.5h0m0.1-26.3h0m1.2 28.5h0m0.3-25.7h0m0.4-2.4h0m0.5 1.3h0m0.3-1.3h0m0.7 6h0m1 14.8h0m0.2-19.7h0m0.3 15.6h0m1.7-3.3h0m1.5-0.9h0m0.1 4.2h0m0.1-0.6h0m1.3 7.6h0m0.2-13.8h0m0.3-3h0m0.8 0.1h0m0.4 11.5h0m0.3 4.3h0m0.7-3.6h0m0.2-24.7h0m0.6 27.9h0m0.4-25h0m0.5-1.3h0m1.1 19.2h0m0.1-15.9h0m0.4 2.1h0m1.1-10.4h0m0.3 21.9h0m0.7-14.8h0m0.9 18.9h0m0.8-17.9h0m0.8 6h0m0.8-2.6h0m0.4-4.8h0m0.5 10.9h0m0.8 10h0m0.2-5.6h0m0.2-22h0m0.6 4h0m0 15.8h0m2-21h0m0.6 27h0m0.3-1.4h0m1.6-22h0m0.2-2.7h0m0.6 17.9h0m0-14.4h0m0.1 1.4h0m0.8-7.5h0m0.7 0.9h0m0.1 15h0m0.1-6.6h0m0.2 15.2h0m0.2-19.2h0m0.4 2.9h0m0.4 18.4h0m0.5-26.3h0m1.7-1.7h0m0.7-1.2h0m0.4 4.6h0m0.7-2.4h0m0.2 17.9h0m0.1-9h0m0.1 11.9h0m0.6 3.8h0m0.9-15.6h0m0.4 8.7h0m0.6 5.2h0m0.4-7h0m0-15h0m0.3 20.1h0m0.8-16.4h0m0.3 15.7h0m0.7-17.2h0m0.2 19.6h0m1.5 0.5h0m1-16.7h0m0.9-9.7h0m0.4 12.6h0m0.3 9.3h0m0.1-1.7h0m1-12.1h0m2.3 0.5h0m0.4-11.3h0m0.8 2.9h0m0.2 18.4h0m0.2-7.6h0m0.6-15.2h0m0.4 5.7h0m0.4-6h0m0.5 15.1h0m0.4-18.2h0m2.4 8.7h0m0.1 14.2h0m0.6-7.1h0m0.1-15.6h0m1.5 3.7h0m0 4.1h0m0.7 14.2h0m0.3-21h0m0.8 23.3h0m0.2-0.8h0m0.8-19.4h0m0-4.4h0m0.6 23.9h0m0.4-1.3h0m1-12.1h0m0 1h0m0.6 5.5h0m0.7-7.6h0m0.1 8.7h0m0.8-14.3h0m1-2.7h0m0.6 16.8h0m0.5-1.6h0m0.4 2.5h0m0.1-1h0m0.3-14.8h0m0.1 19.8h0m0.5-25.8h0m0.3 2.8h0m0.4 2.4h0m0.5 21.4h0m0.7-28.6h0m0.4 6.4h0m1 19.9h0m0.1-26.7h0m0.1 5.1h0m0.3-2.4h0m0.5 19h0m0.3-3.5h0m0.3-0.6h0m0.3-0.8h0m0.1-17.5h0m0.6 26.8h0m0.3-21.4h0m0.1-2.1h0m1.2 12.2h0m0.5 0.2h0m0.5 4.2h0m1.3-20.5h0m0.5 23.2h0m0.4-26h0m1 5.1h0m0.9 6.8h0m1.7-5.1h0m0.3 18.9h0m0.3-21.1h0m0.4 20h0m0.5-6h0m0.1 1.4h0m0.3-20.8h0m0.1 4.9h0m0.6 16.1h0m2-16h0m0.4-5.8h0m0.5-1.9h0m0.6 3.4h0m0.6 7.4h0m0.2 8.8h0m0-17.5h0m0.6 23.7h0m0.8-10.7h0m0.4 14.2h0m4.4-31.3h0m0.2 21.1h0m0.7-1.9h0m1-17.7h0m0.3 0.8h0m0.4 23.5h0m0.3 0h0m3-0.6h0m1-28.7h0m0.7-3.9h0m2.1 31h0m0.4 0.5h0m1-33.8h0m0.6 1.9h0m3.2 30.8h0m1.3 2.3h0m0.4-8.3h0m4.3-32.5h0m0.8 31h0m2.3 4.5h0m1.7 0.7h0m0.3-38.1h0m0.4 35.6h0m1.2-6h0m0.9 0.5h0m0.5-31.6h0m0.5 37.5h0m1.3-1.3h0m0.1-35.9h0m4.9-2.2h0m0.9 32.9h0m0.1-31h0m1.9 35.2h0m1.8-37.9h0m0.9-2.3h0m0.7 3.2h0m2.3-6.6h0m0.3 38.1h0m1.5 0h0m0.8-41.3h0m0.1 3.2h0m0.5-1.4h0m1.5 42.2h0m2.3-43h0m0.2 36.5h0m1.1-36.5h0m3.7 36.5h0m0.4-34.2h0m1.2-2.6h0m1.4 39.1h0m0.2-40.7h0m0.7 38.3h0m1.5 1.4h0m2.5-3.5h0m0.3-42.8h0m0.6 1.3h0m3.7 1.9h0m2.9-3.6h0m0.6 42.2h0m4-42.6h0m0.2 0.2h0m2.1 41.8h0m1.4-46.4h0m2.3 43.3h0m3 4.4h0m1.7-5.3h0m1.5-45.4h0m2.8 48.9h0m0.7-3.7h0m5-1.9h0m1-1.4h0m1.1-47.4h0m0.2 45.3h0m8.7-47.7h0m4 45.5h0m0.1 3h0m1.8-3h0m3.2-3.3h0m0.1 1h0m1.2-47.8h0m0.6 50h0m0.7-4.6h0m1.8-1.2h0m0.1 4h0m3.2-50.9h0m0.4 48.7h0m0.2 0.3h0m0.8-47.9h0m3.4 45.7h0m1.1 0.5h0m1.4-49.6h0m1.6 49.5h0m0.1-50.4h0m1 48.3h0m1.6-1.5h0m0.9-0.4h0m0.3-0.5h0m1.7-44.7h0m0.9 42.2h0m0.7 3h0m1.4 1.3h0m1.4-3.8h0m0.9 0h0m0.8-45.7h0m0.5 47h0m0.8-3.4h0m0.3-3.8h0m2.1-42.6h0m1 47.1h0m1.8-49.1h0m2.3 47.6h0m3.3-3h0m0.3-42.6h0m7.4-3.5h0m1 0.5h0m1.4-1.8h0m2.7 41.2h0m2-43.4h0m3.1 40.6h0m5.2-43.5h0m0.6 42.4h0m1.8-40.4h0m3.9-1.4h0m1.5 38.2h0m1.5-3.8h0m1.1 1.7h0m1.1-4.7h0m1.5-33.5h0m3.6-0.6h0m1.7 34.6h0m1.2-4.2h0m2.5-30.7h0m0.7 1.5h0m0.3-2.3h0m0.5 30.3h0m0.2 4.2h0m0.1-2.1h0m1.7-2.3h0m0.4 0h0m0.4 1.5h0m6.5-2.1h0m0.8-5.8h0m1.6-23.3h0m0.3 26.2h0m0.6-28h0m0.3 27h0m0.1-28h0m0.4 1.9h0m0.2 0.2h0m1.6 20.5h0m0.1 5.9h0m0.2-7.7h0m0.6 6.1h0m0.1-2.9h0m0.4-21.9h0m0 18.6h0m1.7 2.5h0m0.2-0.6h0m0.1-2.1h0m0.4-18.7h0m0.5 23.4h0m1.1-2.1h0m1.8 2.8h0m2.2-7.2h0m0.6-12.6h0m1.6 2.5h0m0.3 4.4h0m1.1-10.2h0m0.2 2.3h0m0.8 4.2h0m0.7 4.7h0m0.8-1.3h0m2.4-1.9h0m3.6-5.6h0m3.1 7.5h0m0.1-1.8h0m2.1-2.6h0m0.3-5.4h0m0.1-3.8h0"/>
<path stroke="#1cffdb" d="M362.9 655.3h0m3.2-13.5h0m0.5-0.1h0m0.1 14.2h0m3-12.2h0m1.1 8.6h0m0.2-16.7h0m0.2-0.9h0m0.2 6.2h0m0.5 1.2h0m0.3 8.8h0m0.4 11.2h0m1.1-23.8h0m0.2 19.1h0m2.1-1.7h0m1.1 5.2h0m2.5-0.2h0m0.7 0.7h0m1.3 2h0m0.5-1.3h0m7.1-37.9h0m6.1-4.1h0m0.3 0.2h0m4.9-2.9h0m1.2 0h0m3.2 46.3h0m2.8-1.5h0m8.3-0.5h0m2.1 0.9h0m0.6-56.4h0m7 57.9h0m0.6-61.4h0m5.1 61.6h0m0.4-62.6h0m6.5-4.5h0m6.3-4h0m3.7-0.2h0m4.4 68.2h0m6.9-1.1h0m16.3-4.9h0m1-0.8h0m4.7 1.9h0m1.4-1.1h0m0.3-75.8h0m8.3-4.5h0m6.5 76.1h0m0.1-77.7h0m3.9-1.4h0m17.1 74.9h0m1.4-81.3h0m0.2 0h0m42-12.2h0m2.8 84.5h0m8.4-86.1h0m1.3 83.8h0m18.9-5h0m6.6-87.2h0m4.6 84.9h0m8.1 0h0m2.1-1.5h0m2.1-88.6h0m5.3 84.9h0m0.6-85.9h0m5.1 84.8h0m2.3 0.7h0m2.6-2.1h0m15.9-90h0m6.1 83.7h0m1.1-84.4h0m7.5 82.1h0m11.1-3.7h0m0 1.4h0m7.2-84.1h0m7.1-3.4h0m2.9 81h0m0.9-81.3h0m2.7-1.5h0m2.5 79.6h0m1.9 0.5h0m2.3 0.1h0m6.5-82.5h0m6.1-0.5h0m2.2 0.4h0m1.7 76.1h0m8-78.2h0m14.6 69.2h0m0.4-74.8h0m2.7 74.1h0m0.7-73.8h0m3.8 69.9h0m2.4-70.1h0m2.1 68.3h0m0.8-0.3h0m3.5-0.3h0m0-70.7h0m0.2 70.4h0m2.4 0.7h0m6.2-74.1h0m3.7 70.2h0m1.1-2.5h0m7.8-71.9h0m1.9 70.7h0m4.7-70.9h0m0.6 0.2h0m4.5 63.1h0m3-1.8h0m3.1 2.6h0m0.3-0.9h0m1.5-64.7h0m1.4 64.2h0m0.9-65.8h0m0.7 1.1h0m1.8 61.8h0m4.9-3.5h0m5.8 0.3h0m4.2-62.2h0m2.3 58.3h0m2.2-3.7h0m0.5-56.4h0m1.4 58.2h0m1.6-57.5h0m1.6-1.1h0m0.4-2.2h0m0.2 57.8h0m1 0.9h0m1.5-58.5h0m1.5 55.5h0m2.6-56.7h0m3.5 0.3h0m5.3 49.4h0m0.5 2.8h0m1.7-52.7h0m0.1 53.9h0m0.6-2.2h0m0.1-53.7h0m2.5 1.4h0m0.6-0.7h0m4.4-4.3h0m0.3 50.2h0m1.3 0.7h0m2.4-50.8h0m4.7 4.4h0m4.2-4.2h0m0.9-2.3h0m4 1.3h0m0.4-0.3h0m0.3 41.4h0m0.9-2.7h0m0.5-40.1h0m0.3-1.2h0m0.3 1.8h0m2.1-2.4h0m1.9 41h0m1.7 2.5h0m0.6-4.6h0m5.3-2.5h0m1.5-2.3h0m0.8-8.1h0m1.3-25.3h0m0.2-1.2h0m0.2 31.8h0m0.4-35h0m0.7 36.9h0m0.1-4.3h0m0.2-32.7h0m1.2 35.7h0m0.1-38.2h0m0.1 4.2h0m2 33h0m0.7-38.6h0m1.1 35.2h0m1.3-19h0m0.8 13.1h0m1.3-26.5h0m0.7 30.1h0m0.1-26.6h0m1.1-1.6h0m0.5 1.6h0m0.3 28h0m1.6-24.8h0m1.5-8.1h0m0.8-1.3h0m0.5 32.8h0m0.2-29.5h0m0.1 22.7h0m0.2 2.3h0m0.3 3.8h0m0.1-3.6h0m0.1-0.2h0m1.5-26.1h0m1.6-4h0m0.1-0.4h0m0.8 28.5h0m0.8 3.2h0m0.7-4.3h0m0.4 1.9h0m0.4-22.7h0m0.3 16.2h0m0.2-19.5h0m1 3h0m0.7-2.8h0m0.3-2.1h0m0.2 7.7h0m0.2 4.7h0m0.8-3h0m1.2 17.8h0m0.3-7.5h0m0.2-17.8h0m0.7 9.9h0m1.8-11.6h0m0.9-4.3h0m0.2 7h0m0.8-0.3h0m0.8 11.2h0m0.5-4.6h0m0.9-1.3h0m1.3-7.2h0m0.8 17.4h0m0.5-6.4h0m0.1-16.5h0m0.7 7.6h0m0.4-10.5h0m1 24.9h0m0.2-16.3h0m0.2 6.3h0m0.1-12.4h0m1.6 15.5h0m0.9 2.5h0m0.4-17.3h0m0.3 7.6h0m0.4 10.4h0m0.1-8.9h0m0.4-0.4h0m0.1 9.7h0m0.2-4.2h0m0.3-3.5h0m0.6-1.4h0m0.1 3.6h0m0.3-7.1h0m0.1-1.3h0m1-3.4h0m1.6-2.4h0m0.7 20h0m0.4-6.6h0m0.4-3.8h0m1.8-7.6h0m1.3 14.3h0m0.1-14.6h0m0.4 3.9h0m0.6 4.6h0m0.9 1h0m2.7-9.9h0m0.3 3.1h0m1.6-5.1h0m0.8-9.3h0m0.5 3.1h0m0.2 8.2h0m0.2-0.4h0m0.5-3.1h0m0.2 11.7h0m0.1-13.4h0m2.2-0.2h0m0.6 11.1h0m0.5-1.3h0m0.8-6.3h0m0.4 1.5h0m0.2 3.7h0m1-5.4h0m0.4 4.6h0m0.7-12.3h0m0.1 1.3h0m0.4-0.1h0m0.4 6.5h0m0.6-7.1h0m0.4 3.3h0m0.2-5.1h0m0.1 4.3h0m0.5-12.6h0m0.5 10.5h0m0.6 13.5h0m0.2-12.9h0m1.7 11.3h0m1-11.3h0m0.3 7.3h0m0.3 2.1h0m0.1-8.4h0m0.3-4h0m0.8-2.1h0m0.7 8.5h0m0 1.9h0m0.2-3.6h0m0.1 6h0m0.7-5.8h0m0.1-2.9h0m0.4 0.2h0m1-2h0m0.6 10.5h0m0.2-3.3h0m0.1-9.5h0m1.2 8.8h0m1.2 3.8h0m0.9-9.2h0m0.2-8.1h0m0.4-2.4h0m0.4 4.3h0m0.4 5.4h0m1.5 3.8h0m0.4 4.2h0m0.5-14.6h0m0.8 10.1h0m0.7-3.3h0m0 5.4h0m0.3-8.8h0m0.4 0.5h0m0.6-3.3h0m1.6 0.8h0m0.2 8.9h0m2.4-13.8h0m0.1 0.4h0m0.4 9.5h0m0.3-8.6h0m0.5-2.9h0m0.6 8.8h0m1.5 5.8h0m1-14h0m0.5 10.5h0m1-4.5h0m0.8-7.7h0m1.3-0.6h0m1 6.2h0m0.9-9.9h0m1.3 15.4h0m0.5-3.9h0m0.6-3.5h0m1.1 2h0m0.4-12.3h0m0.4 9.3h0m0.2 4.4h0m1.2-12.7h0m0.4 7.1h0m0.4-6h0m1.2 2.7h0m0.5 8.8h0m0.4-5.4h0m1.1 2h0m0.1 6.4h0m0.6-10h0m0.4 7.8h0m1.9-7.7h0m0.2 3.9h0m0.1 5.7h0m1.2-15.6h0m0.2 8.7h0m2 8.4h0m0.9-17h0m0.1-2.3h0m0.3 17.6h0m1.6-19.4h0m0.9 15.5h0m1.2-17.5h0m3.1 7.8h0m0.3-3.2h0m0.2-3h0m1 8.5h0m0.2 1h0m0.4 0.4h0m0.7-6.9h0m2.1-6.6h0m0.4 5.7h0m0.2 7.5h0m0.8-14.4h0m0.6 13.3h0m1.1 4.4h0m0.2-2.3h0m0.3-10.7h0m0.2-0.1h0m0.3-6h0m0.3 8.4h0m0.8-0.6h0m1.9-1h0m3.6 1.9h0m2.2-13.1h0m0.1 5.1h0m0.2-6.6h0m0.1 14.1h0m0.2-3.7h0m0.8-3.8h0m0.1-2.9h0m0.8-3h0m0.6 12.6h0m0.3 2.8h0m0.7-13h0m0.7 14.6h0m0.2-18.4h0m1 10.6h0m0.2-1.7h0m0.8 9h0m0.7-14.8h0m0.1 13.5h0m0.3-5.6h0m0.2 1.5h0m0.2 1.6h0m0.4-1.6h0m0.7 4.2h0m1.8-12.6h0m0.8 6.6h0m1.1-12.5h0m0.4 9.2h0m0.1-6.9h0m1 11.8h0m0.6-16.3h0m1.1 10.2h0m0.6 9.7h0m0.1-7h0m0.3 2.6h0m2.3-15.4h0m0.3 5h0m0.2 7.2h0m1.3-18.5h0m0.3 10.3h0m0.6-6.2h0m0.3 3.4h0m1.1 10.1h0m1.8-3.8h0m0.4 1.3h0m0.6-9.9h0m0.4 4.7h0m0.6-6.4h0m0.3 7.8h0m1 13h0m0.2-4.7h0m0.2-3.3h0m1.5 3.5h0m1.6-6.1h0m0.7 6.4h0m0.4-4.8h0m0.4-17.4h0m1.4 6.1h0m0.1-11.7h0m0.5 24.1h0m0.9-1.4h0m0.3 4.1h0m0.3-20.2h0m1.3 19.4h0m0.2-5.9h0m0.8-15.2h0m0.5 13.3h0m0.3-2h0m0.4-8.9h0m0.4 16.9h0m0.3-2.2h0m0.2-20.8h0m0.8 1.5h0m0.6-1.3h0m0.4 16.7h0m0 5.7h0m0.3-8.1h0m0.5-18.9h0m0.6 12h0m0.4 14.4h0m0.9-0.1h0m0.6-27.1h0m1.1 2.9h0m0.6 6.6h0m0.1 13.9h0m0.1 1.4h0m0.2-28h0m0.6 26.4h0m0.2 2.7h0m0.2-22.6h0m0.8-3.8h0m0.1 25.7h0m0.2-4.7h0m1.2 2.9h0m1-27.3h0m0.4 29.9h0m0.1-27.5h0m0.1 26.5h0m0.9 1.6h0m0.3-17.3h0m1.9 14.9h0m0.4-28.7h0m0.1 1.9h0m1.7 28.6h0m0.3-1.6h0m0.1-3.5h0m0.1-27.5h0m2 31h0m0.7-5.3h0m1 1.7h0m0.6-4.8h0m0.4 4.4h0m0.7 1.3h0m2 1.7h0m0.4-0.7h0m1.6 0.3h0m0.5-1h0m1.1-33.7h0m0.5 32.2h0m2.1-2.5h0m3.6 0.6h0m2.6-38.2h0m1.1 5.7h0m3.6 29.7h0m0.7-34.3h0m1.1 33.7h0m0.3-36.7h0m0.9 36.8h0m1 1.2h0m0.4-1h0m1.7-38.2h0m1.2-1.7h0m1-1.6h0m2.6 41.1h0m1.2-3.5h0m2.9 3.8h0m1.1-4.3h0m1.4-41.4h0m1.6 39.8h0m1.8-41.1h0m2.3 1.4h0m0.6 35.9h0m2.5 0.9h0m3 3.2h0m0.6-45h0m0.2 41.5h0m0.7 2.8h0m1.4-44.2h0m3.1 41.3h0m1.2 1.2h0m2.7-47.4h0m3.7-0.3h0m1 46.8h0m1.9-4.8h0m0.1-45.7h0m0.5 45.1h0m1.7-41.7h0m0.4 41.8h0m3.1-1.6h0m1.3-40.6h0m1.8-4.1h0m0.1 45.5h0m3.1-44h0m2.8-2.2h0m2.9 41.3h0m0.4-0.4h0m0.1-0.1h0m0.5-3.5h0m3.8 3.3h0m2.1-4.2h0m1.5-0.3h0m1.1 0.6h0m1.3 2.3h0m0.6-3.4h0m0.7-41.3h0m0.3 39.7h0m0.7-0.1h0m0.7-40h0m0.1 39.9h0m8.7-4.2h0m1.6 1.9h0m2.9-1h0m7-41.5h0m2.9 0.9h0m0.8 36.6h0m2.4-3h0m2 0.6h0m0.6-37.4h0m4.1 35.6h0m0.5-34.5h0m0.4-3h0m4.3 33.9h0m0.2-0.8h0m0.4-34.6h0m2.3 28.6h0m0.2 3.6h0m0.5-1.7h0m1.5 1.5h0m0.5 0.3h0m4.1-33.1h0m0.2 28.6h0m0.1-1.8h0m3.3-26.3h0m1.3-4.3h0m0.7 27.2h0m0.7-23.7h0m1.1 27.6h0m0.6-30h0m0.1 3h0m0.9 24.6h0m0.9 0.7h0m0.1-2.1h0m0.4 0.3h0m0.9-5.8h0m0.9-18.4h0m0.3 25.4h0m1.5-3.3h0m0.7 1.7h0m2.6-27h0m0.2 23.7h0m1.3-22h0m0.7 14.8h0m0.4-11.1h0m0.5 16.1h0m2 1.7h0m0.1-12.5h0m1-8.8h0m2.6-0.5h0m0.5 0.8h0m0.4 2h0m1.7 13.4h0m0.7-1.9h0m0.3-2.4h0m0.9-8.2h0m0 9.1h0m0.4-5.4h0m0.1 4.7h0m0.2-5.7h0m1 7.1h0m0.8-15.7h0m0.2 10.2h0m0.2 1h0m0.1-11h0m0.3 5.4h0m0.1-8.5h0m0.7 16h0m0.4-6.9h0m0.4 0.9h0m1.1-3.9h0m6.4-4.8h0"/>
<path stroke="#30ffc7" d="M364.9 658.1h0m1.5-7.8h0m0.7-7.1h0m0.6 3h0m1.4 8h0m1.4-11.6h0m1.1 10.4h0m0.4-6.4h0m0.4 6.2h0m2.2 3.8h0m0.3-16.7h0m0.9 14.5h0m1.2-12.5h0m1.3 13.6h0m0.7-20.6h0m0.3 0.1h0m1.2 20.6h0m0.2-21.2h0m1.2-4.3h0m3.9 1.8h0m0.3-1.7h0m1.8-0.6h0m2.2 35.4h0m0.9-4.1h0m7 2.6h0m0.3-44.1h0m1.4 0.6h0m2.4 43h0m1.5 1h0m0.2-47.9h0m2.4-0.3h0m4 44.3h0m5.6 1.2h0m4.6-53.2h0m1.5 0.1h0m0.7 52.9h0m4-54.5h0m0.7 53.6h0m2.9-58.5h0m0.6 57.6h0m0.8 2.1h0m15.8-1.2h0m3-67.5h0m1.2 66.5h0m0.4-1.9h0m5.1 0.9h0m12.6-1.8h0m15.9-77.1h0m2.2 73.8h0m0.9 0.8h0m2-2h0m5-1.8h0m6.7-77.6h0m10.2 75.1h0m1.2-78.8h0m5.5-2h0m0.9 79.6h0m2.5-80.1h0m8.2 78.9h0m1.3-1h0m2.7-1.1h0m2.1-79.9h0m3-2.3h0m1.6 0.6h0m1.9 78.6h0m0.6-81.4h0m3.8 81.2h0m1-81.8h0m0.4 83.9h0m10.9-86.7h0m19.8-6.6h0m2.1 0.2h0m1.8 82.9h0m16.9-88.8h0m2.6 83.7h0m4.5 0.9h0m0.9-2.6h0m0.8 0.1h0m13-2.7h0m4.2-86.2h0m9.8-1.9h0m4.4-0.8h0m0.1 83.9h0m16.9-6.7h0m3.8 0.8h0m2.6-82h0m11.4-2.4h0m2.7-1.8h0m4.2-0.5h0m4.7-1.1h0m4 78.1h0m2.6-1.7h0m7.3-78.8h0m0.4 78.9h0m0.2-78.7h0m1-0.2h0m0.7 75.9h0m0.6-74.9h0m5.4 73h0m1.2-73.3h0m11.3 69.1h0m0.9 0.3h0m11.3-6.4h0m5.2-2.5h0m4.3-67.3h0m0.4 66.1h0m3.7 0.2h0m3.1-2.8h0m0.4 1.2h0m5.1-68.3h0m8.9-3.6h0m4.4-3.1h0m4 68h0m6-5.9h0m2.2 2.4h0m0.4-1h0m2.6-4.3h0m3.1-3h0m1-58.3h0m0.4 62.1h0m4.1-63.7h0m3.6-1.1h0m2.7 59.5h0m0.6-60.2h0m1.2 59.5h0m5.1-60.6h0m5.2-0.4h0m0.1 57.1h0m3.1-58.8h0m0-1.8h0m5.4 56.1h0m1.7-2h0m3-0.8h0m1.9-0.4h0m4-53.1h0m1.9-1.8h0m2.4 1.6h0m0.8-0.3h0m1.7 48.1h0m2.2-53.5h0m2.5 5.6h0m3.4-2.5h0m0.1 42.6h0m2.9 0.1h0m2.6-46.6h0m2.2 45.7h0m0.1-3.1h0m0.7 0.4h0m1.7-43.8h0m1 41h0m1.1-38.8h0m2-5.7h0m1.8 3.4h0m0 39.3h0m3.2-1.8h0m0.2 2.4h0m0.1-0.9h0m1 0.2h0m2.2-2.9h0m1.2-0.4h0m1.5-38.2h0m0.7-2.3h0m1.8 2h0m2.3 3.8h0m0.2 24.2h0m3.1 4.7h0m0.6-35.5h0m1.6 2.2h0m1.5 24.1h0m0.4 6.4h0m0.1 1.1h0m0.1-4.3h0m0.1-21h0m0.2 22.3h0m0.5-32.7h0m1.5 31.3h0m0.1-28.4h0m0.4 31.5h0m0.2-25.5h0m1.4 24.8h0m0.6-5.9h0m0.5 4.9h0m0.3-1.8h0m3-3.8h0m0-26.2h0m0.4 21.2h0m0.2 0.7h0m1.3-2.5h0m0.2 10h0m0.3-9.4h0m0.2 6.7h0m0.3-30.6h0m1.4 31h0m0.3-28.6h0m1.3 12.2h0m0.1 3.4h0m0.3-10h0m0.6-2.2h0m0.4 21.4h0m1-10.3h0m1 0.7h0m0.1-2.5h0m0.5 9.8h0m0.4-2.7h0m0.1-12.4h0m0.1 5.6h0m0.4 6.6h0m0.1-14h0m0.1-1.5h0m0.6 6h0m0.5 5.4h0m0.3-2.9h0m0.4 8.1h0m0.3-15.7h0m0.2 11.8h0m1.2 3.5h0m0.4-11.1h0m0.4-0.7h0m0.8-1.4h0m0.3 3.2h0m0.3-7.7h0m0.2 1h0m0.2-7.9h0m0.4 16.7h0m0.2-9.8h0m0.5 3.1h0m0.8-9h0m0.2 7h0m0.1 0.5h0m0.3 2.8h0m1.3-8.9h0m0.3 15.7h0m0.7 1.2h0m0.5-4.8h0m1.1 5.7h0m0-12.8h0m2.7 14h0m1-14.7h0m0.1 7.1h0m0.5-5.6h0m1-5.6h0m0.4 8.7h0m0 3.7h0m0.5-6.8h0m0.1-13h0m0.2-1.4h0m0.3 20.9h0m2.6 0.6h0m1-12.2h0m0.4 4h0m0.7-12.4h0m0.3 8.4h0m0.3 7.8h0m0.2-7.9h0m0.4-0.8h0m0.7 1.5h0m1-8.6h0m0.3 7.6h0m1.1-4h0m1.1 4.5h0m0.7-0.8h0m0.1-8.5h0m0.7 7.2h0m0.1 2.7h0m0.2-0.3h0m0.1-2.1h0m4-10.5h0m0.1 2h0m0.5-1.8h0m0.8 1.4h0m0.4 5.3h0m1.6-2.6h0m4.2 8.7h0m7.5-15.6h0m11.6-3.7h0m3.2-0.1h0m10.6-6h0m5.7-0.9h0m14.6-9.9h0m7.8-4.3h0m29.3-2.6h0m11.9-10.6h0m2.4-1.7h0m4.1-1h0m3.2 0.4h0m0.9-2.4h0m1.7 3.1h0m2 3.2h0m0.2-2h0m0.2-3.1h0m2.2-3.5h0m0.3 9.8h0m2.9-2.7h0m0.4-16.2h0m0.2 11.8h0m0.7-6.7h0m0.4 7.5h0m0.6-9h0m1.1 13.2h0m2.1-3.3h0m0.5-8.6h0m0.5 5.5h0m0.1-2.5h0m0.4-6.6h0m0.9 9.2h0m1.3-13h0m0.1 12.5h0m0.2-6.9h0m2.3 11.5h0m0.1-16.9h0m1.5 10.4h0m0.9-1.4h0m0.3 2.3h0m0.2 6.7h0m0.4-21.1h0m0.3 15.6h0m1.9-15.5h0m0.5 15.7h0m0.6-12.4h0m0.1-5.7h0m0.7 10.2h0m1.6 6.6h0m1.3-7.4h0m0.9-8.7h0m0.2 14.9h0m0.3-4.7h0m0.7-5.6h0m1.3 12.1h0m0.4-9.9h0m0.9 1.2h0m0.8 13.6h0m0.2-20h0m0.1 14.2h0m0.5-19.1h0m0.6 19.5h0m0.2-13.9h0m0.8 15.1h0m1.2-27.4h0m0.4 18.7h0m0.1 8.6h0m0-9.8h0m0.2 7.7h0m1-20.1h0m0.5 0h0m0.2 24.4h0m0.4-23.8h0m0.3 17.6h0m0.2-3.5h0m0.1 6.7h0m0.2-9h0m0.3-8.8h0m0.4 14.4h0m0.4-2.1h0m1.5-9.3h0m0.7-12.5h0m0.1 3.8h0m0.1-0.5h0m0.3 15.2h0m0.1 10.9h0m0.3-28.2h0m0.2-4.5h0m0-1.5h0m2 24.8h0m0.3-23.1h0m0.2 27.4h0m1.5-22h0m0.8 16.8h0m0.1-16.7h0m1-5.5h0m0.4 28.4h0m0.1-25.4h0m0.4 3.8h0m0.2-4.1h0m0.8-7.5h0m0.6 4.3h0m1.1 23.2h0m0.5-22.5h0m0.2 25.2h0m0.1 3.3h0m0.4-2.9h0m0.6-21.8h0m1.3 21.6h0m0.1-28.7h0m0.3 29.5h0m0.4-6.2h0m0.3 6.7h0m0.2-31.9h0m1.1 28.7h0m1.3 0.6h0m0.2-27.3h0m0.1 27.6h0m0.4-9.9h0m0.6 10.2h0m2-33.1h0m0.5-1.4h0m0.3 32.1h0m1.9-2.1h0m4 1.4h0m1.1-2.3h0m1.8 1.8h0m0.5-5.6h0m0.2 1.9h0m0.3-2.7h0m0.9 2.9h0m1-28.7h0m1.2-2.4h0m0.7-0.9h0m2.2 28.1h0m0.9-26.9h0m4.2-3.7h0m3.4 2.5h0m1.2 26.6h0m4.8 0.2h0m4.4-1.8h0m0.2 3.6h0m0.8-5.6h0m0.4 2.6h0m1.9-36.4h0m1.2 37.2h0m0.1-0.1h0m1.3-37.4h0m0.5 35.1h0m4.2-2.9h0m0.3-37.5h0m0.9 1.3h0m3.4-2.6h0m1.3 35.3h0m0.9 0.7h0m2.3 0.6h0m0.5-37.5h0m0.4 33h0m0.1-34.4h0m4.3 40h0m1.4-41.7h0m1.7 0.7h0m3.7 33h0m0.7-0.2h0m1.3 1.8h0m0.9-0.6h0m0.2-0.4h0m1 0.5h0m2.6-5.3h0m6.2-35h0m0.6 36.6h0m0.8-33.6h0m3.3 34h0m2.3-2.6h0m0.4-1.4h0m0 1.4h0m0.5-36.7h0m1 31.3h0m2.3-32.2h0m0.5 1h0m1.2-2.6h0m0.3 34.4h0m0.3-34.3h0m3.8 34.7h0m1.7-6h0m0.2 2h0m1.4-1.1h0m0.4-1.5h0m0.1 2.5h0m0.5-30.4h0m1.7 4h0m0.6-6.3h0m0.4 33.2h0m1.4-3.2h0m1.2-29.3h0m2.3 25.5h0m1.6-26.8h0m2.6 2.1h0m0.1 23.6h0m0.7-0.7h0m1-22.9h0m2.4 20.6h0m0.6-15.6h0m0.9 8.4h0m0.6 2.9h0m0.4 3.9h0m0.7-19.9h0m0.3 22.6h0m1.8-27.4h0m0.5 3.3h0m0.6-1.6h0m0.6 23.9h0m0.3-6.7h0m1.1-5.5h0m0.5 6.6h0m0.1 2.8h0m0.4-2.2h0m0.2-8.9h0m0.4 10h0m0.2-0.3h0m0.8-1.5h0m1 3.8h0m3-26.5h0m0.3 21.1h0m0.7-9.5h0m1.6-10.1h0m0.5 0.8h0m1.1-0.4h0m0.8 21h0m0.1-17.1h0m0.6-2.4h0m0.3-5.2h0m1.3 13.3h0m0.6-8.4h0m0.1 1h0m0.6 7.7h0m0.7-11.4h0m0.2 0.4h0m0.3 11h0m0.2-3.9h0m0.6 1.9h0m1.5-8.6h0m0.9-0.3h0m1.3-0.9h0m0.5-0.9h0m0.7 4.3h0m1.5 1.4h0"/>
<path stroke="#40ffb7" d="M375.5 652.8h0m0.9-8.3h0m1.2-1.9h0m0.5-1.3h0m0.7 13h0m0.6-8.2h0m0.4 6.6h0m0.1-17.7h0m1-1.2h0m0.1 12.8h0m1.3 12.9h0m0.9-20.2h0m0.2 14.3h0m0.8-0.5h0m1 3.7h0m0.5-24h0m0.6 28.2h0m0.3-4.2h0m6.6 2.7h0m0.2 0.9h0m0.9 2.6h0m2.2-0.8h0m1.1-0.6h0m1.4-1h0m3.7 0.6h0m1.4-4.7h0m0.7 2.7h0m0.8 1.4h0m0.9-45h0m4.1 2h0m2.5 41.3h0m2.2-45.4h0m7.1-5.8h0m2.6 1.2h0m3-2h0m1.4-0.1h0m0.2 51.4h0m11.8-1.5h0m1.8-60.1h0m2.9 1.5h0m1-2.9h0m2.2-3.7h0m0.6 1.8h0m11.1 62h0m6.9 0.1h0m0.4 0.1h0m1-69.4h0m1.8 68.8h0m2-69.3h0m2.6-2.7h0m8.5 69.7h0m4.2-74.1h0m7.3-2h0m10.3 69.8h0m1.7-74h0m2.3 75.1h0m7.3-79.9h0m6.5-0.3h0m5.3 75.4h0m9.7-80.1h0m1.3-0.8h0m0.8 1.3h0m1.7 0h0m3.2-0.8h0m2.4-1h0m10.9 75.2h0m2.4-78.9h0m3.3-1.9h0m2.1-0.6h0m0.3 80.5h0m3.2-1.4h0m2-1.7h0m0.7-80h0m12 79.8h0m2.6-84.3h0m1.1 1.2h0m0 79.1h0m7-82.8h0m3.6 83.8h0m5.3-84h0m1.1-0.9h0m2.2 81.4h0m0.6-1.9h0m1.4-82.2h0m4.3 0.6h0m2.3 79.8h0m7.7-0.4h0m0.1-2.4h0m2.9 0.1h0m6.6-2.3h0m0.9-80.4h0m4.1 81.5h0m1.1-82.5h0m2 80.3h0m2.6-81.3h0m7.3-1h0m9.1-3.4h0m1.5 78.6h0m0.6-77.9h0m10.4 75.9h0m3-1.5h0m5.1-78.4h0m4.8-0.8h0m1.1 0.1h0m1.2 76.3h0m0.5-76.2h0m2.1 74.7h0m2.8-1.6h0m4.2-74.6h0m10.1-2.4h0m2 72.7h0m1.4-1.6h0m3.7 0.7h0m1.1-73.9h0m13-3.7h0m9.3-0.5h0m7.5-2.7h0m3.7 66h0m2-65.9h0m8.5-1h0m5 58h0m2.8-59.9h0m7.3 58.7h0m0.3-61.6h0m1.6 58.9h0m1.7-59.1h0m1.4-2.2h0m1.2-0.2h0m6.3-2.7h0m0.6 1.7h0m0.2-0.6h0m1.5 56.1h0m1.2-55.5h0m0.8 57.5h0m0 1.3h0m1.6-60.3h0m7.4 53.5h0m1-55h0m1.3-2.1h0m0.6 53.7h0m4.8-52.5h0m0.6 0.6h0m0.7 52.7h0m8.5-2.5h0m1.3-0.8h0m0.4-52.3h0m4.1 49.1h0m1.2-2.5h0m0.4-45.6h0m4.6-2.5h0m1.1 44.8h0m0.8-1.4h0m1.6-0.1h0m3.3-2.9h0m2.9-41.4h0m3-2.9h0m0.3 2.9h0m0.6 38.8h0m0.2 1.9h0m1.8-5.9h0m0.5 0.9h0m0.2-39.8h0m0.9 5.2h0m2.7 32.3h0m2.1-37.9h0m2.3 38.9h0m0.3-37.9h0m0.4 0.5h0m0.7-1.6h0m1.5-0.6h0m0.7 1.6h0m0.1 33.1h0m1.3 0.8h0m1.3-35.6h0m1.2 31.5h0m2.1-26.6h0m1.1 28.1h0m0.1-1.2h0m0.3-3.7h0m0.3-28.3h0m0.1 32h0m0.1-30.3h0m0.3 30.6h0m1.2-33.3h0m0.2 31.3h0m6.1-33.5h0m1 23.2h0m1.8-20.2h0m0.4 21.2h0m0.1-0.2h0m0.3-17.9h0m0.1 11.9h0m0.6 11.8h0m0.7-7.6h0m0.4-1.2h0m0.3-7.7h0m0.5-0.6h0m0.2 13.2h0m0.3-6.8h0m0.2-15.7h0m0.2-4h0m0.4 18.1h0m1.1 3h0m0.2-4.7h0m1.8 1.8h0m0.2-18.3h0m0.3 5.5h0m0.3-4.1h0m0.2 21.2h0m0.7-0.2h0m0.4-24.2h0m0.7 18.7h0m0.3 5.7h0m0.2-10.3h0m0.6 8.5h0m1.5-17.1h0m0.3 3h0m0.8 11h0m0.2-6.3h0m1.7-6.4h0m0.5-7.7h0m0.2 18.2h0m1.2-11.3h0m0.1 15.8h0m0.7-6.2h0m0.5-11.1h0m1.5 11.8h0m1.2-9.6h0m0.5-4.5h0m0.6 6.4h0m0.2 3.7h0m2.5-1.4h0m1.1-2h0m0.5-1.1h0m1.4-1.3h0m0.8-7.1h0m1.2 5.8h0m0.6 3.5h0m0.6-5.3h0m0.2-1.4h0m2 3.8h0m1.3-6.3h0m4.4 1.5h0m1.5-1.5h0m5.3-9.3h0m0.5-1.1h0m3.1 14.2h0m7.7-13.5h0m146.1-67h0m4.8 1h0m0.7 9.2h0m0.7-7.5h0m0.4-4.1h0m0.1 4.5h0m1.4 2.4h0m2.3-2.4h0m2.9 3.1h0m1.6-10.7h0m0.8 3.5h0m0.8 6.5h0m0.8-19.4h0m0.8 12.9h0m0.9 0.6h0m0 9.5h0m1.7-9.7h0m2.9 1.4h0m0.2-6.2h0m0.5 10.8h0m0.3-3.2h0m0.8-17.1h0m0.7 14h0m1.4 1.6h0m0.3-9.9h0m0.1 13.1h0m0.3-19.5h0m0.8 19.7h0m0.4-16.9h0m0.1 13.2h0m0.5-4.6h0m0.8-5.4h0m0.3 9.9h0m0.4-8.7h0m1-1.2h0m0.9-6.7h0m0.1 9.2h0m0.6-11.7h0m0.1 2.8h0m0.6 10.8h0m0.3 0.6h0m0.5-16.9h0m0.4 21.6h0m0.1-19h0m0.3 2.9h0m0.1 2.5h0m0.1 8.6h0m0.1-4.5h0m1.2 8.1h0m0.8 0.2h0m0.1-16.6h0m0.1-3h0m0.1 16.4h0m1.4 6.6h0m0.2-0.6h0m1.4-0.4h0m0.6 1.6h0m0.1-9.1h0m1.2-14.2h0m0.7 0.4h0m0.8-7.5h0m0.4 24.3h0m0.1-6.2h0m0.4 9.4h0m1-0.6h0m1-1.7h0m0.1-18.4h0m0.4 12.8h0m0.1 5.4h0m0.5-11h0m0.5-14.4h0m0.3 7.2h0m3.3-6.6h0m0.1 22.4h0m0.1-9.2h0m0.8 7.7h0m1 1.1h0m1.7 5.1h0m0-4.8h0m0.1 1.7h0m0.2 1.1h0m0.6-1.6h0m0.4-30.1h0m1.8 5.6h0m0.3 24.4h0m0.9 1.8h0m0.2-28.9h0m0.1 28.4h0m1.3-32h0m0.4-3.1h0m0.1 3.3h0m2.7 25.4h0m1.2 0h0m0 2.1h0m0.9-22.1h0m1.8-6.1h0m0.3 26.4h0m3.5-4.8h0m0.6 4.7h0m0.5 2.1h0m1.6-0.9h0m0.1 1.7h0m0.6-0.9h0m0.8-33.5h0m0.7 28.1h0m0.5-2.6h0m0.1-26.6h0m0.2 1h0m0.3-1.3h0m0.7 31.7h0m0.2-0.4h0m0.4-0.9h0m1-33.3h0m1.9 1.4h0m0.6 28.8h0m0.4-29.4h0m0.2-1.4h0m0.9 36.2h0m1.2-35.4h0m1 28.3h0m0.4 4.3h0m0.4-26.1h0m2.1 23.3h0m3.6-33.8h0m1.8 31.3h0m0.8-25h0m2.4-7.5h0m0.7 1.9h0m0.5 9.9h0m1.6 23h0m0.1-7.5h0m0.1-30.2h0m2.4 3.2h0m1.9 31.8h0m1.4-33.8h0m1.6 24.2h0m0.1 3.5h0m6.5-5.7h0m0.4 3.7h0m1.9-1.4h0m0.6-31h0m0.2 31.1h0m1.9-27.9h0m1.9-1.7h0m2.2-3.5h0m1.6 31h0m2.1-1.2h0m0.4-26.7h0m1 29.9h0m0.9-31.5h0m0.1 26.1h0m1.7 0.8h0m0.8-29.2h0m0.7 0h0m0.7 2.6h0m1.3-2.7h0m1.7 23.6h0m1.3 1.9h0m0.1-25.5h0m1.6 2h0m1 23.2h0m3.3-8.1h0m0.1-21.7h0m0.1 5.8h0m0.5 18.1h0m0.8-21.6h0m0.7 19.6h0m0.8-15.7h0m0.3-6.1h0m1 20.3h0m2.4 2.2h0m0.3-17.7h0m2.5 3.3h0m0.6 0.5h0m0.3 11.8h0m0.3-9.4h0m0.3-9.4h0m1.9-2.1h0m1-3h0m0.3-0.5h0m0.6 19.7h0m0.1 5.7h0m0.3-4.6h0m2.1-6.6h0m0.9-5.1h0m0.2 15h0m0.4-3.9h0m0.8-9.5h0m2 7.1h0m0.2-13.3h0m0.2 11.3h0m1.3-16.2h0m0.5 21.7h0m0.8-5.6h0m1.4-5.8h0m1.8-7.5h0m0.4-0.2h0m0.9 2.6h0m0.2-3.2h0m0.8 3.3h0m0.7-1.1h0m1.1 6.8h0m3.1-2.3h0m0.1-8.6h0m0.1 12.9h0m0.1-16h0m2 15.3h0m0.1-9.3h0m3.3-3.6h0"/>
<path stroke="#50ffa7" d="M375.3 641.1h0m1.4 1.2h0m0.2 7.4h0m0.3-4.8h0m1.5 1.9h0m1.4 7.4h0m0.4-10h0m0.7-4.2h0m1-0.7h0m0.5-5.4h0m0.2 15h0m0.4 0.6h0m0.6 2.3h0m0.6-11.7h0m2-8.9h0m2.8 23.9h0m0.3 0.4h0m0.9-17.3h0m2.2 17.1h0m6.3 2.8h0m1 0.9h0m1.5-2.3h0m0.4 1h0m0.5-34.6h0m0.7 37h0m0.3-37.5h0m2 1.1h0m2.8-4.9h0m0.6-1.9h0m2.9 40.6h0m2.6 0.9h0m1.9-1.2h0m0.1-46.3h0m0.4 47.2h0m1.5-1h0m0.6-45.7h0m1.7 46h0m0.5 0.4h0m6-47.8h0m5 49.6h0m0.4-1.4h0m2.6-54.6h0m2.6-0.5h0m2.5 53.9h0m1.7-2.3h0m0.9-53.8h0m2.5-2h0m5.4-3.5h0m2 59.6h0m0.8-1.3h0m3-58.9h0m0.3 60.5h0m2.3-63.9h0m8.1 62.6h0m0.7-2.1h0m6.1-66.4h0m3.5-0.6h0m1.9-1.4h0m0.9-0.9h0m11.5-4.2h0m2.6-1.1h0m1.3 1.4h0m3-2.2h0m2.5 0.7h0m1.7 69.7h0m2.1-72.9h0m8.6-3.1h0m0.5 2.5h0m10.8-3.9h0m0.2 73h0m1.5 1h0m2.5-76.2h0m0.6 73.7h0m4.4-76h0m15.9 71.5h0m0.9-0.3h0m3.1 0.1h0m9.6-80.1h0m4.4 76.6h0m9-1.5h0m1 1.2h0m7.9-4.6h0m0.3-77.6h0m16.1-5.4h0m10.5 77.5h0m0.9-79.8h0m9.9 76.8h0m0.8-80h0m11.8 76h0m2.8 0.1h0m1.4-0.2h0m6.3-80.4h0m3.2 77.7h0m0.9-2.3h0m1-75.6h0m14.7-3.1h0m0.7 75.5h0m2.6-0.3h0m2.4-76.8h0m0.4 75.6h0m6.5-1.8h0m0.3-74.2h0m0.9 73.3h0m3.7-76h0m1.1 73.5h0m0.6 0.9h0m0.9-1h0m8.6-1.6h0m5.9-4.2h0m3.2 1.9h0m1.9-71.4h0m14.1-3h0m0.3-0.1h0m0.8 68.5h0m3.8-3.4h0m0.4-65.5h0m0.9 64.7h0m0-67.9h0m8.4 65.3h0m2.6-3.5h0m1.7-63.3h0m4.1 2.5h0m1.3 59.1h0m0.8-61.5h0m2.5 59.9h0m1.6-0.8h0m0.4-61.1h0m0.7-1.3h0m2.2-1h0m0.4 1.4h0m6.4 58.8h0m0.8-62.7h0m7.3 58.6h0m0.5 0.9h0m0.1-1.1h0m6.1-60h0m15.1-3.9h0m1.6 57.2h0m1.7-2.1h0m1.2-0.3h0m2.6-3.2h0m1.2 1.9h0m0.4 1.5h0m0.9-3.8h0m3.2-51.8h0m4-4.4h0m1.7 3.3h0m1.1 46.1h0m0.1 3.8h0m1.5 0.4h0m4.1-8.2h0m2 3.3h0m0.2 2h0m4.6-11h0m0.8-38.1h0m0.7 44.5h0m0.3 0h0m0.8-43.7h0m2.4 36.5h0m1.5-40h0m0.3-1.2h0m0.8 1.5h0m1.4 0.2h0m3.7-0.3h0m1.7-3.3h0m0.5-0.9h0m1.1 38.9h0m0.1-33.9h0m0.5 39.2h0m0.4-1.4h0m2.4-40.4h0m0.5 2.3h0m0.7 30.4h0m0.5-32.2h0m1.5-1.1h0m1.6 36.4h0m0.3-4.3h0m0.6-1.6h0m1.2 1h0m1.6-32.5h0m0.1 3.1h0m1.6 32.8h0m1.6-6.6h0m0 2.1h0m0.1-29.7h0m0.5 28.1h0m0.5 3.8h0m1.2-14.8h0m0.1 8.2h0m0.7-0.1h0m1.4-4.4h0m0.5 7h0m1.1 2.2h0m0.5-4.3h0m0.9-23.9h0m0.7-4.6h0m0.1 26.2h0m0.5 1.4h0m0.5-25.3h0m0.6 3.1h0m1-5.3h0m0.9 20.1h0m0.5-10.2h0m2 7.1h0m0.3-12.1h0m0.3 9h0m0-10.8h0m0.5 9.8h0m0.6-7.6h0m0.4 15.4h0m1.7-6.4h0m0.3-19.2h0m0.3 4.5h0m0.2 19.3h0m0.7-2.7h0m0.7 2.7h0m0.4-15.8h0m0.2 17.1h0m0.3-15.1h0m0.5-8.7h0m0.2 14.8h0m0.4 7.1h0m0.3-24.3h0m0.5 4.7h0m0.1-3h0m0.9 7.1h0m0.2 7.3h0m0.6-8.3h0m0.6 2.6h0m0.7 4h0m0.4 5.7h0m0.7-7.4h0m0.8-1.3h0m0.2-11h0m0.4 5.9h0m0.5 1.1h0m0.7 11.4h0m0.4-9.7h0m0-2.9h0m1.3 0.6h0m0.2 5.5h0m0.5-6.5h0m0.1-2.5h0m0.3 13.3h0m0.5 3.2h0m1.7-14.6h0m0.1-3.8h0m1.2 0.1h0m0.8 0.5h0m0.4 3.6h0m0.7 9.4h0m1.9-11.9h0m3.8 0.2h0m201.9-86.1h0m2.1-5.4h0m6.8-1.9h0m1 0.1h0m0.5 11.3h0m1.7-4.8h0m1.4-0.5h0m0.8-2.2h0m3.4 3.3h0m0.5-8h0m3.3 2.7h0m0.1-2.4h0m0.9-0.4h0m1.6-2.5h0m0.6-3.6h0m0.2 9.5h0m0.3-4.3h0m0.1 4.3h0m0.8-0.4h0m1.5-6.1h0m1.1 11.8h0m0.3-14.3h0m0.5-4.8h0m0.6-0.2h0m0.8 5.2h0m0.6-5.7h0m0.2 5.8h0m1 1.9h0m0.1-9h0m0.1 21.2h0m0.5-1.6h0m0.5-6h0m1.2-6.7h0m0.3-0.7h0m0.4 8.8h0m0.1-4.1h0m0.3-13h0m0.1 2h0m0.1 14.3h0m0.2 5.4h0m0.6-22.8h0m0.8 2.4h0m0.1 9.7h0m0.6-4.1h0m0.5-9.1h0m0.2 1h0m0.3 23h0m1.1-18h0m0.9 5.5h0m0.3-12.3h0m1.2 22.4h0m1.2 1.9h0m1.7-28.9h0m1.2 23.8h0m0.7 0.4h0m0.6 1.5h0m0.5-1.9h0m1.4-3.3h0m1.1-2.9h0m1-19.2h0m0.7 22.9h0m0.2-1.6h0m1.8-4.9h0m0.9-9h0m0.2 12.3h0m0.4-2.2h0m1.1-18h0m0.6 23h0m0.4-1.9h0m0.8-26.1h0m0.1 12.1h0m0.6 3h0m0.8 3.2h0m0.5 4.7h0m0.6-23.1h0m0.2 0.5h0m1-0.7h0m0.9 5.5h0m0.8-1.8h0m0.7 19.1h0m0.4 0.3h0m0.5 1.4h0m1.1-23.7h0m1.1-0.4h0m0.5 21.5h0m0.4-23.2h0m0.1 18.3h0m0.1 8.1h0m0.3-25.6h0m0.8 4.1h0m0.4-5.2h0m0.3 25.8h0m1.1-26.9h0m0.5 25.4h0m0.2 0.6h0m0.5-6h0m0.1-20.6h0m1 14.8h0m0.1-11h0m0.1 8.1h0m1.8-11.7h0m0.4 0.7h0m1.7 21.7h0m0.3-23.3h0m6 19.5h0m1.5-24.2h0m0.7-0.8h0m0.1 24.2h0m0.2-26.4h0m1.3 2.2h0m0.2 0h0m2.6 1.2h0m3.5 21h0m0-2.4h0m2.3-23h0m0.4 27.1h0m2-16.3h0m4.6 7.7h0m0.3-19.5h0m0.1 19.1h0m0.1-20.7h0m1.2 2h0m1.2 17.8h0m0.6-18h0m0.2 18.3h0m2.8-2.7h0m2.2-18.8h0m0.8 25.4h0m0.5-4.3h0m0.5-6.9h0m0.2-15.9h0m0.2 9h0m0.6 14.8h0m1.4-19.9h0m0.2 19.8h0m0.8-9.1h0m0.1-8.5h0m0.8 0.1h0m2.4-7h0m2.4 16.6h0m0.2 4.2h0m2.5-2.6h0m0.1-15h0m0.2-5.9h0m0.2 6.8h0m0.4 12h0m1.8-18.9h0m0.3 17.1h0m0.2-15.2h0m0.1 16.7h0m0.6 1.4h0m1.1-17.9h0m0.7-0.4h0m0.3 3.1h0m0.1 13.7h0m0.8-13.2h0m0.3 7.5h0m0.4-4.4h0m0.2-9.2h0m0 6.7h0m0.6 1.7h0m0.4 5h0m1.1-5.9h0m0.5-6h0m1.1 12.4h0m1 4.1h0m0.2-19.3h0m0.7 6.8h0m0.3 7.4h0m0.6-7h0m0.7-0.7h0m0.2 4.7h0m0.6-1.2h0m1.1-1.2h0m0.4 4.3h0m0.6-2.6h0m0.2-1.1h0m0-11.5h0m0.8 5.4h0m0.8 4.9h0m1.5-4.7h0m0.2-2.2h0m1 1.5h0m1.5 3.4h0m0.4-7.8h0m0.5 13.8h0m0.2-14.9h0m1.2 7.2h0m0.1-2.9h0m0.7 5.4h0m1.4-5.9h0m2.7-1.3h0m0.4 5h0m7.1-3.3h0m0.1-8.2h0"/>
<path stroke="#63ff94" d="M381.2 644.1h0m0.3 9h0m1-3.5h0m1.2-5h0m0.6-2.7h0m0.6-2.7h0m1 7.2h0m1.3 2.1h0m1.4-8.8h0m0.2-3.6h0m0.9-2.4h0m0.6 9h0m0.8 7.9h0m0.2-19.4h0m1.6 19.6h0m0.7 5.5h0m1.1-25.6h0m0.1 23h0m0.2-20.3h0m0.4 17.7h0m0.4 2.1h0m0.1-2.5h0m1.3-23.2h0m0.8 25.2h0m1.5-24.7h0m0.3 23h0m0.9-25.7h0m1-0.9h0m2 29h0m1.8 4.4h0m2.2-36.7h0m6.8-4.4h0m4.6-0.9h0m6.4-5.3h0m19.1 44.9h0m3.2-55.3h0m2.8-2.2h0m4-4.4h0m0.3 0.6h0m16.7 56.5h0m0.9 0.2h0m7.1-64.8h0m3.5-1.9h0m0.5 65.1h0m1.9 0.8h0m0.7-68.5h0m12.6 63.6h0m3.6-68.2h0m1.9-1.3h0m0.8 0.4h0m6 67.7h0m1.7-1.8h0m3.3-69.5h0m4-2.7h0m1.9 72.4h0m10.9-75.1h0m1.9 71.7h0m7.9 0.2h0m7.2-75.2h0m1.2-2.3h0m5.1 72.8h0m2-73.5h0m8.9 70.3h0m4.5 0.1h0m11-78.1h0m8.5-1.5h0m0.3 76.2h0m4.6-77.2h0m3.9-2.9h0m3.3 76.8h0m3.8-1h0m1.9-0.4h0m14.4-82.4h0m3.2-0.9h0m6.3 75.7h0m11.3-2.2h0m10.1-4.2h0m9.8-2.4h0m10.3-75.2h0m4.8-0.9h0m1.7 70.3h0m9.2-3.1h0m1.1-70.3h0m2.4 68.7h0m4.1-1h0m3.7-1.8h0m2.7-1.3h0m3.9 2.2h0m8.1-5.7h0m2.2-64.7h0m2.5-1.1h0m1.5 63.7h0m6.5-64.7h0m3 59.8h0m4.6-59.7h0m1-2.9h0m0.5-1.1h0m0.6 61.8h0m7.4-3.8h0m18.4-6.5h0m2.6-55h0m6.4 51.6h0m0.2-4.1h0m4.3 2.5h0m1-53.9h0m1.9-0.4h0m3.7-0.8h0m4.2 51.4h0m0.1-51.3h0m10.6-5.5h0m0.5 1.2h0m3.9 46.7h0m6.3-46h0m2.9 40.1h0m1 1.4h0m2-43.1h0m0.6 42.1h0m0.6 2.2h0m0.2-46.5h0m0.4 42h0m1.9-38.5h0m0.5-3h0m4.5 35.3h0m1-40.5h0m2.1 41.1h0m0.6-36h0m1.9 36.8h0m0.8-0.6h0m2.7-1.9h0m1.1-5.4h0m0.2-27.6h0m0.2 32.5h0m2.8-34.2h0m1 32.9h0m0.6-29.6h0m1.8 23.7h0m0.5 2.8h0m1-24.3h0m1.4 18.6h0m0.1-0.4h0m3.1-22.3h0m0.9-1h0m1.4 8.9h0m0.1 12.3h0m0-23.2h0m0.5 25.3h0m0.1-24h0m0.1-4.5h0m2.5 21.9h0m0.2-14.4h0m0.6 3.2h0m0.9 15.7h0m1.6-3.6h0m0.2-1.1h0m1.1-21.9h0m0.1 5h0m0.2 20.3h0m0-7h0m0.4-5.4h0m0.4 7.1h0m0.3-19.1h0m0.4 21.3h0m1.2-12.4h0m0.1-12.3h0m0.3 28.7h0m0.3-15h0m0.9 6.1h0m0.3-19h0m0.3-0.5h0m0.9 3.7h0m0.5 14.1h0m0.5-13.1h0m1 0.7h0m2.1-3.9h0m1 6.3h0m0.6 7.9h0m0.4-6.1h0m0.7-2.5h0m0.5-5.5h0m1.5-0.7h0m0.2 8.7h0m0.3-9.7h0m0.7 12.7h0m1.1-8.9h0m0.3 4.3h0m1-3.4h0m0.2 4.5h0m0.9 0.5h0m0.1-5.6h0m1.2 0.3h0m0.7-0.6h0m7.7-2.9h0m234.8-91.2h0m9-13.7h0m1 8.1h0m0.5-14.8h0m3.1 4.7h0m1-6.9h0m0.5 3.6h0m0.5 2h0m1.5 2h0m0.6-1.7h0m0.7 11.6h0m0.4-1.4h0m0.2-1.6h0m0.1-9.5h0m0.2 4.3h0m0.6 0.7h0m0.6-2.4h0m0.4 1.3h0m0.3-6.5h0m0.5 6.7h0m0.4 1.4h0m1-11.4h0m0.2 13.5h0m0-5.3h0m1.1 2.1h0m0.6-6.7h0m0.1 11.3h0m0.1-17.6h0m0.2 4.1h0m0.5 10.1h0m0.2-8.1h0m0.4-0.4h0m1.3-7.2h0m0.2-2.8h0m0.6 3.7h0m0.9 11.5h0m0.4-5.9h0m0 3h0m0.9-1.2h0m0.9-2.3h0m1.1 3.5h0m1.3-6.8h0m0.1-5.5h0m1.2 4.3h0m0.7-7.8h0m0.5 15.1h0m0.4-9.1h0m0.2 6.3h0m0.1 7.9h0m1.7-12.5h0m0.1-3.6h0m1.3 14.7h0m0.2-10.6h0m1.5-5.4h0m0.3 0.8h0m0.4-3.2h0m0.3 17.2h0m0.3 1.7h0m0.6-10.8h0m0.1 7.2h0m0.3-6h0m0.3 8.3h0m1.3-8.2h0m1.1 0.8h0m0.2 1.2h0m0-1.6h0m0.7-15.9h0m0.4 11.7h0m0.3 6.6h0m0.7-12.3h0m0.5 4.1h0m1-6.2h0m0.2-3h0m0.6 14.3h0m1.5-4h0m0.4-11.1h0m0.2 3.9h0m1-6.7h0m0.1 15.3h0m0.8-5.3h0m0.4 7h0m0.5-13.4h0m0.8 8.3h0m1.3 7.7h0m0.2-16.6h0m0.3 15.4h0m0.6 1.6h0m0.1-19.3h0m0.1 23.2h0m0.4-13.6h0m0.8-0.6h0m0.2-2.6h0m0.3 7h0m0.2 5h0m0.5-20h0m0.4 10.3h0m0.3 7.3h0m0.2-9.9h0m0.1 15.2h0m1.1-20.4h0m1 12.4h0m0.1-14.1h0m1.1 16.3h0m0.8-3.8h0m1.4 4.9h0m1.9-14.5h0m0.1 15.2h0m0.3-20.1h0m0.2 16.6h0m0.3-2.7h0m0.2 6.6h0m0.4-21.4h0m0.3 15.2h0m0.2 5.4h0m0.8-19.8h0m0.3 19.3h0m0.2-20.4h0m0.5 10.3h0m0.2 1.9h0m0.5-4.2h0m0.6-4.5h0m1 3.7h0m1.2-3.1h0m0.6 14.6h0m0.8 1.5h0m0.1-7h0m2.1-4.6h0m0-11.3h0m1.2 5h0m1.1 11.3h0m0.3-3.5h0m0.1 3.1h0m0.1-19h0m0.1 4.7h0m0.4 2h0m0.9 10h0m0.5 4.3h0m0.4-9.4h0m0.1-9.2h0m0.5 22.9h0m0.4-6.8h0m0.4-9.4h0m0.2 8.6h0m0.3-3.4h0m0.2-14.7h0m0.4 8h0m0.2 8.3h0m0.2-17.4h0m1.5 10.6h0m0.4-1.5h0m1.2-5.8h0m0.6-6.8h0m3.3 7.5h0m0.5-0.6h0m0.5 9.6h0m0.3-8.6h0m0.1 7h0m0.3-7.3h0m0.4 8.4h0m0.8-12.6h0m0.3 4.3h0m0.2 4.1h0m1-4.2h0m0.4-6.6h0m0.3 10.4h0m0.4 5.8h0m0 0.3h0m1.1-8.2h0m0.6-7.9h0m1.2 9.8h0m0.8 1.1h0m2.7-10.7h0m4.2 10.2h0"/>
<path stroke="#73ff83" d="M385.4 652.8h0m1.7-8.5h0m0.5 1.4h0m0.6 2.7h0m0.5-11.9h0m2.9 4.8h0m0.1-7.1h0m2.2 14.7h0m2.2 3.6h0m2.1-17.1h0m1.9 17h0m0.3-0.5h0m0.5 0.4h0m1-23.7h0m1.1-2h0m1.7-1.7h0m2.1-0.9h0m0.7-0.4h0m1.3 32.4h0m1.1-1h0m4-1.8h0m7.6-37.9h0m3.6 34.7h0m1.5 5h0m2.4-42.4h0m0.1-2.3h0m1.4 42.8h0m3-44.3h0m5 44.6h0m1.9 2.1h0m12.8-57h0m2.7-2.1h0m2-0.3h0m4.5-1.9h0m3.2 55.9h0m8-61.5h0m4.2 57.4h0m2.2 1.3h0m3.6-63h0m8.2 60.6h0m0.8-63.7h0m8.3-3h0m1-0.4h0m0.7 66h0m1.6-66.3h0m2.3-1.3h0m0.6-0.1h0m0.1 66.9h0m1.8-2.2h0m2.8-66h0m2.1-0.9h0m5 67.1h0m1.3-68.9h0m0.8 0h0m1.5 67.9h0m0.1-68.9h0m3.4-1.2h0m9.4-1.8h0m3.1-1.6h0m2.9-0.4h0m5.4-1.6h0m2.7 69.7h0m6-72.8h0m3.8-1.3h0m0.2 73.4h0m3.5-3.4h0m6.8-71.7h0m2.2-0.7h0m2.4-1.6h0m2.7 72.8h0m6.6 0.2h0m11.2-4.8h0m1.2-73.9h0m6.1-1.5h0m4-1.5h0m2.3 0.6h0m2.9 72.1h0m0.8 0.8h0m6.6-76.7h0m23.4-4.8h0m10.2 70.2h0m4.4-1.5h0m7.6-74.5h0m5.6-0.4h0m0.5 67.9h0m3-66.4h0m2.3-1.3h0m1.4-1.8h0m3.1-1h0m0.9 69.8h0m12.7-3.9h0m4.2-67.8h0m0.9-0.2h0m0.9-2.5h0m1.3 66.1h0m5.5 0.3h0m8.1-5.9h0m3 0.4h0m4.6-1.9h0m0.9-0.1h0m2.3-62.5h0m5.2 57.4h0m1.5-56.4h0m1.3-4.1h0m1.6 61.3h0m0.1-61.4h0m5.1 59.7h0m0.7-3.9h0m5.1-2.4h0m1.1 3.7h0m0.1-59h0m0.9 55.4h0m0.1 1.2h0m4-58.3h0m1.1 57.6h0m5.2-56.7h0m3.4 0.4h0m0.1-2.9h0m1.3 1h0m1 52.3h0m1.8-2.2h0m4.4-48.3h0m1.5 50.5h0m2.7-55.6h0m3.6 51.9h0m1.6-5.6h0m0.9-42.3h0m0.1 44.2h0m2.1-2.1h0m0.4-46.2h0m2.9 0.2h0m1.2-1.7h0m2.3-3.3h0m1 48.9h0m2.5 0.7h0m0.6-47.5h0m1.5 0.4h0m0.3 44.2h0m1.2 0.3h0m0.2-44.9h0m2.4-2.8h0m0.5 46.2h0m1.6-44.2h0m1.2 39.4h0m3.5 1.9h0m1-43.9h0m0.3 1.8h0m1.6-2.3h0m2.5 39.5h0m1-1.5h0m0.3-42.4h0m0.9 6.8h0m1 35.9h0m0.2 2.2h0m2.5-10.6h0m1.9-28.4h0m0.4 29.7h0m1 5.1h0m0.1 0.3h0m0.2-39.3h0m0.6 39.3h0m0-32.9h0m4.1 25.6h0m0.2 1.5h0m1.2-32h0m0.2 25.2h0m1-27.6h0m3.3 29.5h0m0.6-24.7h0m0.3-1h0m0.1-1.8h0m1.4-0.5h0m0.3 16.6h0m0.2 8.2h0m0.1-23.3h0m0.6 7.2h0m0.1 18.8h0m1.7-5.6h0m1.3-21.6h0m0.5 1.5h0m0.2 13.2h0m0.4 8.5h0m0.4-12.6h0m1.4 8.4h0m0.2 3.6h0m1-25.8h0m0.3 24.3h0m0.5-21.5h0m1.2 18h0m0.2-16.2h0m0.4 23.1h0m0.9-20.9h0m1.6 12.2h0m0.8-13.6h0m0.3 3.1h0m0.3 11.7h0m0.2 1.5h0m1.7-13.5h0m0.2-2h0m1 13.2h0m0.9-10.8h0m0.1 1.1h0m0.8-3.6h0m0-3.2h0m0.6 17.3h0m0.1-7.8h0m0.6-9.1h0m0.6 4.6h0m0.3-1.3h0m3 0.3h0m0.1-4.3h0m0.2 1h0m0.1 7.7h0m0.3-9.7h0m0.4 9.7h0m1.4 4.5h0m0.2-13.6h0m1.1 2.3h0m4.9 0.8h0m0.6-1.7h0m1.3 5.4h0m4.1-8.6h0m258.7-107h0m8.5-6.1h0m7.2 4.3h0m0.6-10.5h0m1.4 4.2h0m0.9-4.1h0m1.7 2.1h0m0.5-4.5h0m1.5 7h0m0.2-2.6h0m2.7-3.6h0m0.6 1.3h0m0.6 0.5h0m0.3-2h0m0.8 6.7h0m0.1-2.8h0m0.6 0.3h0m1.9 3.8h0m0.3-1.3h0m0.1-14.6h0m0.4 10.8h0m1.1-11.4h0m0.5 7.8h0m0.3 10.1h0m1.2-12.8h0m0.4 3h0m3.6-3.1h0m0.9 5.2h0m1.4 2.3h0m1.2-4.2h0m0.8-12.7h0m0.4 3.1h0m1.4-4h0m0.3 14.5h0m1.2-4.7h0m0.2-2.5h0m0.7-0.8h0m0.6-1.4h0m0.4-5.3h0m0.5 7.1h0m4.2 2.3h0m0.3-3h0m0 1.8h0m2.2-5.7h0m0.1 8h0m0.1-3.6h0m2.4-2.1h0m0.5-5.2h0m0.2-1.9h0m0.2 12.6h0m0.9 0.2h0m1.1-5.6h0m0.6-1.9h0m0.8-3.9h0m0.7 9.2h0m0.5-7.5h0m0.4-2h0m0.1 4.3h0m0.1-2.5h0m0.8 2.1h0m0.1-1h0m0.2-5.8h0m2.1-0.7h0m0.8-2.2h0m0.8 13.7h0m0.9-9.5h0m0.6 0.2h0m0.6 8.8h0m0-12.8h0m0.9 6.3h0m0.8-9.3h0m0.2 3.3h0m2.1-0.1h0m0.6 10.2h0m0.2-0.8h0m0.1-7.6h0m2.8 3.8h0m0.5-7.5h0m2.3 9.8h0m0.4 2.3h0m0.7-12h0m4 12.8h0m1-7.6h0m1.2-7.6h0m12.9-4.2h0"/>
<path stroke="#83ff73" d="M389.8 642.8h0m2.1 0.8h0m0.2-1h0m0.4-2h0m1.9 1.4h0m1.9-2.3h0m1 10h0m0.5-14.1h0m1.5-4.2h0m0.9 9.8h0m0.9 10.4h0m0.2-0.1h0m0.9-1.2h0m4.9-23.1h0m2 22.6h0m0.9 2.6h0m2.3-26.2h0m0.5-3.9h0m0.9 2h0m0.2 29h0m2.5-30.7h0m0.6-3.2h0m1 0.3h0m1.2 3.2h0m1.6-5.6h0m0.5-0.7h0m2.6 31.9h0m3.7 5h0m1.5-0.3h0m0.3-2.3h0m0.4-40.4h0m1.3 42.3h0m1.5-2.5h0m0.4 3h0m2.2-46.3h0m0.4 43.7h0m0.3-42.9h0m1.4-1.6h0m9.4 45.9h0m1.4-51.5h0m0.5-1.1h0m1.6 3.1h0m0.7 49.1h0m2.3-54h0m0.7 51.5h0m2.3-0.3h0m1.1-50.9h0m1.1-1.6h0m2.1-0.1h0m2.2-0.9h0m3.5-2.3h0m10.9-5h0m5.9 57.1h0m1.3-0.1h0m2.9-59.8h0m3.4-2.4h0m4.9 60.7h0m0.5-60.1h0m0.3-2.8h0m3.7 1.1h0m1.1 62.2h0m3.3-1.9h0m0.9-63.4h0m1.6 62.1h0m6.6-65.9h0m1 68.2h0m6.6-2.9h0m1.9-65.8h0m0.4-1.6h0m8.5 64.9h0m0.5-0.1h0m3.4-68.7h0m0.6-1.6h0m1 69.1h0m3.2-70h0m2.1 1h0m6.3 67.3h0m1.5-70.9h0m1.2 69.1h0m5.5-71.2h0m2.4 0.8h0m3.7 68.1h0m4.6-0.7h0m2.3-71.2h0m0.4 70.2h0m1.2-69.9h0m3.2 68.4h0m3.9 0.3h0m2-0.6h0m4.9-0.4h0m1.1-72.4h0m9.7-5h0m1.6 0.8h0m1.4 72.1h0m1.7-73.1h0m0.8 0.1h0m0.4 0.6h0m0.8 71.7h0m5.5-0.7h0m17.9-77.7h0m6-2.1h0m0.6 0.8h0m4.2 69h0m12.6-74.1h0m9.8 68.8h0m1.8-70.2h0m5.6 67.7h0m0.1-68h0m10.7-3.5h0m7.3-2h0m6.1 65.1h0m0.4-65.3h0m1.7 0.6h0m0.3 0h0m0.7 0h0m9.5 58h0m2.1 1.9h0m0.7 0.1h0m0.9-2.3h0m0.2-60.5h0m5.2 62h0m4.7-64.4h0m0.8 1.3h0m2.5-1.2h0m0.7-0.9h0m3 0.2h0m3.6 58h0m0.4-59.5h0m0.4 56.1h0m4.8-54.6h0m4.1-2.4h0m1.6-0.9h0m0.3 57h0m0.1-1.9h0m3.2-52.2h0m3.6 47.7h0m0.7-49.9h0m2.3-3.7h0m4 0.2h0m1 1.8h0m3-1.2h0m0.1 48.7h0m4.2-47.8h0m1.4 44.7h0m0.1 1h0m3.9-51.5h0m6.8 45.5h0m2-46.2h0m0.3 48.5h0m3.6-49.4h0m3.9 44.7h0m0.7-43.6h0m4.3 43.2h0m0.2-3h0m0.4-1.9h0m1.3 4.5h0m1-46.2h0m0.7 44.8h0m2.2-3.8h0m1.1-33.2h0m0.2-3.7h0m0.3 38h0m0.1-41.1h0m0.5 1.9h0m1.8-3.2h0m0.7 42.3h0m0.4-2.8h0m0.1-0.5h0m0.7-36.8h0m0.4 35.7h0m1.3-38.3h0m2.5-2.6h0m0.7 4.4h0m1.1 2h0m0.8-2.8h0m0.5 2.3h0m0.6 31.8h0m1.4-2.6h0m0.6-31.5h0m3.5 24.8h0m3.9 1.8h0m0-26.1h0m1.1 24.9h0m2.2-5h0m1-23.8h0m0.9 27.6h0m0.6-28.5h0m0.6 27.2h0m0.9 3.2h0m0.3-3.4h0m3.6-19.3h0m0.2-5h0m0.6 20.3h0m0.5 4h0m0 4.1h0m0.5-4.2h0m0.2-11.8h0m0.3-8.1h0m0.3 21.4h0m0.2-16.2h0m1.1-11.4h0m0.2-4.2h0m0.2 0.7h0m0.7 18h0m2.5-2.8h0m0.1-12.8h0m0.1 16.1h0m0.1-7.3h0m0.5 6.3h0m0.4 0.3h0m0.8-8.4h0m0.6-5.7h0m0.7 20.5h0m0.1-20.6h0m0.1 1.1h0m0.9 2.4h0m0.6-5.1h0m0 14.3h0m2.3 0.2h0m0.6-2.1h0m0.7 7h0m0.2-12h0m0.1 6.5h0m2.7-4h0m0.2-3.7h0m0.1-1.4h0m3.1-4.4h0m0.3 12.5h0m3.5-4.7h0m1.3-6.2h0m1.5-2h0m2.7 4h0m310.9-131.6h0m1.9-3.3h0m6.7 2.7h0m7.7-12h0m2.9 6.1h0m7.3-0.6h0m6.6-11h0"/>
<path stroke="#97ff60" d="M394 641.5h0m2.3-5.1h0m3.7-4.5h0m0.9 5.6h0m0.5 4.2h0m1.1 0.4h0m0.4-6h0m1 0.2h0m0.5 9.8h0m1.5-20h0m0.4 20.4h0m0.3-14.2h0m0.9-6.6h0m1 1.9h0m1.3 19.4h0m1.2-0.8h0m0.5 1.2h0m0.1-3.3h0m1.3 5.4h0m0.9-21.6h0m0.4 21.7h0m0.2-4.9h0m1 4h0m2-26.7h0m1.2 20.3h0m2-22.5h0m1.2 2.3h0m0.5 26.2h0m0.7-0.7h0m0.3-25.5h0m0.1-6h0m5.1-2.1h0m8.3-4.2h0m0.2 0.4h0m8.6-6.9h0m2.1 44.4h0m2.1 3.3h0m19.4-3h0m2.5-56h0m0.1 56.4h0m0.2-2.5h0m0.8-52.7h0m2.5 52.6h0m1-58.6h0m0.7 60.4h0m3.2-1.6h0m9.8-60.2h0m6.9-4.4h0m3.5-0.7h0m5.2 59.9h0m6.3-65h0m3.7 1h0m2.9-1.2h0m3.1 62.6h0m0.9-64.7h0m1.4 2.1h0m0.1 63h0m7.9-1.8h0m1.1-2.8h0m0-63.4h0m6.7 65.3h0m2.1-3.4h0m0.1-62.8h0m3.7-1.7h0m0.7 65.6h0m0.6-1.1h0m1.4-66.8h0m1.5-2h0m3.7-0.1h0m4 0.1h0m3-1.3h0m0.2 68.1h0m1.2 0.2h0m5.5-1.5h0m8.7-71.2h0m1.4-0.9h0m0.3 68.1h0m0.9 1.6h0m0.3-0.2h0m1.2 1.3h0m3.6-70.7h0m1.4-1.8h0m0.2 69.2h0m3.2-0.3h0m7.2-3.7h0m2.9-68.2h0m0.3-2.4h0m0.3 1.6h0m3.4 69h0m0.1-0.1h0m3.1-2h0m0.5-68.7h0m3.3 68.7h0m12.8-4.5h0m5.1 0h0m1.9 0.6h0m3.5-2.1h0m1.9-68.5h0m2.5-2.2h0m2 67.2h0m3.1 1.1h0m1.4-70.8h0m2.3 68.8h0m0.3 0.3h0m5.4-67.9h0m4.4 63.3h0m1.4 1.5h0m0.1-66.1h0m4.3-2h0m12.9 62.8h0m1.9-64.7h0m1-1.9h0m1.5 1.5h0m2.8 60.8h0m0.6-0.1h0m0.4 2.6h0m0.6-2.1h0m3.1-63.4h0m0.8 61.9h0m4.9-0.7h0m0.1 0.5h0m3-63.8h0m2.9 59.9h0m0.7-61.9h0m0.2 61.9h0m2-0.5h0m3.4-2.1h0m0.1 0h0m13.9-60.5h0m1.4 55.6h0m1.3 0.4h0m3.9-1.6h0m3.5-56.4h0m0.2 1.5h0m0.6 0.6h0m3-0.5h0m5.3 49.6h0m5.6-51.2h0m6.7 41.9h0m5.3-2.6h0m5-2.2h0m0.7-42.7h0m2.5 2.1h0m3.6 40.8h0m0.8-46h0m1.9 43.6h0m2.2-41.6h0m1.4 39.4h0m2-39.4h0m0.3-1h0m0.1 2.8h0m0.7-1.2h0m1.5-4.9h0m1.5 3.6h0m1.8 37.7h0m1.3-40.2h0m0.2-2.1h0m2.3 0.4h0m0.1 40h0m0.2 0.6h0m0.8-1.5h0m1.3-40.8h0m0.5 42.1h0m3.1-39.6h0m3.1 30.4h0m1.6-32.4h0m2 35.3h0m2.8 0.1h0m0.9-36.7h0m0.9-1.3h0m0.3 7.3h0m0.3-4.4h0m0.5 3.7h0m1.2 28.1h0m0.4-31.8h0m2.2-1.9h0m1.9 1.1h0m1.7 3.4h0m0.2 25h0m0.2-25.3h0m2.2 24.8h0m0.6-23.1h0m0.1-5.9h0m0.3 8.2h0m1 17.7h0m0.2-22.8h0m0.5 2.7h0m0.5-4.2h0m0.2-3h0m0.3 24.2h0m0.5-17.7h0m0.6 2h0m0.4 13.8h0m0.2-15.6h0m0.7 18.4h0m0.2-23.1h0m0.2 26.6h0m0.4-18.2h0m0.1-9.2h0m2.8-1.5h0m0.6 23.9h0m0.2-22.6h0m0.5 9.2h0m0.1-2h0m0.6 1.6h0m1.4-8.9h0m0.3 6.6h0m1-9.7h0m1.5 14.7h0m0.8 3.6h0m2-4.6h0m1.4-5.7h0m0.2 9h0m1-6.4h0m0.1-1.7h0m0.7 3.5h0m0.1-7h0m0.5 2.6h0m3-4.6h0m2.8 2.7h0m0.9 4.5h0m0.4-5.8h0"/>
<path stroke="#a7ff50" d="M395.1 646.7h0m8.1 0.4h0m0.2-9.9h0m0.7-2.9h0m1.1 11.7h0m0.6-8.6h0m1.4-6.3h0m0.7-1.1h0m0.5 13.7h0m0-7.7h0m0.3-6.7h0m0.7 9.2h0m1.1 7.3h0m0.9-1.9h0m2-1.5h0m2.1-11.4h0m1.1-6.6h0m3 17.7h0m0-17.7h0m0.7 20.8h0m2.3 1.2h0m1.6-4.8h0m3.1 5.3h0m11.4-39.2h0m1.1 2.5h0m2.6 40.7h0m3.1-2.1h0m1.9-45.1h0m0.1-0.2h0m1.5 42.5h0m1.2-44.3h0m1.9 46.6h0m6.7 0.6h0m4.8-49.2h0m0.2 45.9h0m8.4 0.2h0m1.1-1.5h0m1.3-49.4h0m0.9-2.3h0m4.9-3.8h0m0.3 1.8h0m0.5 52.8h0m7.6-56.5h0m4.1 52.7h0m2-54.5h0m4-1.2h0m0.8 55.2h0m5.7-1.7h0m1.4-58.7h0m1.9 0.1h0m0.4 59.3h0m1.6-58.6h0m4.3 58.4h0m2.2-1.2h0m4.9-62.6h0m6 59.4h0m0.8-61.5h0m3.8 62.4h0m9.3-64.2h0m1.6-1.6h0m12.5-3.9h0m2 64.2h0m5.7-1.4h0m0.6 1.6h0m0.3-1.7h0m3.1 0.9h0m3.6-66.4h0m1.4-1.6h0m2.7-2.1h0m3.9 67.5h0m8.5-3.8h0m1.8-66.8h0m5.3 68h0m4.4-70.5h0m5.1-2.3h0m1.5 69.3h0m5.9-5.8h0m0.8 2.2h0m4.5-0.6h0m3.5-68.7h0m2.3-0.5h0m4.8 66h0m0.5-67.2h0m3.3 1.4h0m1.3-3.2h0m1.5 67.3h0m2-0.6h0m3.7-65.7h0m4.7-2.7h0m3.5-1.1h0m0.7 1.3h0m0.9 0.6h0m0.3 63.5h0m5.4-2.1h0m0.9-65h0m14.9 58.9h0m1.4 1.6h0m1.4-2.1h0m0.2-59.5h0m1.1 59.5h0m3.4-61.7h0m0.6 0.3h0m3.9 59.2h0m0.9 0h0m4.7-4.6h0m9.5-1.5h0m1-58h0m0.2 2.8h0m3.3 54.9h0m3.4-57.7h0m3.9-0.9h0m0.3 1.6h0m1.1-0.6h0m3.3-2.6h0m0.2 53.8h0m0.1-50.5h0m3.2-4.5h0m0.5 0.4h0m0.5 52.3h0m0.5-51.8h0m2.9 1.7h0m0.5-1.8h0m6.8 0.1h0m2 46.4h0m5.3-1.8h0m0.2 1.6h0m1.7-2.5h0m3.4-0.9h0m1.2-45.9h0m0.7-0.4h0m4.4 39h0m2.7-40h0m0.3 37.1h0m0.4 5.4h0m2-44h0m1.5-1.1h0m0.8 3.2h0m2.1-2.5h0m0.8-0.8h0m4.6 39.1h0m3-36.1h0m0.5 34.9h0m0.8 0.5h0m0.3-40h0m1 37.8h0m0.6 1.9h0m0.6 1.7h0m0.1-36.8h0m0.1 33.2h0m0.2 1.1h0m1.9 1.4h0m2.5-41.7h0m1.5 3.1h0m0 32.7h0m0.7-30h0m0.3 27.7h0m1.9-31.9h0m0.1-2.4h0m1.1-0.3h0m1.4 31.6h0m1-0.1h0m0.3-28.7h0m0.3 30.3h0m5.2-28.2h0m1.1 23.5h0m0.4-31.9h0m0.7 28.9h0m3.9 3.3h0m0.2-28.7h0m0.3 30.1h0m2.8-33.6h0m0.4 28.9h0m1.1-24.4h0m0 27.9h0m1.8-33.1h0m0.4 2.7h0m0.4 25.1h0m0.5-1.7h0m0 4.5h0m1.2-21.3h0m0.1-4.5h0m0.4-1.9h0m0.9 26.3h0m2.1-8.4h0m1.3-16.6h0m0.5-0.8h0m0.9 22.2h0m0.2-11.7h0m0.3-14h0m0.3 13.4h0m0.7-12.6h0m0.2 22h0m0.8-21.7h0m0.1 8.4h0m0.5-11.2h0m0.1 27.8h0m1.1-26.5h0m0.1 8.1h0m0.3-10.7h0m0.2 24.3h0m0.6-11.2h0m0.8-0.8h0m0.5 9.1h0m0-11.2h0m0.7-0.3h0m0.3-4.1h0m0.7 17.1h0m0.2-2.8h0m1.1-9.6h0m0.8-1.8h0m0.1 9h0m0.1-12.3h0m0.6 2.6h0m0.4 2.8h0m2.3-1h0m0.7 5.4h0m0.2-8.8h0m0.2 11.1h0m0.5-13.6h0m0.2 9.7h0m0.4-6h0m0.4 2.1h0m0.2 7h0m0.1 1.8h0m0.4-3.1h0m0.4-2.8h0m0.5-3.8h0m0.2-4h0m0.4 11.9h0m3.9-5.4h0m2.1-3.8h0m0.1 5h0m0.8 1.8h0m6.3-12.5h0"/>
<path stroke="#b7ff40" d="M406 640.8h0m0.5-0.8h0m0.8-0.3h0m1.9 2.3h0m0.4-9.6h0m1.2-3.2h0m1.2 8.8h0m0.2-5.2h0m1.2-4.7h0m0.2 1.7h0m1 1.2h0m1.1 11.2h0m0.4-2.7h0m1.4 4.2h0m0.1 2.9h0m0.2-22.1h0m1.7 10.6h0m1.5 12.4h0m0.5-20.3h0m0.6 20.2h0m0.2-25.8h0m0.5 1.4h0m0.3 22.6h0m1.6-22.4h0m3.5-3.3h0m3.4 27.1h0m4.4-32.2h0m1.7 31.7h0m0.8 1.3h0m0.4-35h0m1.6 33.3h0m0.4 1h0m0.2-36.1h0m0 37.4h0m0.5-1.4h0m0.3-36.4h0m0.9 36.7h0m2.8-40.5h0m0.2 0.3h0m1.1 1.5h0m2.3 39.6h0m3.1 0.1h0m1.8-0.6h0m0.8-1.8h0m2.1-44.6h0m0.2 46.4h0m5.8-3h0m0.5-46.3h0m7 47.7h0m7.3-52.3h0m0.8-0.7h0m1.7 49h0m1.5-1h0m1-1.5h0m2.7 4.4h0m1.8-55.7h0m0.4 0.1h0m13.7-5.2h0m1.6-0.5h0m5.8 54.3h0m2.6 0.6h0m4.9-60.3h0m1.8 1.2h0m2.6-2h0m16.9 56.9h0m0.3-1h0m4.3-2.6h0m2.1-57.1h0m0.9 58h0m1.6-60.6h0m0.6-1.9h0m0.3 62.2h0m3.1-2.2h0m5.4-61.7h0m0.8 61.7h0m0.6-62.1h0m6.6-1.9h0m0.1 0.1h0m1.5 62.2h0m2.3-0.8h0m1.2-1.2h0m11.8 0h0m2.6-65.1h0m4.1 62h0m1-64.1h0m1.7 63.6h0m2.1-66.2h0m2 66.6h0m7.1-1.6h0m1-65h0m1.6 0.4h0m2-3.5h0m3.3 64.4h0m6.1 0h0m1.3-67.8h0m0.6 2.4h0m0.7 63.7h0m4.8-64.8h0m2-1.4h0m4 62.2h0m1 0.9h0m5.8-2.4h0m0.2-64.4h0m1.7 65.1h0m5.7-65.5h0m1.2 60.4h0m2.9 1.7h0m0.2-65.2h0m3.3 64.5h0m1.8-2.3h0m0.8-60.8h0m3.6-3.7h0m4.5 0.2h0m0.2 61h0m5.8-60.9h0m0.2 59.8h0m3.7-59.6h0m0.6 59.5h0m3.7-61.5h0m1.7-1.5h0m7.8 1.2h0m2.7 55h0m5.5-57.5h0m1.9 0.2h0m1.8 55.3h0m2.4-3.2h0m4.5-53.5h0m0.5-3.1h0m0.3 2.2h0m2.2 52.1h0m5.3-54.2h0m0.8 3.5h0m1.1-0.2h0m8.4 41.8h0m2.5-44.1h0m10 42.1h0m0.1 1.8h0m1.1-4.2h0m0.3-40.6h0m1.5 42h0m4.1-45.5h0m2.9-1.5h0m0.2 43.9h0m2.4-2.3h0m2.8-39.5h0m2.2-1.3h0m0.4 36.9h0m0.7 2.8h0m0.6-0.4h0m1.6-1h0m2.5-6.8h0m0.6 5.4h0m1.9-38.2h0m1.2-4.3h0m0.2 42.6h0m1.4-36.2h0m0.4 31.4h0m0.4 0.2h0m1-33.1h0m0.1 30.4h0m0.1 0.4h0m2.9 1.7h0m0.6-0.3h0m0-34.1h0m0.5 0.8h0m0.5 34.1h0m0.8-34.6h0m0.2-0.3h0m0.6 33.7h0m0.6-31.9h0m2-5h0m0.2 36.8h0m0.3-3.5h0m3.5-34.6h0m0.5 30.4h0m0.2 3.7h0m0.7-4.1h0m1.8-26.5h0m3.2 25.1h0m0.5-21.4h0m1.6-6.9h0m0 22.8h0m3-22.3h0m2.5 6.2h0m0.1 20.5h0m0.6-3.8h0m0.3-15.1h0m0.2-3.9h0m0.8-7.1h0m0.4 8.3h0m2.7-4.7h0m0.7 23.6h0m2.2-2.4h0m0.1-2.2h0m0.3-23h0m1.1 1.1h0m0.3 27.9h0m0.6-20.2h0m0.1 11.2h0m1.3-17.5h0m0.1 4.5h0m0.7 13.4h0m0.4-2.2h0m0.6-0.3h0m0.2-10.9h0m0.2 7h0m0.4-12.3h0m0.9 19.4h0m0.1-17.7h0m0.1 17.6h0m0.4-3.5h0m1.7-1.4h0m1.2-8.2h0m0.5-4.7h0m0.3 1.7h0m0.7-0.6h0m0.9-1.2h0m2.2-3.6h0m0 14.4h0m1.4-5.3h0m0.4-3.7h0m1.4-3h0m3.7 8.2h0m0.3-1.8h0"/>
<path stroke="#caff2c" d="M412.2 637.4h0m2.7 1.7h0m0.1-3h0m1.5-0.3h0m0.4-6.6h0m0.2 8.2h0m1.5 1.2h0m0.3 0.4h0m0.9 6.1h0m0.1-13.4h0m0.3 11.9h0m3.1 1.5h0m1.1-4h0m0.2-14.3h0m1.3-0.6h0m0.4 2.9h0m0.7 18.3h0m1-24.5h0m0.4-1.6h0m0.4 1.4h0m0.1 16.3h0m0.4-18.7h0m0.9 29.1h0m2.6-34.2h0m0.5 0.3h0m0.4 3.2h0m1.5 25.1h0m0.3-27.7h0m1.9 26.3h0m1.6-29.1h0m0.6 5.7h0m0.3-6h0m0.2-0.3h0m0.4 29.2h0m0.1-28.5h0m0.7 31h0m0.7-28.2h0m1.1-7.8h0m0.9 1.9h0m2.5-1.3h0m0 37.4h0m5.2-2.2h0m0.5 1h0m0.7-40.9h0m0.6 1h0m1.7-2.1h0m1.8-1.1h0m1.1 4.3h0m2.5 35.2h0m1.5-39.5h0m1.2-3.3h0m0.1 3.5h0m1.1 42.7h0m2-1.4h0m5.7-2.1h0m2.5-47.2h0m0.7 4.2h0m1.3-4.6h0m3.7 47.9h0m0.4-49.7h0m3.2-0.5h0m2 46.1h0m2.5-46.6h0m2 50.6h0m7.2-55.8h0m6.8 51.9h0m6.7-56.1h0m6.3-2.2h0m0.5 54.4h0m2.3-54h0m0.7-0.6h0m5.7-1h0m1.7 54.1h0m9.7-1.5h0m4.4 1.3h0m0.3-59.4h0m2.9 56.9h0m4-61.2h0m0.3 1.6h0m1.4 58.8h0m3.8 0.1h0m2-62.3h0m1.2 1.8h0m6.1-5.9h0m1.5 61.6h0m12.6-63.3h0m0.3 0.3h0m3.3 61.9h0m1.8-1.4h0m0.6 1h0m1.9-3h0m5.1-63.2h0m0.9 61.5h0m0.3 2.5h0m1.4-2h0m9.9-66.1h0m1.6 63.8h0m15.3-67.8h0m0.2 0.6h0m5 0.3h0m5.8-1.2h0m0.6 60.2h0m3.4-1.1h0m2.1-61.3h0m5.3 61.1h0m3.5-2.9h0m4-58.5h0m4.2-4.4h0m0.4 59.1h0m2.9-57.5h0m2.7 56.9h0m0.1-58.1h0m1.8 59.2h0m0.5-0.9h0m1.6-3.7h0m1.9-57.1h0m0.6 2.4h0m2.3 57.3h0m2.1-60.2h0m2.9-0.3h0m1.2 54.5h0m2.1-0.2h0m0.7-56.3h0m3.5 57.9h0m4.6-57.7h0m2.1-0.2h0m1.5 52.2h0m4.4-0.2h0m2-0.6h0m3-1.4h0m0.9-51.7h0m8.1 47.9h0m4.3-7.1h0m2.2 3.8h0m0.1-41.7h0m0.8 41.2h0m2.8-48.6h0m7.8 45.3h0m0.5-43.1h0m1-4h0m1.2 44.4h0m6.6-2.5h0m0.1-37.7h0m0.2 36.2h0m5.2-0.4h0m2.9-33.7h0m0.4 31.4h0m1.5-0.1h0m0.3 0.4h0m0.4-39.4h0m4.2 37.4h0m0.7-5.5h0m2.4-31h0m0.7-1.6h0m2 31.3h0m0.3-30.2h0m0.8 29.5h0m1.4 3.1h0m0.1-2.4h0m0.7-2.8h0m0.2 7.9h0m4.7-6.3h0m0.2-27.1h0m2.4-0.8h0m0.7 25.1h0m0.3-20.5h0m0.1 21.1h0m1.3-1.3h0m2.8-29h0m0.4 15.5h0m0.3 8.5h0m0.7-20h0m0.5-1h0m2.6 17.2h0m1-5.4h0m1.8-17h0m0.2 28.8h0m0.5-3.8h0m1.3-0.6h0m0.5 1.6h0m0.5 2h0m1-2.3h0m0.3-2.4h0m1-21.2h0m0.1 22.8h0m0.4-7.8h0m2.5 1.1h0m0.9-18.8h0m0.8-0.4h0m1.4 2.6h0m0 18.5h0m0.3-6.1h0m0.1-5.9h0m0.7 8.5h0m1.2-15.4h0m0.4 0.5h0m0.2 6.1h0m0-6.3h0m0.4-1.3h0m0.6 21.8h0m0.6-25.7h0m0.2 7.8h0m0.2 15.3h0m0.1-6.3h0m0.6-11.5h0m0.3-3.1h0m0.1 13.3h0m0.7-1.5h0m0.3-1.6h0m0.4 6.5h0m1.7-5.2h0m0.2 0.8h0m0.7-9.2h0m0.1 5.5h0m0.8 2.8h0m5.7-5.9h0m0.2 0.7h0m1.3 2.1h0m0.6-2.7h0m0-3.6h0m1.8 2.6h0m7.8-6h0"/>
<path stroke="#dbff1c" d="M414 637.8h0m3.7-8.9h0m1.5 5.8h0m1.5-4h0m0.4 0h0m0.5-4.4h0m0.3-0.1h0m0.9 2.3h0m0.8 12.4h0m2.1-1.5h0m0.5-13.9h0m1.9 0.4h0m0.5-0.6h0m1.4 15.4h0m1.3-20.5h0m0.1 8.7h0m0.3-5.2h0m1.9 19.6h0m0.4-23.4h0m0.3-4.6h0m0.2 3.4h0m2.2 19.4h0m1.1-22.7h0m1.9 27.8h0m3.3-29.6h0m1.8 31.3h0m0.5-31.9h0m0.8-3.2h0m3.6-0.2h0m0.4 31.1h0m0.6-1.8h0m0.6-32.8h0m0.5 4.2h0m1.9-5h0m2.1 37.8h0m1.6-1.4h0m1.1-1.3h0m0.4-34.5h0m0.9-4h0m0.4 35.6h0m1.2 4.5h0m0.3-0.9h0m3.2-40.7h0m0.2 0.5h0m0.9 42.4h0m2.9-3.2h0m0.6-1.8h0m1.6 1.7h0m2.6-0.4h0m2.4-0.3h0m2.1-45.1h0m0 4.5h0m1.6-2.2h0m1.9-1.3h0m3.2 43.6h0m1.7-46.6h0m3.6 44.2h0m2.4 2.3h0m0.1-1.5h0m2.5-51h0m1 0.9h0m3 47.5h0m3.3 0.6h0m0.4-46.7h0m0.3-3.9h0m3.8 51.2h0m1.1-51.9h0m1.3 50.2h0m1.2 1.2h0m5.4-52.3h0m0.7-1.7h0m0.9 0.1h0m3.2-3.2h0m2.3 54h0m0.6 1.2h0m1.7-54.8h0m0.2 55h0m1.2 0.4h0m0.6-56.8h0m1.2 53.8h0m1.2-52.7h0m1.5-2h0m0.3 1.8h0m4.7-2.6h0m0.2-0.1h0m1.5-0.6h0m0.3 54.2h0m6.3-2.7h0m0.4-53.9h0m4.6 55.6h0m0.5-2.1h0m1.8 2.5h0m0.2-3.7h0m0.2 0.7h0m2-53.3h0m7.4 52.2h0m5-58.2h0m3.8 56.1h0m0.2-58.2h0m6.6 57.7h0m1.8-0.5h0m2.4-60.6h0m2.5-0.6h0m3.2 0.2h0m7.2 56.8h0m1.4-0.1h0m1.4-0.1h0m0.4-61.7h0m15.7 58.9h0m0.8-62.8h0m2.5 59.5h0m5.9-60.9h0m2 1.2h0m5.2 57.1h0m4.8-0.5h0m4.6-4.3h0m0.9-54.2h0m6 54.6h0m2.7-59.5h0m1.3 56.8h0m1-54.8h0m7.7 53.5h0m4.5-2.3h0m0.5-55.9h0m4-1h0m1.2 0h0m1.6 55.2h0m2.9-56h0m0.9-0.2h0m1.1 1h0m0.8-1.2h0m0.5 0.1h0m4.6-1.7h0m1 54.1h0m4.2-2.2h0m1 0.2h0m2.4 1.1h0m2.5-51.2h0m2.6 45.6h0m2.5-50.7h0m0.6 3.2h0m0.9-1.9h0m0.8 49.6h0m0.4-47.6h0m1.4-4.2h0m1.9 2.7h0m0.2 0.6h0m4.6 43.8h0m0.3-44.6h0m1.4 41.7h0m3-41.6h0m3.9 43.5h0m0.3-4.4h0m2.9-39.3h0m0.7-0.4h0m5.9-4h0m4.2-1.3h0m2.5 38.9h0m2.4-38.8h0m2.2 1h0m2-1.2h0m0.3 5.4h0m0.4 30.3h0m2 0.7h0m0-34.5h0m4 29.3h0m0.4-2.4h0m0.3-0.8h0m1.4 4.7h0m1.7-4.2h0m0.2-2h0m1.9-22.6h0m1.6-7.4h0m0.1 31.9h0m0.2-0.6h0m1 1.5h0m0.3-25.3h0m1.5 19.9h0m0.5 6.7h0m3.4-25.7h0m0.4 24.4h0m0.1-19h0m1-13.8h0m0.5 31.6h0m1.1-22.5h0m1-4.3h0m1.8 23.5h0m0.8-13.4h0m0.6-2.4h0m0.4-7.7h0m2.3 18.1h0m0.5-0.3h0m0.1-21h0m0.7 21.5h0m1.4 1h0m0.3 0h0m0.1-2.2h0m0.9-9.7h0m0.7 6.5h0m0.2-14.2h0m0.3 6.1h0m0.3-9.5h0m0.2 6.9h0m2.3 4.5h0m0.6-7.6h0m1.5-0.5h0m0.1 5.8h0m0.7-11.5h0m0.3 9.6h0m0.5 7.1h0m2.3-11h0m0.7 4.6h0m0.7-8.7h0m0.2 17.3h0m0.2-10.1h0m1.3 7h0m0.4-10.5h0m0.3 8.1h0m0.4-4.6h0m0.8 5h0m0.6-11.6h0m0.3-2.8h0m0.6 5h0m0.9-2.8h0m1 6.3h0m0.2-4.6h0m0.7 3.9h0m1.5-0.2h0m2.7-3.8h0m5.6 7.9h0m1.8-12.5h0m1.3 5.4h0"/>
<path stroke="#ebff0c" d="M418.3 636.5h0m6.5-8.9h0m0.6 6.5h0m1.3-5.5h0m0.4-3h0m0.4 13.9h0m2.1-17.4h0m0.2 5.6h0m0.2 0.7h0m0.6-0.5h0m0.1 7.1h0m1.3 8.4h0m0.3-23.1h0m0.4-0.9h0m0.5 18.3h0m0-15.6h0m0.2 12.8h0m0.7 0.4h0m1-12.8h0m0.6 14.7h0m0.2-12.3h0m1.3 17h0m0.3 1.9h0m0.5-9.3h0m0.1 5.5h0m0.7-3h0m0.6-15h0m1.6-2.8h0m2-3.4h0m0.6 24.5h0m1.2-3h0m1 5.9h0m0.5-23.3h0m2.1 18.4h0m5.6-27.4h0m2.3 28.3h0m1.1-3.3h0m3.4 6h0m2.4-38.6h0m0.9 0.5h0m2.2 36.9h0m1.8 1.9h0m1.9-42.2h0m0.2 0.6h0m1.1 0.2h0m0.2 40.1h0m1.6-43.7h0m3.4 42.5h0m1.4-1.8h0m0.6-0.1h0m2.8-42.7h0m4.9-4.1h0m0.9 41h0m2.2 4h0m3-1.1h0m0.9-43.4h0m2.2 42.3h0m2.2-45.6h0m2 0.2h0m0.3 46.7h0m2.4 1.9h0m2.3-1.7h0m1.4-4.8h0m2.6 1.9h0m1.3 1.2h0m1.3-1.2h0m7.6-51.6h0m1.6-1.9h0m2.7 54.3h0m3.1-3.7h0m4.4-54.9h0m0.3 54.8h0m6-53.2h0m3.9 51.7h0m5.7-54h0m9.6 50.5h0m1.8 0.2h0m0.1-2.3h0m2.2-54.9h0m1.3 0.9h0m1.7-1.5h0m7.7-1.8h0m3 57.5h0m0.8-56.5h0m2.2-2.8h0m3-0.6h0m2.2-0.4h0m0.7-0.2h0m0.2 56.5h0m1.1-56.5h0m3.2 55.5h0m1.9-58.2h0m0.4 1h0m4.5 56.9h0m0.5-60.9h0m4.6 58.9h0m0.7-59h0m1.2 58.9h0m0.4 1.2h0m1.1-2.4h0m5.5-59.7h0m0.8 0.1h0m6-1.7h0m4.6 56.9h0m0-0.8h0m4.7-57.4h0m2.1 54.7h0m0.5-55.7h0m0.2 57.1h0m1-55.4h0m3.2-5.1h0m6.6 57.9h0m4.3-2.9h0m0.6-54.9h0m1 54h0m4.2-0.5h0m1.3-56.8h0m3.6 2.9h0m3.2 49.5h0m5.5 0.3h0m0.8-53.4h0m2.8 52.2h0m0.3-53.4h0m0.8 52.9h0m5.6-54h0m3.9 2.1h0m5.5-0.5h0m9.7 45h0m1.1-47.2h0m2.6 41.6h0m2-43.2h0m3.7 0.7h0m2.8 40.4h0m1.6-40.7h0m1.1 43.7h0m11.1-47.7h0m0.2 0.9h0m0.2 39.6h0m3-2h0m0.9-2.1h0m1.9-36.2h0m1 37.1h0m0.5-3.8h0m0.7 1.4h0m0.7-36.7h0m0.2-0.3h0m0.9 2.8h0m0.6 32.8h0m2.6-27.6h0m1.4 27h0m0.5-36.6h0m4.6 32.6h0m0-31.2h0m0.3 33.2h0m0.8 1h0m0.6-29.5h0m0.2-3.8h0m0.9-2h0m0.1 36h0m0.9-31h0m0.4 27.2h0m3.5-31.5h0m0.6 5.4h0m0.3 24.5h0m1-21.2h0m0.7 17.6h0m4.4 0.6h0m2.7-4.3h0m1-21.6h0m1.9 20.9h0m1.4-9.7h0m1.6 2.4h0m0.2 0.3h0m0.7-3.4h0m0.5 7.8h0m0.6-10.1h0m0.9 6.2h0m0.2-18.2h0m0.7 0.9h0m0.1-2.7h0m0.9 4.5h0m1.3 12h0m0.1-0.2h0m0.7-14.8h0m0.2 9.2h0m2 3.8h0m0.3-9.7h0m0.2 2.5h0m0.2 12h0m0.3-13.8h0m0.6 8.6h0m1.2 0.2h0m1-2.9h0m0.7-3.3h0m0.7-1.6h0m0.7 4.7h0m0.3 1h0m1.9 5.7h0m0.2-7.1h0m1.1-2.4h0m1-5.3h0m0.4 14.9h0m0.8-4.8h0m0.1 3h0m0.9-0.9h0m1.9-10.3h0m1-1.9h0m1.4 11.2h0m0.1-6.3h0m1.9-12.7h0m1.5 5.4h0m3.6 6.3h0m1-6.7h0m15.3-1.4h0"/>
<path stroke="#feed00" d="M425.2 631.4h0m2.6 2.3h0m3.4-8.3h0m3.5 10.8h0m0.2-3.4h0m0.5 5.5h0m1-0.9h0m0.1-2.9h0m0.2-10.5h0m1.2-2.6h0m1.1-2.4h0m1.8 6.6h0m1.1 4.5h0m1.5-14.8h0m0.9 21.1h0m0.7 0.4h0m1.2 1.3h0m0.2 1.5h0m0.7-26.1h0m0.1 26.4h0m0-29.1h0m0.8 4.2h0m0.3 20h0m2.7 1.7h0m2.1-25.7h0m0.2 20.7h0m0.9-24.9h0m0 31.3h0m0.1-28.6h0m2.2 28.1h0m1.3-7.7h0m0.5 4.3h0m0.9-22.2h0m0.5 28.4h0m1.7-35.7h0m0.8 33.2h0m0.1 2.7h0m2.2-33.3h0m2.3 27.5h0m0.8 3.8h0m0.6-2.8h0m1.9-28.5h0m2 29.4h0m0.8-32.6h0m0.9 35.9h0m0.3-36.8h0m0.4-2.9h0m1.9 38.8h0m2.8-38.3h0m1.6 36h0m0.3-3.1h0m2.8-33.8h0m1.3-3.4h0m1.2 40.5h0m1-44.6h0m2.4-0.9h0m6.3-1.9h0m0.4 44.1h0m0.3-0.6h0m1.1-43.9h0m0.4 44.3h0m2.5 1.2h0m4.5-1.5h0m0.5 2.6h0m1.8-2.8h0m1.4-1.4h0m0.7-1.4h0m4.5-42.3h0m1.3-5.3h0m4.1 0.6h0m2.6-2.1h0m1.5 0.8h0m4.1-0.6h0m0.6-1.4h0m5.1-1.2h0m4-1.9h0m6.4-2.3h0m0.7-1.2h0m2.5 51.1h0m2.1 1.6h0m0.1-0.7h0m2.5-53.5h0m1.4-1.4h0m2.8 54.2h0m0.4-52.8h0m7.5 50.4h0m2.4-53.3h0m0.5 0.4h0m2.7-3.6h0m2.2 52.3h0m7.9 0h0m1.7-1.6h0m5 0.2h0m1.3-0.5h0m0.6-1.1h0m11.6 1.1h0m1.1-57.9h0m7.1 54.8h0m2.6-3h0m1.8-54.6h0m1.6-0.9h0m3.5 56.4h0m0.3-2.1h0m8.1-57h0m2.3 54.2h0m2.3-51.9h0m4.2 49.8h0m5.7-0.7h0m0.7-55.5h0m4.5 0.6h0m5.1 1.3h0m0.4 52.2h0m0.7-2h0m0.9-1h0m1.7-1.5h0m3 0.3h0m1 0h0m2.4-51.1h0m0.6 50.8h0m1.4-50.7h0m6.5-3h0m1.6-3.4h0m0.2 49.5h0m0.1-44.5h0m1.5 47.5h0m4.5-50.5h0m1.2 47h0m0.3-0.5h0m1.4-46.3h0m2.1 45.9h0m1.2 1h0m0.8-48.3h0m2.5 2.1h0m4.3 45h0m1.9-2.6h0m3.8-44.2h0m1.5-3h0m1 2.5h0m3.6-1.5h0m5.3-0.1h0m0.8 1.8h0m0.2-1h0m1.3 37.5h0m0.2-37.7h0m0.2 1.2h0m1.2-2.6h0m0.3 1h0m0.6-1.6h0m1.8 36.9h0m0.1 1.2h0m0.3-38.1h0m4-3.2h0m2.4 35h0m2 2.3h0m1.3 0.2h0m1-6.1h0m2.2-27.9h0m0.8-0.9h0m0.8 31.3h0m0.2-1.5h0m0.1-30.7h0m1.9 32.9h0m0.8-1.6h0m0.3-5h0m1-0.1h0m2.3 3h0m0.7 0.5h0m0.1-5.1h0m1.8-12.3h0m0.6 11.2h0m1.5 3.1h0m0.5-13h0m0.1 8.4h0m0.6-22.5h0m0.1-3.6h0m0.4 31.6h0m0.2-25.8h0m1.3 23h0m1.1-6.4h0m0.8-23.6h0m0 31.7h0m0.5-26.2h0m1 15.6h0m0.1 5.4h0m1.3-22.9h0m0.1-2.2h0m1.2 2.5h0m0 20h0m0.7-15.6h0m0.8-1.2h0m0.6 0.5h0m0.6 0h0m0.7-5.4h0m0.1 6.9h0m1 12.2h0m0.5-10.2h0m0.2 0.5h0m0.7 12.7h0m0.1-19.6h0m0.1 6.7h0m0.3-4h0m0.4 0.7h0m0.2 12.7h0m0.3-18.5h0m0.1 14.9h0m0.2 3.3h0m1-11.7h0m0.2 10.5h0m0.1-7h0m0.6-9.5h0m0.2 14.9h0m0.1 2h0m0.4-17.1h0m0.5 17h0m0.1-14.6h0m2.6 12.9h0m1.1 4.1h0m0.1-1.9h0m0.3-16.5h0m1 1.6h0m0.4 3.5h0m0.3 6.1h0m0.1-9.2h0m0.6 7.3h0m1.9 1h0m0-4.5h0m2.7-2.4h0m0.6-4.4h0m0.9 3h0m0.4 10.1h0m1.6-3.9h0m0.9-6.9h0m0.2-3.4h0m1.2 7.7h0m3.7-2.8h0m3.8-4.6h0"/>
<path stroke="#ffdb00" d="M432.1 631.2h0m1-3.8h0m0.6 0.3h0m0.2 1.1h0m0.5 6.2h0m0.9-10.8h0m1 11.4h0m1.9-9.6h0m3.9-8.3h0m0.7 6.9h0m0.7 8.6h0m0-11.9h0m0.5 14.6h0m0.4-7.9h0m0.6-4.7h0m1-2.3h0m0.6-0.7h0m2.3-4.1h0m0.7 19h0m0.4-0.7h0m0.8-20.9h0m0.6-2.2h0m0.5 1.5h0m2 0.3h0m1.2 22.2h0m0.2-21.2h0m0.7 0h0m0.5-5h0m1.1 29.3h0m0.1-7.3h0m0.3-22h0m0.7 25.9h0m0.7-25.5h0m0.5 0.2h0m0.3 4.5h0m1.3-6.1h0m3.2-1.5h0m0.6 3.6h0m0.5 24.3h0m5.2-31.6h0m3.6 34.3h0m1.7-2.4h0m1.2-38.3h0m1.1 6.6h0m1.5 30.1h0m0.8 0.8h0m0.1-34.8h0m2.2-0.6h0m2.9-4.1h0m3 4.1h0m0-2.5h0m0.4-0.5h0m0.1-2.9h0m1.2 2.7h0m3.4-0.7h0m0.8 37.6h0m1.4-40.7h0m6.9-1.8h0m2.9-2.5h0m1.8 43.9h0m0.2-1.2h0m3.1 0.2h0m0.2 0.8h0m0.1-1.2h0m1.4-42.6h0m0.7-0.8h0m0.4-0.6h0m0.6 2.9h0m0.2 42.5h0m3.4-3.5h0m1.3-44.2h0m3.6 45h0m0.4 1.3h0m2.6-47.7h0m7.7 44.6h0m1.4-47.9h0m2.4 0.6h0m1.2-1.4h0m2.7-0.8h0m1.1-1.5h0m3.9 1.3h0m0.7-2.9h0m1.6 52h0m1.5-53.2h0m1 2.8h0m0.6-4.2h0m0.9 48.9h0m5.5-48.9h0m1.3 51h0m1.9-53.5h0m1 51.9h0m2.2-1.6h0m1.1 1h0m1.4-52.3h0m1 51.7h0m1.5-51.5h0m6.7 51.2h0m0.7-53.5h0m3.5-1h0m1.9-1.7h0m0.8 3.5h0m1.2-1.5h0m0.4 52h0m1.3-2.1h0m0.9-52.2h0m0.7-2.2h0m4.1 3.4h0m2.9 51.7h0m0.8-55.4h0m2.1 52.9h0m13.7-56.6h0m1.7 52.2h0m4.6-52.1h0m1.3 51.4h0m6.3-56.2h0m8.1 0.5h0m12 48.1h0m1.4-53.5h0m5.3 52.8h0m5-53.4h0m0.2-1h0m0.1 51.7h0m2.9-3.2h0m0.6-47.1h0m2.6-1.9h0m4.6 48.1h0m1.3-0.9h0m0.7 3.6h0m0.4-3.3h0m0.5-1.3h0m1.4-46.1h0m1.1-1.9h0m0.8 47.5h0m0.1-0.9h0m0.2-45.3h0m3.6 44.3h0m1.5-40.9h0m1.8 40.7h0m1.4-0.4h0m3.3-45.1h0m0.5-1.6h0m0.8 0.9h0m6.8-3.3h0m0.9 5.5h0m8.5-6h0m2.9 0h0m0.3 33.2h0m1.1-30.5h0m1.4 36.9h0m0.6-38.5h0m3.8 27.9h0m0.2-26.7h0m0.2 33.4h0m0.1-2.4h0m1.3-33.4h0m0.4 24.3h0m0.1-0.5h0m0.5 6.7h0m2.8 0h0m0.5 2.1h0m0.6 0.5h0m0.4-30.3h0m0.4-2.5h0m1.2 26.5h0m0.2-24.9h0m0.9 31.3h0m0.1-35.7h0m0.6 3.2h0m0.4 2.3h0m1-2h0m0.7-1.5h0m0.3 5.2h0m1.3-3.5h0m2 3.9h0m0.4-1.7h0m0.2 16.9h0m1.1 4h0m0.7-1.5h0m1.2-0.9h0m0.1-20.9h0m0.7 14h0m0.4-7.7h0m0.4 19.9h0m0.4-20h0m0.2 10.6h0m1.3-13.9h0m0.6 16.3h0m2.1 5.3h0m0.2-19.1h0m0.1-10.6h0m1.6 13.6h0m0.5 14.8h0m1.3-14h0m0.4 6.8h0m0.4 1.9h0m0.2-5.9h0m0.5 6.6h0m0.8-3.4h0m0.9-14.2h0m1.7 16.4h0m0.3-19.7h0m0.8-2.8h0m0.1 20.9h0m0-2.9h0m1.4-17.1h0m2.6 11.9h0m1.4 4.2h0m1.6-3.5h0m0.2-0.4h0m0.3-1.4h0m0.7-1.4h0m0.3 2.3h0m0.4 3.8h0m1.6-2.6h0m1.6-11h0m2 1.9h0m0.8 7.6h0m0.8-14.2h0m0.3 12.3h0m1.9-3.3h0m2.7-5.4h0m2 4.9h0"/>
<path stroke="#ffc800" d="M432.2 628.7h0m8.1 0.8h0m3-1.6h0m1.1-1.7h0m0.3-2.6h0m1 6.4h0m1.9-4.4h0m2.9-8.4h0m0.6 16.8h0m2.5-0.8h0m1.2-0.6h0m0.7-19.6h0m5.1 21.6h0m0.3-19.4h0m0.6 15.3h0m1 0.5h0m0.2-17.5h0m0.2 14.3h0m1.5 5.5h0m0.3-21.8h0m2.1-1.6h0m1.9-3.8h0m0.2 0.7h0m4.3 24.9h0m1.7 1.7h0m0.9 2h0m0.2-4.2h0m0.2-0.9h0m0.6-27h0m0.6 30.8h0m0.5-30h0m4-2.2h0m0.7 0.1h0m0.1 30.4h0m2.7-0.5h0m0.3 0.4h0m0.2-31.4h0m1.4 31h0m0.3 1h0m1.3-2.3h0m0.1-0.2h0m2.9-35.5h0m2-1h0m1.2 36.1h0m2.4 1.5h0m5.6-39.2h0m0.7 36.7h0m0.6-2.2h0m0.1 3.3h0m0.7 1.6h0m0.6-39.2h0m1.2 36.6h0m1.4-37.5h0m2 35.8h0m2-1h0m3.4 1.3h0m3.3-1.9h0m0.7-41.1h0m2.3 0.9h0m6.3 40.3h0m0.3-44.1h0m1.5 44.4h0m1.2-42.7h0m1.3-1.3h0m0.1 2.2h0m0.3-3.4h0m1.3 0.2h0m1.2-2.9h0m0.1 1.9h0m3.3 44.2h0m0.9-0.4h0m0.3-45.6h0m6.2-2.1h0m2.1 45.9h0m1.9-1h0m0.1-47.5h0m0.2 50h0m1.3-47.2h0m1.6-1.3h0m0.9 0h0m0.6 0h0m11.9-6.3h0m0.6 0.7h0m0.1 48.8h0m3.4-50.3h0m0.2 50.4h0m2.7-1.8h0m4.3 1h0m2.9-51.5h0m0.2 49.9h0m0.5-47.3h0m5.7-3.6h0m0.5-1h0m5.4-4.1h0m4 50.6h0m0.7-51.1h0m0.7 1.8h0m1.1 0.1h0m1.9-1.1h0m5.8 2.9h0m2.9 44.5h0m5.2-52.6h0m0.4 1.3h0m4.8-2.1h0m5.1-0.1h0m1 50.4h0m0.6 1.4h0m0.1-53.5h0m3.4 48.1h0m0.7 2.8h0m1.5-51.1h0m0.9 48.6h0m3.6-0.9h0m2.8 0h0m2.2-48h0m2.1-1.5h0m0.6 50.5h0m1.8-3.8h0m1.6-49.2h0m4.3 4.2h0m1.5-5.7h0m1 47.2h0m1.4-47.6h0m0.2 3.3h0m1.3-3.2h0m0.6 50h0m2.8-49.8h0m3.2 1.2h0m0.3 46.7h0m0.8-47.4h0m3.3 0.2h0m0.4 2.8h0m1.2 39.2h0m0.6-42h0m0.5-1.1h0m0.8 0.3h0m3.3 0.9h0m3.1 39.5h0m1 0h0m0.5 0h0m0.8-40.9h0m7.2-3h0m0.7 4.1h0m0.6-0.6h0m2.8-2.9h0m0.1 34.9h0m0.2-0.6h0m1.4 2.9h0m1.6-3.2h0m1.4-0.6h0m0.1 3.8h0m0.9-36.7h0m1.2 34.7h0m2-38h0m0.6 36.9h0m1.2-33h0m0.2 29.5h0m2.7-31.7h0m0.9 31.1h0m1.1-31.8h0m0-1.9h0m2.8 32.3h0m2-24.3h0m0.3-1.6h0m1-4.8h0m1.9 2.1h0m0.2 0h0m0.8-3.5h0m0.5 29.8h0m2.1-24.4h0m0.1 0.9h0m1.3-1h0m2.5 23.1h0m0.2-26h0m0.3 3h0m1.3-1.2h0m0.8 15.8h0m0.2 2.2h0m1.6-17.1h0m2.6 0.8h0m0.3 9.8h0m0.3 7.4h0m0.8-16h0m0.3 15.1h0m0 0.4h0m0.1-22.1h0m1.3 16.9h0m0.2-15.9h0m0.4 19.2h0m0.6-14.8h0m0.5-5.1h0m0.6 14.6h0m0.9-2.7h0m0.7 4.6h0m0.3-9.3h0m0.4 7h0m0.1-12.1h0m0.5 14.2h0m1.1-14.6h0m0.2 15.5h0m0.1-13h0m0.2 5.1h0m0.4 1h0m0-9.8h0m0.1 5h0m1.3 5.5h0m0.1-8.2h0m0.8 9.7h0m2.2-10.5h0m0.1 14.2h0m1.5-13.2h0m1.1-3h0m1 8.2h0m0.2-2.3h0m4.9-3.9h0m1.1-1.9h0m1.5-6.3h0m8.4 8.6h0"/>
<path stroke="#ffb200" d="M441.5 629.9h0m2.2-7.2h0m1.5 0.7h0m1.6 0.8h0m1 4.8h0m1.3-4.5h0m1.3 2h0m0.8-9.2h0m2.6 1.3h0m0.8 4.9h0m0.8 4.9h0m1.3-7.4h0m1.5 8.8h0m1 0.9h0m0.1-9.6h0m0.4 12.6h0m0.3-8h0m1.2-11.8h0m1.3 1.8h0m0.5 18.7h0m0.9-18.9h0m0.4 7.9h0m0.9-14.4h0m0.3 7.5h0m0.8 16.4h0m0.1-12.9h0m2.4-11.4h0m0.2 10.6h0m0.1 6.2h0m0.2-18.4h0m0.3 24.6h0m0.3-7.7h0m1-17.2h0m0.5 0.4h0m1.6 2.6h0m1 1.5h0m0.4-6h0m0 1.2h0m0.5-2h0m0.4 26.7h0m0.9-2.2h0m1.5-24.5h0m1-1.4h0m4.8 29.4h0m0.2-34.3h0m2.6 28.4h0m0.4-25.8h0m3.6-1.6h0m0.6 1.3h0m0.5 28.6h0m0.1 1.9h0m1.3-2h0m1.1-34.9h0m1 34.7h0m2.1-35.1h0m0.3 6.6h0m5.4 28.1h0m2.2-0.4h0m2.3-34.3h0m5-2.4h0m0.5 35.2h0m2.6-35.2h0m0.1 38.9h0m0.2-6.4h0m3.8-38.4h0m0.5 38.3h0m1.9 2.5h0m0.6-37.7h0m2.2-5.4h0m1.8 1.7h0m2.7 39.3h0m1.2 2.8h0m0.1-45.3h0m2.1 40.8h0m0.1-42.5h0m0.3 44.8h0m2.2-43.4h0m0.1 41.9h0m0.8-1.7h0m4.3 1.5h0m2-44.3h0m1.9 40.8h0m0.1-41.1h0m3.9-1.4h0m1.8 41.8h0m2.7 0.6h0m1.7-0.5h0m1.3-46.6h0m1.9 1.1h0m0.1 45.5h0m0.2-43.1h0m0.2-1.3h0m1.4 4h0m1.7-6.5h0m2.7 0.6h0m3.5 46h0m2.2-47.5h0m2-0.5h0m0.6 1.2h0m0.2-1.4h0m0.6 1.6h0m2.4 42.7h0m1.9-46.5h0m0.8-0.3h0m2.2 47.4h0m3.3-45.9h0m6.2 43.9h0m5.5-3.5h0m1.4 3.1h0m0.8 0.3h0m0.8-3.2h0m1.4 0.6h0m1.3-2.2h0m2.9-0.5h0m0.7-43.2h0m8.9 41.1h0m1.9-1.1h0m0.1-46.9h0m1.3-1h0m3 47.3h0m2.2-46.2h0m0 47.4h0m4.9-48.6h0m7.5 43.5h0m1.6-43.3h0m0.7-2.9h0m1.3-0.3h0m4.4 43.6h0m0.3-44.9h0m0.5 45.1h0m1.5-45.7h0m3.9 44.4h0m4.8-3.7h0m1.9 3.3h0m0.4-42.2h0m0.1 41.4h0m4.3-39.7h0m0.1-7.9h0m3.9 1.6h0m2.8 43.8h0m1.7-4.4h0m5.2 0.9h0m5-3.1h0m1.7-39.9h0m3.3-1h0m1.8 0.8h0m1.6 34.8h0m0.1 1.2h0m0.8-31.6h0m4.2 28.6h0m0.5-34.1h0m2.6 33.5h0m0-33.7h0m0.9 0.4h0m0.7 3.1h0m1.1 31.4h0m1.5-3.5h0m1.1-28h0m1.3 25.6h0m0.3-22.6h0m0.2 24.7h0m1.9-30.1h0m4.7-0.5h0m0.5 26.4h0m0.9-29.1h0m0.6 23.8h0m1.4-1h0m1.1 5h0m0.1-9.8h0m1.6-9.8h0m1.2-5.4h0m1 16.9h0m0.6-18.4h0m0.3 0.6h0m0.2 13.1h0m0.4-13.7h0m0.4 4.4h0m1.5 12.1h0m0-12.4h0m0.9-1.3h0m0.2-4h0m1.4 2.9h0m1.8 3.7h0m0.8 10.8h0m0.8-17.2h0m1 6.6h0m0.1-6.2h0m0.2 8.3h0m0.1 7.4h0m0.2-3h0m1.1 0.6h0m0 0.7h0m0.6-3.3h0m1.2-7.9h0m0.1 3.6h0m0.7-4.2h0m0.6-3.6h0m0.3 14.9h0m0.2-5.5h0m0.1-3.9h0m0.7 6.6h0m0.2 7.5h0m0.3-20.5h0m0.2 13.2h0m0.4-2.2h0m0-5.9h0m0.7-4.8h0m2.9 8.3h0m2.6-1.5h0m0.8-6.8h0m2.8 10.4h0m14.1-5.5h0"/>
<path stroke="#ff9f00" d="M448.7 624.4h0m0.7 2.3h0m1.5-3.5h0m2.7-2.3h0m1.8-7.2h0m0.3 9.6h0m0.6 7.3h0m0.5-12h0m0.1 3.4h0m1.7 4.9h0m0.2-11.1h0m0.7 6.4h0m2.1 7h0m0.2-7.4h0m0.4 3.7h0m0.6-6.5h0m0.3 7.5h0m0.5-8.2h0m0.1-5.8h0m0.4 1.4h0m0.7-1.7h0m1.3 4.3h0m1.1 12h0m0.5-3.9h0m0.1 2.7h0m0.6-7.3h0m1.3-7.4h0m0.7 16.2h0m0.2-11.2h0m0-7.4h0m0.2 18.9h0m0.4-13.3h0m0.4-5.5h0m0.3 14.1h0m0.7 3.2h0m1.4-1.6h0m0.3-7.2h0m0.8 10.3h0m0.6-7h0m0.4-0.2h0m1.5 3.5h0m0.4 2.2h0m3.5 0.3h0m0.5 0.6h0m2.8-3.3h0m0.4-19.1h0m2.4-2.8h0m0.9-5h0m0.1 1h0m0.6 30.6h0m2.8-30.2h0m1.4-0.1h0m0.7 2h0m3.2-1.9h0m1.7 25.3h0m1.7-27.7h0m0.6 27.1h0m0.9-28.4h0m0.1 33.4h0m2.4-3.8h0m3.7-33.1h0m4.3-0.7h0m0.6 34.1h0m1.5-5.9h0m2.2-30.5h0m0.8 1.4h0m0.1-2.1h0m0.6-2.8h0m0.8 5.9h0m2.6-2.3h0m1.4-3.7h0m0.2 38.3h0m1.3 1h0m1.4-42.4h0m3.8 40.7h0m0.7-0.5h0m0.2-0.4h0m0.6-37.2h0m0.2 34.7h0m0.3-35.8h0m0.1 37.6h0m0-37.8h0m0.5 39.1h0m7.9-43h0m0.9 37.2h0m0.3-38.7h0m0.7 42.2h0m0.9-2.2h0m0.7-39.7h0m1.3 39.4h0m2-37.3h0m1.4 39.1h0m2.3-40.1h0m1.4 38.6h0m1.3 2.6h0m2.6-44.4h0m1.5-2.6h0m1.2 42.6h0m2.4-41h0m0.8 41.1h0m2.1 2.3h0m1.8-44.9h0m1.2-0.3h0m1.6-2.9h0m1.1 44.9h0m2.7-44.9h0m0.3-2.1h0m2.1 46.8h0m3.6-46.1h0m2.9-1h0m1.8-1h0m5.3 42.5h0m0.2 0.7h0m2.9 0.3h0m0.3-0.9h0m1.3 0.4h0m0.6-45.9h0m0.8 46.4h0m2.2-46.7h0m0.7-1.5h0m3.1 47.4h0m0.3-2.6h0m3.1 1.1h0m2.4 1h0m0.3-47.6h0m0.6-1.4h0m0.6 44.6h0m1.1-46.4h0m1.7-0.6h0m1.2 49.1h0m1.6-3.1h0m1.1 1.5h0m0.4-45.2h0m3.9 46.7h0m1.2-4.7h0m1-41.4h0m0.8-5h0m0.1 46.3h0m1.2-46.5h0m0.7 0.4h0m3 0.4h0m2.7-5.4h0m0.6 3.1h0m1.3 45h0m0.2-39.7h0m0.5-6h0m2.6 43.7h0m6.4-45.9h0m1.4 42.9h0m2.3 1h0m5.1-0.4h0m0.1-0.4h0m2-1.6h0m5.6-44.1h0m6.2 2.9h0m0.1-2.3h0m0.6-2.3h0m1.9 3.9h0m0.8-2.3h0m5.4-1h0m0.5 38h0m1.2-3.9h0m1.3-34.9h0m2.6 4.4h0m0.8 31.2h0m1.6-36.4h0m0.1 3.2h0m0.7 7.9h0m0.6 24.3h0m0.2 1.6h0m0.2-34.1h0m0.4 34h0m1.4 0.3h0m0.4-28.8h0m0.4-7.2h0m4.2 2.1h0m0.1 32.4h0m1.1-8.4h0m0.9 3.3h0m0.4-28.2h0m0.4 23.1h0m1.4-21h0m0.4-6.1h0m1.6-2.1h0m1 1.5h0m0.8 22.3h0m0.3 6.1h0m0.9-5.6h0m1.1 4.4h0m0.3-1.1h0m1.2-19.8h0m0.2 17.5h0m1.6-21.2h0m0.2 18.8h0m0.4 0.2h0m0.1 6.1h0m1.6-0.1h0m0.4-23.7h0m0.1 5.6h0m0.4-6.1h0m0.1 24.6h0m0.6-20.2h0m0.2 23.4h0m0.2-27.2h0m1 24.9h0m1.7-26.8h0m0 14.8h0m0.5 6.1h0m0.2-20.4h0m2 3.6h0m0.9-1.1h0m0 13.6h0m0.2-2.6h0m0.2-1.4h0m1.6-7.5h0m0.2 10.3h0m0.7 1.4h0m1.9-15.4h0m0.2-1.2h0m0.9 8.8h0m0-9h0m0.2 9.8h0m0.3-7.6h0m0.5 12.5h0m0.7-17.5h0m0.2 7h0m0.6-5.1h0m0.1 12.7h0m0.3-1.6h0m0.1-3h0m0 3.5h0m0.4-10.9h0m0.6 2.2h0m0.2-2.8h0m0.2 8.1h0m0.1 2h0m0.8-5.2h0m0.9 6h0m0.4-2.1h0m0.4 1.5h0m0.6-6.3h0m0.1-3.8h0m0.3-2.5h0m0.1 9.7h0m0.1 6.4h0m1.2-6.8h0m1.5-2.3h0m0.4-1.5h0m0.4 9.5h0m1.1-12.4h0m6.8 1h0m6.5 0.8h0"/>
<path stroke="#ff8d00" d="M452.8 624h0m2.7-6.3h0m2 5.4h0m0.4 4.3h0m0.7-9h0m1.5 6.3h0m0.4 2h0m0.5-4.9h0m0.2-7h0m0.7-0.5h0m0.1 16.2h0m1.3-11.7h0m2.4-6h0m0.2 17.9h0m1.1-19.4h0m0.4 5.8h0m0.2 2.6h0m0.5 4.2h0m0.4-3h0m1.3-1.7h0m0.1 5.6h0m2-17.9h0m2.3 8.7h0m1 6.5h0m0.3-16.3h0m0.3 5.8h0m0.8 4.5h0m0.5-7.3h0m0.1 12.3h0m1.6-1.9h0m0.1-2.7h0m0.2 1h0m0.5-8.3h0m0.1 4.8h0m1.9 13.7h0m0.4-23h0m0.2 9.2h0m0.1 1.1h0m0.2 14.8h0m0.2-19.5h0m0.5 8.7h0m0.2 2.5h0m1 5.7h0m0.2-21.6h0m0.1 1.4h0m1 21.8h0m1.3-23.7h0m0.9 14.4h0m2.7-17.8h0m1.5 17.5h0m0.3 1.4h0m0.5-3.6h0m0.2-9.6h0m0.2-7.4h0m0.4 3.8h0m0 20.3h0m0.3-25.4h0m0.3 3.5h0m0.1 25.2h0m1.7-27.7h0m0.3-0.3h0m0.1 4.9h0m1.5-5.2h0m0.2 27.4h0m0.2-4.7h0m1.1-18.9h0m0.1 19.9h0m0.5-25.5h0m0.1 2.8h0m0.8-1.7h0m0.5 29.2h0m0.4-26.4h0m2.1-4.3h0m1 26.1h0m1.6 5.5h0m0.1-32.8h0m0.6 26.9h0m1.5-26.6h0m0.4-0.7h0m0.9 29.5h0m2.2-2.1h0m0.8 0.1h0m0.6-27h0m1.2 25.5h0m3-27.3h0m0.1 30h0m0.8-33.9h0m0.3 1.3h0m2.3 1.1h0m3.1-1h0m2.6-7.3h0m0.3 2.6h0m1.8 0.9h0m4.4 32.4h0m1-31.3h0m1.5-6h0m1.2 38.2h0m1.3-2.6h0m1.4-37h0m2.1-0.7h0m0.3 1.4h0m0.8 39.8h0m5.7-8.3h0m0.6-32.7h0m5.3 36.7h0m4.8-3.9h0m0.4-34.5h0m2.8 35.3h0m4.9-1.9h0m2.6-2.2h0m0.1 4h0m2.1-42.3h0m1.2 40.9h0m1.1 0.1h0m0 1.3h0m1.3-4.9h0m2.3 4.6h0m2-1.3h0m8.1-45.9h0m1.4 43.4h0m1.1-42.1h0m0.3-2.1h0m1.5 45.2h0m3.9-43.8h0m0.1 40.6h0m0.3 2.5h0m0.3-4.2h0m2.8 2.7h0m0.1-42.5h0m2.7-3.5h0m1.2 43.9h0m1.8-2.1h0m0.4-38.7h0m2.6 37.8h0m1-42.6h0m0.7 43.1h0m1.5-39.7h0m1 36.7h0m0.5 3.5h0m0.1-1.4h0m1.7-2.2h0m2.5-42.8h0m3.7 1.6h0m4.9 40.6h0m0.7 2.5h0m1.7-45.9h0m0.3 44.1h0m3.8-47.2h0m0 3.7h0m0.7-3.7h0m3.3 43.8h0m2.1-44.4h0m5.9 40.5h0m0.2-37.8h0m1-1.3h0m0.8-1.7h0m4.6 40.4h0m2.7-39.4h0m0-1h0m1.7 36.2h0m2-36.8h0m1.6-3.8h0m5.1 5.8h0m2.2 31.6h0m0.1-34.8h0m0.2-0.5h0m1.7 35.4h0m2-6.7h0m2.2-29.2h0m0.1-0.1h0m0.9-1.8h0m0.4 35h0m2.2-34.1h0m2.9 29.2h0m0.7 2.6h0m0.2-1.8h0m4.2-4.6h0m2.3-27.2h0m1.5 11.9h0m2 12.6h0m1.5 3.7h0m1-3.3h0m2.2-23.2h0m0.6 22.5h0m1.3 1.1h0m2.9-5.8h0m0.3-14.4h0m0.2-4.5h0m0.5 16.5h0m0.7-12.3h0m1.5 8h0m1.1 6.9h0m0.1-13.4h0m0.1-1.6h0m0.1-3.2h0m0.7 23.1h0m0.3-18.1h0m1.2 13.2h0m0.2-19.7h0m0.1 17.3h0m0.3 8.6h0m0.8-12.4h0m0.1-14.6h0m0.1 5h0m0.2-3.4h0m0.6 12.1h0m0.2-3h0m0.4-4.2h0m1.5 3.3h0m0.1 15.2h0m0.2-3h0m0.5-9.5h0m0.1-9.4h0m0.1-0.1h0m0.3 10.6h0m0.4 0.9h0m1.4-3.5h0m0-6h0m0.1 12.7h0m0.6-5.3h0m2.1 6.4h0m0.1-14.2h0m1 5.3h0m1.2 2.2h0m1.5-11.4h0m3.3 8.1h0m1.2-6.4h0m0.1 0h0m2.7 8.4h0m0.7-5.8h0"/>
<path stroke="#ff7700" d="M464 623h0m1.2-4.6h0m0.2 3.2h0m0.6-5.8h0m2.6 1.4h0m0.1-1.5h0m0.4 11.2h0m1.3-0.4h0m0.4-2.6h0m0.7-3.4h0m0.8-7.3h0m0.9 9.2h0m0.2 3.1h0m0.8-4h0m0.8 0.5h0m0.1 5.7h0m1.5-8.2h0m0.7 2.8h0m1.1-12.2h0m0.4 8.3h0m1-2.6h0m0.8 6.6h0m0.5-1.1h0m0.8-0.5h0m0.2-10h0m0.2-6.1h0m1.5 10.4h0m0.7 6h0m0-7.8h0m0.3 8h0m0.1-7.2h0m0.1-8.1h0m0.1 17.9h0m0.1-6.3h0m0.1 8.5h0m0.5-19.3h0m0.6 14.2h0m0.3-3h0m0.1-11.8h0m0 18.5h0m0.7-13.5h0m0-7.5h0m0.6 4.7h0m0.6 3.6h0m0.5-9.4h0m0.2 21.2h0m0-12.8h0m0.3 7.7h0m0.4-10.1h0m1.1 12.7h0m0.3 1h0m0.9-19h0m2.1 0.9h0m1.2 14.2h0m1.5-16.7h0m1.3 1.9h0m0.1 17.8h0m0.2-19.2h0m0.4 13.8h0m0.1-12h0m0.5 13.7h0m1.2-20.7h0m3 2.1h0m0.8-0.3h0m0.9 26h0m0.2-27.2h0m0.4 28.2h0m0.1-24.8h0m1.2 20.5h0m0.3-6.1h0m1.9 7h0m0.9-26.9h0m0.4 23.9h0m0.3-25.6h0m0.3 26.9h0m1.4-4.4h0m2.7-24.1h0m0.8-1.2h0m1.8 6.3h0m1.5-7h0m2.9-2.1h0m3.5 33.2h0m1.9-34.8h0m1 1.1h0m1.3-1.1h0m2.8 31.1h0m2.2 0.6h0m1.9-31.3h0m1.8-3.9h0m0 1.4h0m0.1 3.9h0m3.6-7.2h0m0.2 34h0m0-32.7h0m0.3-0.4h0m2.8 32.8h0m0.1 3h0m1.5-35.8h0m0.7-3.3h0m0.2 5.9h0m4-1.4h0m0.1 30.5h0m1.3 1.6h0m0.3-30.4h0m0.5-5.9h0m0.1 37.3h0m1.6-39.4h0m0.1 1.1h0m0.2 37h0m0.4-37h0m0.9 36.1h0m0.9 1.9h0m0.7-3h0m1-33.4h0m0.7-1.9h0m1 36.4h0m0.9 0.4h0m1.2-32.5h0m7.7-5.8h0m2.6 36.4h0m0.3-38.3h0m0.6 36.9h0m1.8-36.9h0m1.7-2.4h0m3.9 1.3h0m0.1-2.4h0m1.2 3.9h0m2.2 35.4h0m0.9-0.3h0m0.3-0.2h0m0.3-0.5h0m1.1-43.8h0m0.1 2.9h0m1.2 42.6h0m3.2-0.5h0m0.7-44.6h0m1.7 2.9h0m0.4 38h0m0.2-40.6h0m1.7 40.7h0m0.6-39.8h0m0.4-1.3h0m5 40.7h0m2.7-43.2h0m5.2 40.5h0m2.1-0.3h0m4.3-2.8h0m2.3 1.1h0m5.2-1h0m2.8-5h0m3 1.1h0m4.5-39.5h0m0.6-1.8h0m0.9 41.6h0m0.6-0.3h0m2.9-41.6h0m0.6 40.5h0m0 0.3h0m0.1-41.2h0m2.6 5.6h0m0.3-1.9h0m0.6 33.1h0m3.3 2.2h0m0.6-35.4h0m1.6 31.2h0m0.1-37h0m1.7 36.1h0m0.2 3.1h0m2.7-1.3h0m1.1-35.2h0m2 27.6h0m2.2-1.4h0m1.7 6.9h0m0.3-37.1h0m2 0.9h0m1.3 31.9h0m0.9-0.2h0m0.1 1.7h0m1.9-28.9h0m1.4 22.6h0m5.7-6.5h0m0.2 2.9h0m1 4h0m2.5-0.4h0m0.5 4.7h0m2.9-6.6h0m0.3-28.8h0m0.1-2.3h0m0.4 8h0m0.1 23.6h0m0.9-2.6h0m0.4-2.7h0m0.1-21.9h0m0.6 26.9h0m0.1 0.5h0m1.6-7.3h0m0.1-19h0m0.5 4.4h0m0.3 15.7h0m2-0.2h0m1.4-23.1h0m0.1 7.8h0m0.1 1h0m0.2 11.4h0m0-18h0m0.1 20.4h0m0.5 2.9h0m0.9 1.7h0m0.2-3.3h0m0 0.3h0m1.6-2.9h0m0.4 2.4h0m0.6-14.7h0m0.4-2.4h0m0.7 1.4h0m1 13.1h0m0.3-21.7h0m1.1 13.7h0m0.1 3.7h0m0.2-12h0m1.5 16.7h0m0.4-0.9h0m0.4-16.5h0m1.4 4.5h0m0.3 11.7h0m1.2-13.3h0m1.4-0.3h0m0.2 3.6h0m0.8-7h0m0.7 0.1h0m0.3-0.2h0m0.8-0.1h0m0.5-3.7h0m0.1 3.5h0m0.2-0.7h0m0.6 7.4h0m0.1-10.8h0m1 11.8h0m1.1-6.9h0m0.9 1.9h0m0.8-4.6h0m0.5 2.6h0m0.8 4.9h0m0.9-5.6h0m3.1 3.5h0m7.2 1.6h0m2.6-7h0"/>
<path stroke="#ff6400" d="M477.5 619.7h0m0.6-9.9h0m0.2 1.7h0m0.8 4.1h0m1.9-3.9h0m0.5 2h0m0.9 0.9h0m0.5 2.8h0m3-6.5h0m1.3 14.5h0m0.6-17.9h0m0.2 17.7h0m0.2-16.2h0m1.3 8.8h0m0.4-1.9h0m1.1 1h0m0.2 3.7h0m2.1 0.2h0m0.5-5.4h0m0.3-4.1h0m0.5-6.7h0m0.5 10.8h0m0.7 1.8h0m1.1-4.7h0m0.5 9.9h0m1.7-3.7h0m0.3 2.4h0m0-20h0m0.6 1.9h0m0.5 20.2h0m0-16h0m0.8 16.3h0m0.1-0.6h0m0.4-11.1h0m0.9 6h0m0.1-0.2h0m0.2-16.5h0m0.5 0h0m0.1-0.9h0m0.6 7.2h0m1.6 9.1h0m0.6 5.1h0m0.3-21.5h0m1.6 8.5h0m0.4-10.8h0m1.5 0.3h0m0.3 22.1h0m0.1 0.9h0m1-1.7h0m0.5-15.5h0m1.9-3.6h0m2.2-7.1h0m1.2 0.3h0m3.1-1.6h0m0.4 1.1h0m0.9 1.8h0m1 23.2h0m1.2 0.5h0m0.3 1.4h0m1.3-0.9h0m0.4-27.1h0m0.6 1.7h0m0.3 25.1h0m0.1-7.4h0m0.7 9.1h0m0.2-4.4h0m0.1-24h0m0.9 27.3h0m4.5-0.1h0m0-30.9h0m3.3-1.1h0m1.5 1.8h0m0.5 25.8h0m5.7-28.9h0m0.4 31.8h0m1.1-3.2h0m1-26.9h0m1.2 26.7h0m1.5-0.8h0m2.1 2.7h0m1-1.7h0m1.6-29.8h0m0.9 30.2h0m1.1-2.9h0m0.5-30h0m2-6.4h0m1.3 39.3h0m1.1-35.1h0m0.6-2.2h0m2.3 2.9h0m0.8-1.6h0m0.2 35.5h0m1.1-37.6h0m2.8 30.9h0m0.1-31.1h0m1.6 34.6h0m0.1-36.3h0m0.5 34.8h0m0.7-34h0m2.4-1.2h0m1.6 35.3h0m0.6 1.4h0m0.6-0.6h0m1-2h0m0.9 1.9h0m3.5-35.2h0m0.7 35.6h0m4.2-42.2h0m3.6 1.8h0m3.6-1.8h0m0.3 38.2h0m1.3 0.5h0m0.9-39h0m0.2-3h0m2.8 2.2h0m2.2 0.3h0m1.1-5.6h0m0.1 6.1h0m1.3 37.2h0m1.7-41.3h0m0.8 1.9h0m2.4 3.2h0m0-5.2h0m3.3 36.4h0m0.9 2h0m2-2.2h0m0.1 0.3h0m0.2-41.5h0m1.8 4.6h0m0.2-2.7h0m0.6 4.4h0m1.3 32.1h0m1.9 2.3h0m0.7-39.4h0m1 38.1h0m0.6-37.4h0m0.9 0.3h0m0.5 2.6h0m0.3 33.7h0m0.9-39.8h0m0.2 4.1h0m5 33.3h0m2-36.5h0m0.9 35.9h0m0.5-36.4h0m0.3 2h0m2.9 35.9h0m1.8-1.7h0m0.2-0.7h0m3.4-1h0m0.7-30.3h0m2.6 29.1h0m0.2-31.9h0m0.4 31.6h0m0.2-1.7h0m0.1-32.5h0m2 6.8h0m0.6-5.6h0m1.5-3.5h0m0.4 35h0m0.6-33.6h0m4 32.3h0m1.7-31.6h0m0.4 4.5h0m0.8-5.8h0m0.3 2.1h0m0.9 25.4h0m1.7 1.8h0m0.6-32.1h0m0.7 35.4h0m0.1-32.8h0m1.2 15.6h0m0.4 12.2h0m1.7-0.3h0m0.1-31.6h0m0.1 5.6h0m0.2 20h0m1.2-23.6h0m0.3 32.3h0m0.2-29.4h0m0.8 3.9h0m0.6-2.3h0m0.1-4h0m1 30.4h0m0.1 0.2h0m0.4-2.6h0m0.6-30.1h0m0.3 6.4h0m1.2-6.7h0m0.7 6.3h0m0.2 19.2h0m0-8.3h0m2.6 7.5h0m2-0.2h0m0.8-25.2h0m0.3 25.7h0m0.2-23.6h0m0.1 15.9h0m0.5-0.4h0m0.2 8.5h0m0.8-19.1h0m1.1-4.8h0m0.5 19.4h0m0-17.1h0m0.9 12.9h0m1-11.9h0m1 0.4h0m0.4 12.7h0m0.1-8.2h0m0.6 14.1h0m0.1-4.9h0m0.7-3.8h0m0.7 4.9h0m0.1 5.3h0m0.3-8.1h0m0.1 1.1h0m0.6-13.8h0m1.5-5.1h0m0.8 8.5h0m1.4-4.7h0m0.3 11.1h0m0.6-13.7h0m0.5 9.1h0m1.9-5.4h0m1.5 7.3h0m1.1-11.7h0m0.4 17h0m0.4 1.5h0m0.2-11.3h0m2.2 9h0m0.6-12.1h0m0.6 6.6h0m1.4-5.3h0m1-7.4h0m0.8 7.3h0m2.9 1.7h0m0.9-1.2h0"/>
<path stroke="#ff5200" d="M479.4 622.9h0m0-11h0m4.1 12.8h0m0.6-9.7h0m0.1-1.4h0m2-2.5h0m1.8 4.9h0m2.1 5.9h0m0.2-1.3h0m0.1 2.4h0m0.6 2.3h0m0.1-19.4h0m0.2 1.9h0m0.7 4h0m0.2 11.8h0m0.3-11.4h0m2.2 1h0m0.6 8h0m0.2-13.6h0m1.5 3.3h0m0.6 1.4h0m0.2 0.6h0m0.3 8.6h0m0.8-9.4h0m0.4-0.1h0m2.4 0.4h0m0.3-10.1h0m1.1 3.7h0m0.2 2.7h0m0.1-8.9h0m0.1 8.6h0m0.2 2.9h0m0.5 1.1h0m1.2-12.3h0m0.1-4.5h0m0.1 18.5h0m0.5-4.5h0m0.4-6h0m1-2.3h0m0.6 5.6h0m0.4 0.3h0m0.4-3.9h0m0.8 14.3h0m1.2-11.9h0m1.4 1.2h0m0.6 8.9h0m1.4-1.6h0m0.1-15.6h0m0.3 0.6h0m0.3 19h0m0.9-7.6h0m0.4 7.5h0m0.1-20.4h0m0.1-2h0m0.3 0.2h0m0.4 14h0m0.2-1.8h0m0.9 5.5h0m1.1-16.5h0m0.1 19h0m0.9-16.4h0m0.8-2.4h0m1.4 18h0m1.7-21.5h0m1-1.2h0m0.4 26.3h0m1.8-25.4h0m0.1 6.6h0m0 15.3h0m1.5-23.8h0m0.2 2.5h0m0.1 1.3h0m0 8.6h0m0.1-10.1h0m0.4 17h0m3.2-13.9h0m0.8-6.8h0m0.8 27h0m0.6 0.7h0m0.2-26.4h0m0.4 0.3h0m1.8-1h0m1.9 1h0m0.6 22.5h0m1.3-25.9h0m2.1 7.3h0m0.2 15.9h0m0.1-23.5h0m0.8 25.5h0m0.8 2.9h0m1.2-29.6h0m0.3 31.5h0m0.9-8.9h0m0.4 6.4h0m0.1-32.6h0m2.1 31.8h0m1.6-1.2h0m0.5-26.5h0m0.4 24.8h0m0.1 3.6h0m3.6-5.2h0m0.3 4.3h0m0.9-30.1h0m0.5-1.7h0m0.5-2.8h0m1 0.5h0m0.4 30.1h0m1.9-0.8h0m1.3 0.5h0m1.4 0.9h0m4.8-1.1h0m0.5 0.9h0m1.2-33.5h0m1.2 34.3h0m0.1-6.4h0m1.4-30.3h0m1.4 2.1h0m0.4-3.5h0m0.4 2.2h0m0.1 30.5h0m0.4-27.4h0m2.5 28.3h0m0.4-29.3h0m1.2 28.9h0m0.5-3.8h0m1.1-27.3h0m3.8-4.6h0m0.8 36.6h0m2.4-38h0m1.5 34.6h0m0.2 1.1h0m1.5-34.9h0m0.5 35.7h0m0.5-1.5h0m2.2 2.4h0m1-33.4h0m1.3 29.1h0m0.2-35.3h0m2.3 0.1h0m0.8 2.5h0m0.1-4.5h0m0.5 37.5h0m0.9-36.3h0m3.1 37.6h0m0.6-1.2h0m3.5-37.3h0m0.8 34.1h0m0.6-0.7h0m0.9-0.7h0m0.4-32.3h0m1.3 34h0m0.6-3.2h0m3.5-35h0m0.9-2.1h0m0.2 39.1h0m0.6-34.8h0m1.9-3.7h0m1.3 37.1h0m0.8-36.2h0m0.2 2.6h0m0.9-2.2h0m2.4-0.8h0m1 34.7h0m0.4-35.5h0m1.8 0.6h0m3 33h0m0.3-32.2h0m0.5 28.3h0m0.3 4.2h0m2.5-0.6h0m0.6-34.8h0m0.6 32.7h0m1.8-28.4h0m0.9 25.8h0m0.5-29.6h0m0.2 28.8h0m1.1-29.4h0m0.5 28.2h0m0.7-27h0m0.4 31.6h0m1.4-4h0m0.1-0.2h0m0.6 5.1h0m1.5-2.1h0m0.7-7.4h0m0.2 3.9h0m0.3-1.5h0m0.2-26.8h0m2 26.7h0m2.1-3.7h0m0.3 5.3h0m0.1-6.2h0m0.1-24.8h0m3.6 5.8h0m0.5 22.5h0m1.2-29.1h0m0.4 2.1h0m0.7 22h0m0.1 1.8h0m2.2 3.6h0m1 1.8h0m0.5-1.1h0m0.1-1.5h0m0.2-26h0m0.8-4.5h0m0.2 15.6h0m0.1-10.7h0m0.4 15.1h0m0.3 6.4h0m2-14.7h0m0.9 9h0m0.4-17.4h0m2.2 25.4h0m0.4-28.3h0m0.6-0.4h0m0.9 23.7h0m2.4-18.6h0m0.4-4h0m0.3 23.3h0m0.1 0h0m0.2 0.1h0m0.1-4h0m0.7-19.5h0m1.3 16.5h0m0.2-10.5h0m0.1 0.9h0m0.2 4h0m0.1 8.3h0m0.1-20.3h0m0.1-0.8h0m1.2 23.6h0m0 1.6h0m1.6-2.7h0m0.5-5h0m0.6 1.7h0m0.3 1.1h0m0.2-7.1h0m0.4 10.6h0m0.1-17.5h0m1.1 12.3h0m0.2-10.1h0m0.2 5.7h0m1-3.6h0m0.6 12.3h0m0.6-14.7h0m1-2h0m0.3 4.7h0m0-1.2h0m0.1 3.9h0m0.1-4.7h0m0.1-2.1h0m0.1 1.8h0m0.4 12.8h0m2.8-15.2h0m0.3 3.7h0m0.2 0.7h0m0.1-2.9h0m0.5 0.5h0m1.2-0.1h0m0.4 6.3h0m0.8-4.7h0m0.3 1h0m0.2-7.1h0m0.1 14h0m1.3-10.6h0m0.1-0.7h0m0.1-1.1h0m7.4-0.5h0"/>
<path stroke="#ff3b00" d="M482.5 614.4h0m10.5 1.3h0m0.6-4.8h0m0-2.5h0m1.7-1.6h0m0.7 9h0m0.7-5.3h0m1.2 2.1h0m1.8-6.7h0m0.7 7.7h0m0.2-0.6h0m0.3-2.5h0m3.2 0.1h0m3.4 5.4h0m0.3-5h0m0 0.2h0m0.8 10.7h0m0.6-9.7h0m0.3-8h0m0.6 9.4h0m0.1-4.9h0m0.1-1.9h0m1.2 7.4h0m0.2-7.8h0m1.9-2.3h0m0.8-4.9h0m2 12.2h0m0.4 2.1h0m0.1-17.4h0m0 8.2h0m0.2 2.1h0m0.5-4.8h0m1.3 5.4h0m0.1 2h0m1.1-6.1h0m0.6 12.8h0m0.5-10.7h0m0.1-1.7h0m0.4 14.7h0m0.2-10.4h0m1-12.7h0m1 9.7h0m0.2-9.9h0m0.3 10.8h0m0.4 4.1h0m0.3-13.6h0m0.4-2.5h0m0.9 21.5h0m0.4-0.7h0m0.3 1.4h0m0.1-8.5h0m0.6-11.4h0m0.7 14.7h0m0.3-2.8h0m1.2-3.8h0m0.1 7.5h0m0.6 2.6h0m0.1-14.5h0m0.3 4.2h0m0.3-4.5h0m0.9-1.4h0m1 17.6h0m0.5-18.8h0m0.3-4.9h0m0.3 17.4h0m0.1-18.7h0m0.2 8.8h0m0.9-5.4h0m1.1 14.7h0m0.4 6.7h0m1.4-27.5h0m0.4 20.3h0m0.2-11.8h0m1.8-4.3h0m0.2 20.4h0m0.9-0.1h0m1.2-16.1h0m0.3-3.8h0m1 18.9h0m0.2-25h0m0.2-0.7h0m0.1 30.4h0m1.1-20h0m3.2-12.6h0m0.9 30.5h0m0.5-6.1h0m2.2-22.9h0m0.6 26.1h0m0.2-0.2h0m0.7-30h0m1.5 4.6h0m1.5 23.7h0m4 3.1h0m1.1 0.6h0m0.4-30h0m2.8 3.5h0m0.8 24.8h0m0.1-32.3h0m0.1 29.9h0m2-0.9h0m0.3-21.8h0m1.2-8.8h0m0.4 32.8h0m0.6-3.1h0m6.2-32.7h0m0.2 33.9h0m0.1-30.6h0m0.6 26.5h0m0.3-1.6h0m0.4 9.4h0m0.5-9h0m0.5-24.7h0m1.6 23.7h0m0.1 3.9h0m4.4-3.4h0m0.1-26.3h0m2.9 24.6h0m1 5.3h0m0.6-31.2h0m0.1-0.3h0m0.1-0.6h0m1.3-0.8h0m1.8-2.8h0m1.4 32.3h0m2.3 1.5h0m0.7-31.7h0m0.4-4.4h0m0.3 33.9h0m1.2 3.2h0m0.3-34.2h0m3.5 31.3h0m0.7-33.2h0m0.9-2.8h0m9.3 4h0m0.3-5.7h0m0.5 34.9h0m3.8-6h0m0.7-29.2h0m0.6-0.6h0m4 34.9h0m1.1-36h0m0.2 0.3h0m1.7 1.3h0m1.7 30.3h0m0.2-29.1h0m0.9 25.6h0m0.7-25.5h0m1 27.2h0m0.2-23.6h0m1.5-5.5h0m1.5-0.9h0m1.4 2h0m0.1-0.2h0m0.4-1.3h0m2.2 23.9h0m2.2-22.9h0m1 3.4h0m1.5-8.1h0m4.3 12.8h0m1.4 7.4h0m0.7-15.3h0m0.5 0.2h0m0.2 22.4h0m3.1-21.9h0m0.3 20.4h0m0.1 0.2h0m1.4-22.6h0m3.4 20.7h0m1.6-4.4h0m0.5-18.9h0m0.1 3h0m0.7 17.2h0m0.2-1.2h0m0.8-18.4h0m1.2-0.9h0m1.1 4.1h0m1.8-8.6h0m0.1 6.2h0m0.5 21.5h0m0.9-21.3h0m1.1 4.5h0m1.4 11.6h0m1.1-11.2h0m0.8 13.9h0m1.2-14.1h0m0.7-6.2h0m3-1.9h0m0.5 13.7h0m0.1-2.8h0m1.7-6.8h0m0.5 4.4h0m2.5-13.9h0m0.9 8.8h0m0.6 0.3h0m0.2-4.9h0m1.3 14.6h0m1-16h0m1.8 10.5h0m0.9-8.2h0m1.7 0.8h0m2.9-6.2h0m5.3 7.8h0m2.7-0.9h0"/>
<path stroke="#ff2900" d="M500.1 613.3h0m0.5-1.4h0m1 1.4h0m0.2-2.4h0m1.8-6.5h0m0.2 5.5h0m1.2 2.2h0m2.2 2.9h0m2.4-5.4h0m0-1.5h0m2.8-2.8h0m2.7-2h0m2.6-1.1h0m2 2.2h0m0.3 0.5h0m1.6 2h0m0.5-8.9h0m2.1 18.5h0m0.5-5.1h0m0.4-3.7h0m0.2 4h0m0.5-16.2h0m0.3 15.9h0m0.4-0.4h0m0.1-3.5h0m0.7-11.6h0m0.6 10.5h0m1.8-5.3h0m0.1 4.4h0m0.4-10.6h0m0.4 4.7h0m0.5 5.1h0m0.2-5.5h0m0.4 11.9h0m1.5-3h0m0.9 3.5h0m2.1-1h0m0.8 3.5h0m0.1-5.5h0m0.5-18.8h0m0.2 14.9h0m0.1 3.1h0m0.1-12.2h0m1.4 12.3h0m0.1-15.6h0m0.1 1.8h0m0.7 17.9h0m0.1-17.5h0m0.7 14.6h0m0.1-12.9h0m0.6 11.6h0m0.1-1.9h0m0.4-11h0m1.4-7.1h0m0.8 3.4h0m0.9 8.5h0m0.1 8.3h0m0.5 6.1h0m1-2.4h0m3.9-2.5h0m0.3-19h0m1.7 19.8h0m0.3-21h0m0.6 15.1h0m0.9 3.8h0m0.2 1h0m0.5-17.8h0m0.4-5.9h0m0.6 23.5h0m0.3-1.1h0m0.1 2.3h0m1.7-3h0m1-0.8h0m1.1-20.9h0m0 23.2h0m0.4-6h0m0.1 7.3h0m0.6-10.7h0m1.1-19.6h0m0.4 27.6h0m0.1-13h0m0.1 13.5h0m0.4-3.3h0m0.4-18.9h0m0.7-0.8h0m0.6 1h0m0.8-4.2h0m2.2 20.4h0m5.8 2.3h0m1 3.6h0m1.3-28.9h0m0.1 0.6h0m1.4 28.9h0m1.2-25.8h0m0.5 23.1h0m0.9 1.2h0m1.1 0.9h0m0-5.1h0m2.4 0.3h0m0.5 1.3h0m0.8-0.9h0m1.3-27.8h0m0.2-2.4h0m1.7-1.5h0m0.3 33.3h0m0.8-32h0m1.9 31.8h0m0.7-4h0m1-29.3h0m8.5 1.9h0m5.4 22.3h0m1.3-0.6h0m2.5 3.2h0m0.1-1.8h0m0-4.2h0m0.1-25.1h0m1.4 28.5h0m1.4-4.1h0m2.6-19.1h0m0.1 0.3h0m0.1 24.3h0m0.8 0.4h0m0.2-0.5h0m3.5-2h0m0.9-22.8h0m3.2-2.2h0m2.5-2.3h0m0.2 28.5h0m1.2-1.5h0m1.2-26.3h0m0.3 22.9h0m2.3-3.1h0m0-28.1h0m0.5 10.3h0m0.3-3h0m1.1 15h0m1.1-15.7h0m0.5-4.5h0m0.5-1.8h0m0.4 30.7h0m0.7-8.2h0m0.4-22.1h0m0.3 27.2h0m0.1-5.2h0m0.5 4h0m0.3-24.3h0m0.8 2.2h0m0.8-4.7h0m0.1 6.8h0m0.7-3.3h0m0.8 1h0m0.1 19.9h0m0.3-20.9h0m0.3 27.2h0m0.3-29.8h0m0.4 21.9h0m0.9-17h0m0.3 14h0m0.3-7.7h0m0.2-3.9h0m1.1 19.3h0m0.3 2.8h0m1.1-5.5h0m1.6-20.2h0m1.7 15.3h0m0.1-1.6h0m0.2 8.6h0m0.3-0.1h0m2-16.2h0m0.9 8.9h0m0.4-8.9h0m1.8-9.3h0m0.2 1.7h0m0.1 3.5h0m0.6 17.6h0m0.2-1.2h0m0-8.9h0m0.5-8.4h0m0.6 13.3h0m0.4-1.8h0m0.1-12h0m0.1 7.4h0m0.1 7h0m1-19.5h0m0.9 12.1h0m0 4.7h0m0.7 4.8h0m0.4-11.4h0m0.2-6.8h0m0.1 10.2h0m1 7.2h0m0.3-21.6h0m0.1 2.2h0m0.6 1.9h0m0.9 0.6h0m0.6 14.3h0m0.9-16.9h0m0.5 3.3h0m0.3 5h0m0.3-5.8h0m1 3.6h0m0.4 4.5h0m0.4-5.6h0m0.5-5.6h0m0.4 9h0m2 2.5h0m0.4 0.7h0m0.3-7.4h0m0.2-2.2h0m0.1 7.9h0m0.5-11h0m0.8 6.4h0m1.4 7.1h0m0.2-12h0m0.2 13.8h0m1-13h0m1.2 2.1h0m1.3 1.6h0m0.3-0.5h0m2.3 1.4h0m0.2-6.1h0m1.2 5.7h0m1.8-1h0m2-10.6h0m2.1 5.8h0m6.7 1.6h0"/>
<path stroke="#ff1600" d="M503.9 610.2h0m9.3-3.4h0m0.6 8.8h0m1.9-3.3h0m1.6-2h0m0.9-4.5h0m0.3 6.6h0m0.2-13.8h0m2.4 5.8h0m0.4 4.1h0m1.6-2.5h0m0.3-1.7h0m0.9-0.9h0m0.2-1.9h0m0.6 0.8h0m0.8 10.7h0m2.7-9.1h0m1.7 3.4h0m0.1 2.7h0m0.6-3.3h0m0.8-5h0m2.5-0.2h0m0.7-3.9h0m0.2 0h0m0.8-1.7h0m0.3 4.1h0m0.1 7.7h0m0.4 4.4h0m0.5-7h0m1.1-13.6h0m0.2 6.7h0m1.2 5.1h0m0.1-8.2h0m0.6 6h0m2-8.8h0m2.4 21h0m0.2-12.8h0m0.1-8.2h0m0.1 15.7h0m0-4h0m0.6-6h0m0.1 9.8h0m1.4-2.3h0m0.1-6.2h0m0.5-8.3h0m0.1 9.8h0m0.3-11h0m0.3 12.6h0m0.3 4.3h0m2-14.5h0m2.3 8.2h0m0.1-10.3h0m1.4-7.7h0m0.3 20.1h0m0.4-6.8h0m1.1 9.4h0m1.9 5.1h0m0.2-1.8h0m0.6-13.4h0m0-11h0m0.1 4.8h0m1.3-2.7h0m0.2 24.3h0m1-20.2h0m0.1-3.1h0m0.1 10.4h0m0.5-1.1h0m0.4-9.2h0m0.6 20.5h0m0.4-3.3h0m0.4-17.8h0m0.1 1.4h0m0.8 2h0m3.1 9h0m0.4-12.8h0m0 7.3h0m0.4-15.1h0m0.1 23.6h0m0.1 5.9h0m0-25.7h0m2.3-1.3h0m0.4-2.3h0m0.9 23.8h0m0.3-1.1h0m0.2-12.4h0m1.4-5.5h0m0.1-2.2h0m1.9 1.2h0m0.4 19.9h0m1.6-19.1h0m1.5-1.9h0m0.1-3h0m0.7 0.7h0m0.4 2.9h0m0.4-2.8h0m0.4 4.6h0m2.4 14.6h0m0.2 2.3h0m0.6 2.6h0m3.5-4.3h0m0.2-16.4h0m2.6 23.4h0m3.7-19.1h0m0.1-9.7h0m0.3 20.7h0m0.3 0.4h0m0.1-23.1h0m0.5-4.5h0m0 31.4h0m1.7-23.7h0m1-5.9h0m0.4-2.6h0m0.1 3.4h0m1.7 2.7h0m1.1-5.1h0m0.7 23.2h0m0.7 0.5h0m0.1-23.5h0m0.6-3.2h0m0.9 24.7h0m1.5-15.9h0m0 12h0m1.1-10.1h0m1.9 19.5h0m0.1-30.6h0m1.5 30.9h0m0.2-24.8h0m0.6-6.9h0m0.3 27h0m1.5 5.3h0m0.4-27.3h0m0.2 23.6h0m0.7-23.8h0m1.2-3.9h0m0.3 25.1h0m1-24.6h0m0.1 26.3h0m1.4-24.4h0m1.2 21.6h0m0.1 4.4h0m0.3-5.4h0m0.5-21.5h0m0.6 21.7h0m0-21.8h0m0.3 23.5h0m1.6-4.3h0m0.3-21h0m2.6-2.4h0m0 4h0m0.3 16.5h0m1.1 5.1h0m1.2 2h0m1.6-22.4h0m0.2-2.4h0m0.6 7.5h0m0.4 8h0m1.1-16.3h0m0.9 5.6h0m0.7 13.4h0m0.3-20.2h0m0.9-1.7h0m1.5 23h0m0.1-19.3h0m1.2 16.2h0m0.6 0.9h0m0.4-19.8h0m0.4 7.6h0m2.1-5.3h0m0.4 18.3h0m0.3 2.8h0m0.2-22.6h0m0.7 21.1h0m1.6-23.3h0m0.2 22.1h0m0.4-22.8h0m1 5.7h0m1-2.4h0m0.5 12.9h0m0.6-14h0m1.5 15.8h0m0.1-2.7h0m2.1-7.8h0m0.2 8.4h0m0.1-13.5h0m0.1 0.7h0m0.1 14.4h0m0.7-16.4h0m0.1 15.8h0m0.5 4.4h0m0.8-23.7h0m0.2 2h0m0.1 9.2h0m0.3-10.2h0m0.1 2.6h0m0 20h0m0.7-10.6h0m0.5 7.8h0m0.2-20.3h0m0.6 14.2h0m0.1-3.8h0m0 7.8h0m0.1-12.6h0m0.4-3.3h0m2.1 10.9h0m0.3-9.3h0m0.4 9.8h0m1.1-6.3h0m1.1 2.4h0m0.5 7.1h0m0.7-7.4h0m0.4-1.7h0m0.4-7.4h0m2.1 4h0m0.2 11.6h0m0.3-3.2h0m0.1-2.4h0m0.4 0.5h0m1.6-9.9h0m0.2 10h0m0.2-8.6h0m0.3 12.3h0m1.2-9.1h0m2.2 4.9h0m1.3-1.3h0m0.4 1.7h0m1-6.8h0m10.4 0.5h0"/>
<path stroke="#e80000" d="M516.2 607.9h0m2.4-4h0m1 2.7h0m0.4-5h0m4.7 4.7h0m3-7.7h0m0.4 3.3h0m1.5 0.5h0m1.7 2.4h0m2.3 4.1h0m0.1-10.6h0m0.3 0.2h0m0.5-2.6h0m0.3 13.3h0m0.7-1.6h0m1.2-9.1h0m2.6 4h0m0.2 4.7h0m0.2-2.3h0m1-5.9h0m0.5-3.8h0m0.4 8.2h0m1.8 7h0m0.8-16.8h0m2.9 1.4h0m0.6 2.3h0m1.7 0.8h0m0.8-7.1h0m0.4 7.7h0m0.7-5.8h0m0.3 14.9h0m0.3-8.4h0m0.3 7.2h0m0.2-1.9h0m0.1-2.2h0m0.8 4.2h0m0.4-7.5h0m0.3-6.4h0m0 8.1h0m0.2-13.3h0m0.3 16.4h0m0.8-4.6h0m0.3-3.6h0m0.1 9.2h0m0.8-1.4h0m0.6-3.8h0m0.6 5.1h0m0.6-16.6h0m0.6 3.4h0m0.9 6.6h0m0.2-13.2h0m2.1 14.6h0m0.9-8.1h0m0.7 9.6h0m2.5-17.6h0m0.1 15h0m0.5 0.3h0m0.7-6.4h0m0.1 1.5h0m0.6-9.2h0m0.1 19.1h0m0.4-0.6h0m1.8-9.2h0m0.5 5.9h0m0.3-20.8h0m0.6 27.1h0m0.4-8.7h0m0.3-0.8h0m0.6-8h0m0.3-5.9h0m0.3 7.6h0m0 13h0m0-13.8h0m0.6 8.9h0m0.2 4h0m0.7-17.9h0m0.3 4.8h0m0.1-8.4h0m0.1 2.3h0m0.2 18.1h0m0.3 2.3h0m0.1-2.9h0m0.3 3.3h0m1-23.8h0m0.8 20.8h0m0.3-18h0m0.6 16.1h0m0.4-7.9h0m0 10.8h0m0.4 0.7h0m0.1-23.1h0m0.2 9.2h0m2.3-3h0m0.1-6.9h0m0.2 21.4h0m0.1-23.7h0m0.4 24.7h0m0.6-2.2h0m1.2-19h0m0.5-3.8h0m0 24.5h0m2.1-7.9h0m0.4-5.5h0m0.8 3.7h0m0.2 10h0m0.2-11h0m0.1-7.5h0m0.4 19.3h0m0.1-25.8h0m0 3.7h0m0.6 1.3h0m0.4 19.2h0m1.2-4.8h0m0.3-0.8h0m0.3 9.4h0m1.8-21.1h0m0.4 16.6h0m2.4-16.2h0m0.4-6.7h0m0.8-5.9h0m0.8 28.9h0m0.2-1.1h0m1.5-16.9h0m0 14.4h0m1.9-21.3h0m1.2 25.4h0m0.3-23.8h0m0.4 21.9h0m0.1-8.2h0m0.3 6.8h0m0.7-25.8h0m1 11.5h0m0.4 14.8h0m0.1-4.6h0m0.7 0.9h0m0.3-18.7h0m0.8 16.9h0m2.1 2.1h0m0.1-23.9h0m0.4 19.3h0m0.5 5.9h0m0-21.4h0m0.8-1.1h0m1 0.8h0m2.4 19.5h0m0.5-1h0m1.3 1.5h0m0.4 0.8h0m0-2.7h0m0.9-16h0m0.2-4.4h0m0.1 16.9h0m0.3-0.9h0m1.1-18.9h0m0.7 22h0m0-19h0m1.3 10.4h0m1 7.8h0m0.3-1h0m1.8-19.3h0m1.6 3h0m0.7 17.2h0m1.3-1.2h0m0.5-21.1h0m0.6 9h0m0-7h0m0.8 3.7h0m0.8-4.5h0m2 9.9h0m0.2 9.2h0m0.5-4.3h0m0.1-14.6h0m0.3 5.3h0m0.3 12.2h0m0-10h0m0.4-3.7h0m0.1 3.5h0m0.8-6.7h0m1.1-6.3h0m0.4 6.2h0m0-3.9h0m1 3.3h0m1 9h0m0.2 1.6h0m0.3 2.3h0m0-0.9h0m1 2.4h0m0.5-5.2h0m0.1-9.6h0m0.3-4.4h0m0.4 1.4h0m0.4 16.2h0m0.8-1.2h0m1.4-15.9h0m0.2 14.8h0m1.1 0.5h0m0.3-11.7h0m0.3 14.3h0m0.8-11.1h0m0.1-7h0m0.9 16.8h0m0.3-13.5h0m1.2 13.2h0m0.3-0.5h0m0.5-0.7h0m0.5-14.5h0m0.1 11.4h0m0 0.7h0m0.1-2.6h0m0.3-6.9h0m1 4.1h0m0.1 10.1h0m0.5 0.1h0m0.1-6.7h0m1.3-3.4h0m0.4-7.4h0m0.2 3.2h0m1.3 0.6h0m0.1 3.1h0m1 4.3h0m0.9-5.5h0m0.6 5.4h0m1.7 0.1h0m0.6 0.3h0m2.2-0.5h0m4.8-11.8h0m1.8-1.1h0m1.1 0.5h0m1.4-0.9h0m0.4 5.4h0m1.3 1.2h0"/>
<path stroke="#d10000" d="M528.2 601.7h0m4.1 2.4h0m0 3.5h0m4.9-10.4h0m2 10.4h0m2.1 0h0m1.6-13.3h0m0.8 2.6h0m0.3 7.1h0m0.5 2.2h0m1.2-7.8h0m0.5 8.4h0m1.4-6.7h0m1.5-5.1h0m4.5 11.4h0m0.2-10.2h0m0.3 8.8h0m0.5-9.6h0m1.3 0.8h0m1.2 0.7h0m0.2 6.9h0m2.8-1.1h0m0.3-4.7h0m1.9-4.6h0m0.3 10.3h0m1.4-14.4h0m1.2 3.1h0m0 8.8h0m0.3-12.6h0m0.1 10.1h0m2.4-3.5h0m0.6 0.9h0m0 1.8h0m0.5-6.3h0m0.6-5.6h0m1.4 14.2h0m2.3-5.9h0m0.8-1.8h0m0.3-8.6h0m0.7 2.4h0m0.7 2h0m0.3-6.1h0m0.9 8.5h0m0.9 0.8h0m0-2.4h0m0.4-6.3h0m2.6 3.8h0m1.3 3.9h0m1.5-4.9h0m0.3-2.9h0m0.2 2.1h0m0.1 4.8h0m0.3 3.6h0m0.5-1.7h0m0.4 1.9h0m0.3 6.5h0m0.5-2.1h0m0.6-11.9h0m0.4 2.9h0m0.1 8.5h0m0.2 2.6h0m1.8-0.9h0m0.5-4.8h0m0.3-4.6h0m1.1-8.3h0m0.4 15.5h0m0.1-4.7h0m0.3-4.4h0m0.1-7.1h0m0.6 20.3h0m0.4-2.9h0m1-18.9h0m0.3 6.9h0m0.5-12.2h0m0.4 8h0m0.1-4.2h0m0.6-4.4h0m0.2 5.4h0m0.1 6.5h0m0.6 10.3h0m0.5-16.4h0m0.3 9.9h0m0.9 0.9h0m0.2 8.9h0m1.5-21.3h0m0.7 15.8h0m0.4 4.6h0m0.2-22h0m0.1-0.3h0m0.1 16.4h0m0.1-19.4h0m0.4 1.9h0m0.3 24.9h0m1.2-18.2h0m0.6-6.3h0m0.8 8.8h0m0.2-6.9h0m0.5 4.3h0m1.1-3.7h0m0.3-6.6h0m1.7 21.9h0m0.3-16.5h0m0.7-2.1h0m0.8 13.9h0m0.7 6.1h0m1.1-3.4h0m0.2 4h0m1.2-15h0m0.4-6.6h0m0.5-2.5h0m0.3 4.9h0m0.5 0.4h0m0.3-3.8h0m0.3 18.7h0m0.6-17.8h0m0.2 17.5h0m0.7 1.7h0m0.7-5.8h0m0.7 4.2h0m0.3-4.7h0m0.8 5h0m0.2-21.7h0m1.2 18.5h0m0.8 1.1h0m0.1-18.9h0m1.2 1.6h0m0.7 13.9h0m0-0.1h0m0.2 3h0m0.1 3.6h0m0.7-16.7h0m0.7 2.8h0m0.2 1.3h0m1.8-2.8h0m0.1 4.4h0m0.9-5.3h0m0.6 6.2h0m0.1-8.2h0m1.4 9.6h0m0.6-8.4h0m0.2-2.1h0m0.3-0.3h0m0.3 4.1h0m5.8 2.4h0m0.7-6.9h0m0.2-3h0m0.2 3.9h0m0.6 1.8h0m3.4 5.4h0m1.9-1h0m1.5-12.1h0m0.1 4.2h0m0.7 7.2h0m0.5-7.6h0m1.2-0.7h0m0.1 6.9h0m0.6 0.1h0m0.1-5.9h0m0.3 7.2h0m3.5-10.6h0m0.2 4.5h0m0.5 6.9h0m0.9-14.5h0m0.4 2.3h0m0.4-1.2h0m0.3 4h0m3.9-3.8h0m0.4 2.6h0"/>
<path stroke="#bb0000" d="M538.4 605.8h0m7.2-6.2h0m0.9 2.1h0m4.7-3.7h0m6.4-2.9h0m1-0.6h0m0.1-1.8h0m0.3 11.1h0m1.7-7.9h0m0.1 3.7h0m1.6-2.7h0m0.7-8.4h0m1 13h0m0.9-10.3h0m0.1 2.9h0m0.7 4.2h0m1.3-9.7h0m1.5 1.4h0m1.4 4.4h0m1.1-6.7h0m1.7 10.3h0m1.5-4.3h0m1.4-2.3h0m2.1 0h0m1.8 1.6h0m1 0.6h0m0.2-0.9h0m0.3 6h0m0.7-11.4h0m0.1 4.6h0m0.4 0.8h0m0.1 7h0m0.6-15.9h0m0.1 9.4h0m0.3-4.1h0m1.4-5.6h0m0.6 15.8h0m0.1-0.7h0m0.5-7.5h0m0.8 6.4h0m0.1-11.4h0m1.6 5.5h0m1.4-2.7h0m0.6-7.5h0m0 3.4h0m2.1-0.2h0m0.9 6.9h0m0.1-4.1h0m0.1 4.5h0m0.1-10.5h0m0.3 5.1h0m0.1-2.6h0m1.2 10.4h0m0-5.1h0m2.5-2.6h0m0.2 0.6h0m0.4-3.3h0m0.2-6h0m0.5 0.6h0m0.9-1.2h0m0.6 11.2h0m0.7-7.4h0m2.1 11.6h0m0.2-3.1h0m1.6-10.7h0m1.2 18.4h0m0-19.9h0m0.3 1.9h0m0 5.5h0m1.4 4.3h0m0.5-11.1h0m0.7 15h0m0.3-16h0m0.2-4.4h0m0.2 8.6h0m0-3h0m0.2-0.9h0m0.4 10.2h0m0.4 3.5h0m0.4-10.8h0m0.3 6.7h0m0.1 4.2h0m0.1-2.3h0m0.9-14.4h0m0.4-1.5h0m1 18.5h0m0.4 2.9h0m0.2-4.7h0m0.4 0.8h0m0.3-8.7h0m0.8 11.9h0m1.6-16.7h0m0.1 9.4h0m0.4 0.8h0m0.2 2.3h0m0.5 0.9h0m0.4-12h0m1.3 9.3h0m0.6-14h0m1.6 6.8h0m0.3-2.4h0m0.1 14.3h0m0.5-20.8h0m0.5 4.5h0m0.6 9.5h0m0.1-7.4h0m0.2 11.6h0m0.1-12.4h0m0.1 4.9h0m3-7.8h0m1.6 7.5h0m0.7 0.2h0m0.6-4.5h0m1 5h0m5.1-6.6h0m0.8-2h0m0.1 1.9h0m1.4 1.4h0m0.3-5.6h0m0.7 13h0m5.4-4.2h0m0.4 3.8h0m0.3-18.3h0m0 16h0m0.1-4.7h0m1 2h0m0.7-3.5h0m3.7-4.5h0m0.3 1h0m6.3 3.4h0"/>
<path stroke="#9f0000" d="M550.1 605.4h0m10.9-7.3h0m0.2-7h0m6.6 9.2h0m1.4-4.1h0m0.7-9.3h0m1.8 12.6h0m0.8-3.7h0m0.4 3.5h0m0.7-1.9h0m3.9-4.4h0m0.2-1.8h0m2-0.8h0m0.3-2.1h0m2.2 10h0m2.1-11.4h0m2.2-3.4h0m0.1 7.1h0m0.4 0.6h0m0.3-7.4h0m1.3 6.2h0m2.9-1.8h0m2.9-3.8h0m0.7 9h0m2.2-13.6h0m0.7 10.9h0m1-2.9h0m0.7-2.4h0m0.7 3.5h0m0.2 1.1h0m0.4-5.3h0m1.4 4.4h0m1.4-9.4h0m1.4 7h0m0.3-3.3h0m0.8 1.7h0m1.5 3.6h0m0.5-3.7h0m1.6 6.3h0m0.7-5.3h0m0.2 4.9h0m1.5-6.3h0m0.1-3.9h0m1.5 1.3h0m2-0.7h0m0.1-3.2h0m0.1-1.8h0m0.3 5.7h0m1.2-1.7h0m0.6-3.4h0m0.4-3.3h0m0.7 18.3h0m0-7.2h0m0.6-15.3h0m0.7 10h0m0.2 3.9h0m0.8-9.1h0m0.1 12.6h0m1.1-9.4h0m0.5 4.5h0m0.2-0.5h0m0.4 9.1h0m1.4-3.6h0m0.5-2.2h0m0.6-6.3h0m0.1 8.3h0m1.9-16.4h0m0.8 12.7h0m0-5.5h0m0.1 1.4h0m0.6 6h0m0.4-1.9h0m1-2.5h0m0.6 2.8h0m1.7-4.3h0m2.9-3.5h0m4.4-3.1h0m0.4 12.1h0m1.2-10.8h0m0-0.2h0m3.4-1.2h0m0.5 6.1h0m2-7.6h0"/>
<path stroke="#890000" d="M568.4 598.3h0m1.7 2.5h0m1.7-5.6h0m3.6-3.1h0m5.9 1.6h0m0.8 2.4h0m6.3-8.7h0m1.6 7.3h0m0.4-3.2h0m0-1.7h0m0.5-0.9h0m0.4-3.7h0m0.8 0.4h0m0.4-4.2h0m2.7 4.2h0m4.2 5.1h0m1 1.7h0m0.1-3.3h0m0.9 0.3h0m1.9 0.6h0m0.6-2.1h0m0.1-3.1h0m1.1 4.2h0m0.7-10.1h0m0.9 1.5h0m1.2-3.7h0m1.1 13.3h0m0.1 2h0m0.2-8.7h0m2-9h0m2.3 8.8h0m0.2-3.2h0m0.2-1.1h0m0.7-4.1h0m0.4 5.7h0m4.6 3.3h0m0.3-7.9h0m0.4 8.1h0m0.8-3.9h0m5.7 1h0m0.6-1.8h0m1.4 2.4h0m0.6 2.4h0m0.9-3.8h0m0.1-3.8h0m1.5 2.6h0m3.7 0.4h0m1.7-3h0m10.2 1.2h0"/>
</g>
<g filter="url(#tsoft)"><path d="M200.2 771.5L1923.2 50.4" fill="none" stroke="#000" stroke-width="1.3" stroke-dasharray="5.2 2.2"/></g>
<g fill="none" filter="url(#lsoft)"><path d="M200.2 49.4V772.5M1923.2 49.4V772.5" stroke="#4a4a4a" stroke-width="1.7"/><path d="M199.4 50.4H1924.0M199.4 771.5H1924.0" stroke="#606060" stroke-width="2.1"/><path d="M200.2 771.5v6.7M372.4 771.5v6.7M545.6 771.5v6.7M717.3 771.5v6.7M888.8 771.5v6.7M1062.1 771.5v6.7M1234.3 771.5v6.7M1406.7 771.5v6.7M1579.9 771.5v6.7M1751.4 771.5v6.7M1923.2 771.5v6.7" stroke="#333" stroke-width="1.5"/><path d="M200.2 50.4h-6.7M200.2 121.8h-6.7M200.2 193.2h-6.7M200.2 265.6h-6.7M200.2 337.7h-6.7M200.2 411.0h-6.7M200.2 482.3h-6.7M200.2 553.8h-6.7M200.2 626.6h-6.7M200.2 699.4h-6.7M200.2 771.5h-6.7" stroke="#484848" stroke-width="2"/></g>
<rect x="415.8" y="938.8" width="1411.0" height="70.3" fill="url(#jet)"/>
<rect x="416.5" y="939.5" width="1409.6" height="68.9" fill="none" stroke="#000" stroke-opacity="0.4" stroke-width="1.4"/>
<g filter="url(#lsoft)" fill="none"><path d="M908.3 1009.1v5M1401.6 1009.1v5" stroke="#333" stroke-width="1.3"/></g>
<g filter="url(#tsoft)">
<text x="173.0" y="807.0" font-size="34.7" textLength="51.4" lengthAdjust="spacing">−80</text>
<text x="135.2" y="782.7" font-size="34.1" textLength="51.4" lengthAdjust="spacing">−80</text>
<text x="345.5" y="807.0" font-size="34.7" textLength="52.4" lengthAdjust="spacing">−72</text>
<text x="135.2" y="710.6" font-size="34.1" textLength="52.4" lengthAdjust="spacing">−72</text>
<text x="518.4" y="807.0" font-size="34.7" textLength="50.4" lengthAdjust="spacing">−64</text>
<text x="135.2" y="637.8" font-size="34.1" textLength="50.4" lengthAdjust="spacing">−64</text>
<text x="690.6" y="807.0" font-size="34.7" textLength="50.4" lengthAdjust="spacing">−56</text>
<text x="135.2" y="565.0" font-size="34.1" textLength="51.4" lengthAdjust="spacing">−56</text>
<text x="861.6" y="807.0" font-size="34.7" textLength="51.4" lengthAdjust="spacing">−48</text>
<text x="135.2" y="493.5" font-size="34.1" textLength="51.4" lengthAdjust="spacing">−48</text>
<text x="1035.4" y="807.0" font-size="34.7" textLength="51.4" lengthAdjust="spacing">−40</text>
<text x="135.2" y="422.2" font-size="34.1" textLength="51.4" lengthAdjust="spacing">−40</text>
<text x="1207.6" y="807.0" font-size="34.7" textLength="51.4" lengthAdjust="spacing">−32</text>
<text x="135.2" y="348.9" font-size="34.1" textLength="52.4" lengthAdjust="spacing">−32</text>
<text x="1380.0" y="807.0" font-size="34.7" textLength="50.4" lengthAdjust="spacing">−24</text>
<text x="135.2" y="276.8" font-size="34.1" textLength="50.4" lengthAdjust="spacing">−24</text>
<text x="1553.2" y="807.0" font-size="34.7" textLength="50.4" lengthAdjust="spacing">−16</text>
<text x="135.2" y="204.4" font-size="34.1" textLength="51.4" lengthAdjust="spacing">−16</text>
<text x="1733.2" y="807.0" font-size="34.7" textLength="32.8" lengthAdjust="spacing">−8</text>
<text x="152.8" y="133.0" font-size="34.1" textLength="33.8" lengthAdjust="spacing">−8</text>
<text x="1915.7" y="807.0" font-size="34.7" textLength="9.0" lengthAdjust="spacing">0</text>
<text x="171.8" y="61.6" font-size="34.1" textLength="15.2" lengthAdjust="spacing">0</text>
<text word-spacing="-5" x="742.8" y="880.6" font-size="44.4" textLength="617.2" lengthAdjust="spacing">Air temperature from AWS/<tspan font-size="38.2">℃</tspan></text>
<text word-spacing="-4" x="67.7" y="808.6" font-size="43.4" textLength="719.6" lengthAdjust="spacing" transform="rotate(-90 67.7 808.6)">Air temperature from MERRA-2/<tspan font-size="37.3">℃</tspan></text>
<text x="227.8" y="134.5" font-size="43.8" textLength="178.0" lengthAdjust="spacing">N=10693</text>
<text x="227.8" y="192.9" font-size="43.8" textLength="137.8" lengthAdjust="spacing">R=0.95</text>
<text x="227.8" y="251.3" font-size="43.8" textLength="275.4" lengthAdjust="spacing">RMSE=4.13<tspan font-size="37.7">℃</tspan></text>
<text x="884.0" y="1057.3" font-size="36.2" textLength="55.0" lengthAdjust="spacing">500</text>
<text x="1369.0" y="1059.1" font-size="36" textLength="74.0" lengthAdjust="spacing">1000</text>
<text word-spacing="-5" x="24.4" y="986.5" font-size="45.2" textLength="356.0" lengthAdjust="spacing">Numbei of point:</text>
</g>
</svg>
</body></html>
